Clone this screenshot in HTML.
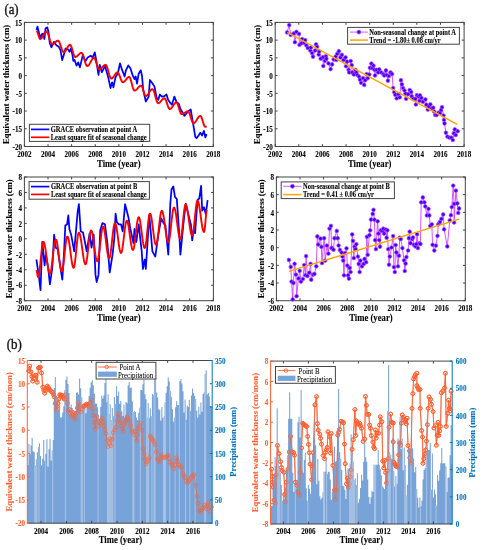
<!DOCTYPE html><html><head><meta charset="utf-8"><style>html,body{margin:0;padding:0;background:#fff;overflow:hidden}svg{display:block;filter:blur(0.3px)}</style></head><body><svg width="483" height="550" viewBox="0 0 483 550"><rect x="0" y="0" width="483" height="550" fill="#fff"/><text transform="translate(4.4 13.9) scale(1 1.08)" font-family="Liberation Serif" font-weight="normal" font-size="12.8" text-anchor="start" fill="#111" stroke="#111" stroke-width="0.3">(a)</text><text transform="translate(6.8 349) scale(1 1.08)" font-family="Liberation Serif" font-weight="normal" font-size="13.0" text-anchor="start" fill="#111" stroke="#111" stroke-width="0.3">(b)</text><line x1="24.4" y1="146.5" x2="24.4" y2="144.1" stroke="#444444" stroke-width="1"/><line x1="24.4" y1="22.4" x2="24.4" y2="24.8" stroke="#444444" stroke-width="1"/><text transform="translate(24.4 156.5) scale(1 1.16)" font-family="Liberation Serif" font-weight="bold" font-size="7.1" text-anchor="middle" fill="#000"  stroke="#000" stroke-width="0.08">2002</text><line x1="48.01" y1="146.5" x2="48.01" y2="144.1" stroke="#444444" stroke-width="1"/><line x1="48.01" y1="22.4" x2="48.01" y2="24.8" stroke="#444444" stroke-width="1"/><text transform="translate(48.01 156.5) scale(1 1.16)" font-family="Liberation Serif" font-weight="bold" font-size="7.1" text-anchor="middle" fill="#000"  stroke="#000" stroke-width="0.08">2004</text><line x1="71.62" y1="146.5" x2="71.62" y2="144.1" stroke="#444444" stroke-width="1"/><line x1="71.62" y1="22.4" x2="71.62" y2="24.8" stroke="#444444" stroke-width="1"/><text transform="translate(71.62 156.5) scale(1 1.16)" font-family="Liberation Serif" font-weight="bold" font-size="7.1" text-anchor="middle" fill="#000"  stroke="#000" stroke-width="0.08">2006</text><line x1="95.24" y1="146.5" x2="95.24" y2="144.1" stroke="#444444" stroke-width="1"/><line x1="95.24" y1="22.4" x2="95.24" y2="24.8" stroke="#444444" stroke-width="1"/><text transform="translate(95.24 156.5) scale(1 1.16)" font-family="Liberation Serif" font-weight="bold" font-size="7.1" text-anchor="middle" fill="#000"  stroke="#000" stroke-width="0.08">2008</text><line x1="118.85" y1="146.5" x2="118.85" y2="144.1" stroke="#444444" stroke-width="1"/><line x1="118.85" y1="22.4" x2="118.85" y2="24.8" stroke="#444444" stroke-width="1"/><text transform="translate(118.85 156.5) scale(1 1.16)" font-family="Liberation Serif" font-weight="bold" font-size="7.1" text-anchor="middle" fill="#000"  stroke="#000" stroke-width="0.08">2010</text><line x1="142.46" y1="146.5" x2="142.46" y2="144.1" stroke="#444444" stroke-width="1"/><line x1="142.46" y1="22.4" x2="142.46" y2="24.8" stroke="#444444" stroke-width="1"/><text transform="translate(142.46 156.5) scale(1 1.16)" font-family="Liberation Serif" font-weight="bold" font-size="7.1" text-anchor="middle" fill="#000"  stroke="#000" stroke-width="0.08">2012</text><line x1="166.07" y1="146.5" x2="166.07" y2="144.1" stroke="#444444" stroke-width="1"/><line x1="166.07" y1="22.4" x2="166.07" y2="24.8" stroke="#444444" stroke-width="1"/><text transform="translate(166.07 156.5) scale(1 1.16)" font-family="Liberation Serif" font-weight="bold" font-size="7.1" text-anchor="middle" fill="#000"  stroke="#000" stroke-width="0.08">2014</text><line x1="189.68" y1="146.5" x2="189.68" y2="144.1" stroke="#444444" stroke-width="1"/><line x1="189.68" y1="22.4" x2="189.68" y2="24.8" stroke="#444444" stroke-width="1"/><text transform="translate(189.68 156.5) scale(1 1.16)" font-family="Liberation Serif" font-weight="bold" font-size="7.1" text-anchor="middle" fill="#000"  stroke="#000" stroke-width="0.08">2016</text><line x1="213.3" y1="146.5" x2="213.3" y2="144.1" stroke="#444444" stroke-width="1"/><line x1="213.3" y1="22.4" x2="213.3" y2="24.8" stroke="#444444" stroke-width="1"/><text transform="translate(213.3 156.5) scale(1 1.16)" font-family="Liberation Serif" font-weight="bold" font-size="7.1" text-anchor="middle" fill="#000"  stroke="#000" stroke-width="0.08">2018</text><line x1="24.4" y1="22.4" x2="26.8" y2="22.4" stroke="#444444" stroke-width="1"/><line x1="213.3" y1="22.4" x2="210.9" y2="22.4" stroke="#444444" stroke-width="1"/><text transform="translate(22 25.6) scale(1 1.16)" font-family="Liberation Serif" font-weight="bold" font-size="7.1" text-anchor="end" fill="#000"  stroke="#000" stroke-width="0.08">15</text><line x1="24.4" y1="40.13" x2="26.8" y2="40.13" stroke="#444444" stroke-width="1"/><line x1="213.3" y1="40.13" x2="210.9" y2="40.13" stroke="#444444" stroke-width="1"/><text transform="translate(22 43.33) scale(1 1.16)" font-family="Liberation Serif" font-weight="bold" font-size="7.1" text-anchor="end" fill="#000"  stroke="#000" stroke-width="0.08">10</text><line x1="24.4" y1="57.86" x2="26.8" y2="57.86" stroke="#444444" stroke-width="1"/><line x1="213.3" y1="57.86" x2="210.9" y2="57.86" stroke="#444444" stroke-width="1"/><text transform="translate(22 61.06) scale(1 1.16)" font-family="Liberation Serif" font-weight="bold" font-size="7.1" text-anchor="end" fill="#000"  stroke="#000" stroke-width="0.08">5</text><line x1="24.4" y1="75.59" x2="26.8" y2="75.59" stroke="#444444" stroke-width="1"/><line x1="213.3" y1="75.59" x2="210.9" y2="75.59" stroke="#444444" stroke-width="1"/><text transform="translate(22 78.79) scale(1 1.16)" font-family="Liberation Serif" font-weight="bold" font-size="7.1" text-anchor="end" fill="#000"  stroke="#000" stroke-width="0.08">0</text><line x1="24.4" y1="93.31" x2="26.8" y2="93.31" stroke="#444444" stroke-width="1"/><line x1="213.3" y1="93.31" x2="210.9" y2="93.31" stroke="#444444" stroke-width="1"/><text transform="translate(22 96.51) scale(1 1.16)" font-family="Liberation Serif" font-weight="bold" font-size="7.1" text-anchor="end" fill="#000"  stroke="#000" stroke-width="0.08">-5</text><line x1="24.4" y1="111.04" x2="26.8" y2="111.04" stroke="#444444" stroke-width="1"/><line x1="213.3" y1="111.04" x2="210.9" y2="111.04" stroke="#444444" stroke-width="1"/><text transform="translate(22 114.24) scale(1 1.16)" font-family="Liberation Serif" font-weight="bold" font-size="7.1" text-anchor="end" fill="#000"  stroke="#000" stroke-width="0.08">-10</text><line x1="24.4" y1="128.77" x2="26.8" y2="128.77" stroke="#444444" stroke-width="1"/><line x1="213.3" y1="128.77" x2="210.9" y2="128.77" stroke="#444444" stroke-width="1"/><text transform="translate(22 131.97) scale(1 1.16)" font-family="Liberation Serif" font-weight="bold" font-size="7.1" text-anchor="end" fill="#000"  stroke="#000" stroke-width="0.08">-15</text><line x1="24.4" y1="146.5" x2="26.8" y2="146.5" stroke="#444444" stroke-width="1"/><line x1="213.3" y1="146.5" x2="210.9" y2="146.5" stroke="#444444" stroke-width="1"/><text transform="translate(22 149.7) scale(1 1.16)" font-family="Liberation Serif" font-weight="bold" font-size="7.1" text-anchor="end" fill="#000"  stroke="#000" stroke-width="0.08">-20</text><rect x="24.4" y="22.4" width="188.9" height="124.1" fill="none" stroke="#444444" stroke-width="1"/><text transform="translate(9.4 84.45) rotate(-90) scale(1.16 1)" font-family="Liberation Serif" font-weight="bold" font-size="7.482758620689656" text-anchor="middle" fill="#000"  stroke="#000" stroke-width="0.08">Equivalent water thickness (cm)</text><polyline points="36.5,30.3 37.5,26.6 38.6,31.1 40.2,38.1 41.9,34 43.1,33.6 44.4,39 45.6,28.2 47.3,27.4 48.5,31.9 49.7,42.7 51.4,47.3 53.9,41.9 56.4,45.2 58.8,46.8 60.5,50.2 62.2,60.1 63.8,55.1 65.5,48.5 68,49.3 69.6,51.8 70.9,48.5 72.5,55.1 73.3,60.9 74.5,59.9 76.6,65.7 78.2,62.4 79.9,67.3 81.1,62.4 82.8,54.9 85.3,61.5 87.7,57.4 90.6,55.7 92.7,57.4 94.8,52.4 96,59 98.5,74.8 99.7,64.8 101.8,72.3 103.9,68.2 105.1,66.5 106.8,72.3 108.4,78.1 110.5,88.1 112.1,82.3 113.4,87.3 115.5,77.4 117.9,73.2 120,63.3 122.1,69.9 124.6,76.5 125.8,70.7 128.3,65.4 130.4,68.3 132.8,75.7 134.5,79 135.7,76.5 137,83.6 138.6,74 140.7,70.3 142,75.7 143.2,89.8 145.8,101.5 148.7,96.6 149.9,80 152.4,83.3 154.5,86.6 156.6,97.4 158.2,99.9 159.9,94.5 161.9,96.6 164.4,96.1 166.5,94.5 168.2,99.9 170.6,103.2 171.9,104.8 174.4,96.6 176.4,101.9 178.9,104 180.3,108.6 182.1,111.8 184.4,115.9 186.6,113.2 188.5,110.9 190.7,109.5 192.1,117.7 193.5,125.9 195.3,136.8 196.6,138.2 198.9,135 200.3,132.7 202.1,135.5 203.9,130.9 205.3,137.3 206.6,134.1" fill="none" stroke="#0000ff" stroke-width="1.75" stroke-linejoin="round"/><polyline points="36.5,31.1 37.07,31.55 37.64,32.8 38.21,34.57 38.78,36.45 39.34,38 39.91,38.88 40.48,38.96 41.05,38.66 41.62,38.07 42.19,37.25 42.76,36.27 43.33,35.2 43.9,34.14 44.46,33.16 45.03,32.36 45.6,31.8 46.17,31.53 46.74,31.61 47.31,32.27 47.88,33.46 48.45,35.07 49.02,36.96 49.58,38.94 50.15,40.83 50.72,42.44 51.29,43.63 51.86,44.29 52.43,44.39 53,44.23 53.57,43.9 54.14,43.45 54.7,42.9 55.27,42.32 55.84,41.76 56.41,41.26 56.98,40.88 57.55,40.66 58.12,40.61 58.69,41 59.26,41.89 59.82,43.21 60.39,44.83 60.96,46.6 61.53,48.35 62.1,49.91 62.67,51.15 63.24,51.93 63.81,52.2 64.38,52.04 64.94,51.59 65.51,50.89 66.08,49.99 66.65,48.96 67.22,47.9 67.79,46.89 68.36,46.01 68.93,45.33 69.5,44.92 70.06,44.8 70.63,45.23 71.2,46.29 71.77,47.87 72.34,49.79 72.91,51.83 73.48,53.78 74.05,55.39 74.62,56.51 75.18,56.99 75.75,56.94 76.32,56.72 76.89,56.35 77.46,55.86 78.03,55.29 78.6,54.69 79.17,54.1 79.74,53.58 80.31,53.17 80.87,52.9 81.44,52.8 82.01,53.05 82.58,53.91 83.15,55.28 83.72,57.05 84.29,59.04 84.86,61.08 85.43,62.96 85.99,64.5 86.56,65.58 87.13,66.07 87.7,66.02 88.27,65.67 88.84,65.04 89.41,64.18 89.98,63.16 90.55,62.06 91.11,60.94 91.68,59.9 92.25,59.01 92.82,58.34 93.39,57.92 93.96,57.8 94.53,58.18 95.1,59.15 95.67,60.6 96.23,62.37 96.8,64.28 97.37,66.12 97.94,67.68 98.51,68.8 99.08,69.35 99.65,69.36 100.22,69.16 100.79,68.78 101.35,68.26 101.92,67.65 102.49,66.99 103.06,66.34 103.63,65.76 104.2,65.28 104.77,64.96 105.34,64.81 105.91,64.97 106.47,65.74 107.04,67.07 107.61,68.84 108.18,70.88 108.75,73 109.32,74.99 109.89,76.68 110.46,77.89 111.03,78.52 111.59,78.57 112.16,78.31 112.73,77.82 113.3,77.14 113.87,76.32 114.44,75.44 115.01,74.56 115.58,73.76 116.15,73.1 116.71,72.64 117.28,72.42 117.85,72.5 118.42,73.09 118.99,74.15 119.56,75.55 120.13,77.14 120.7,78.76 121.27,80.23 121.83,81.38 122.4,82.09 122.97,82.3 123.54,82.16 124.11,81.81 124.68,81.28 125.25,80.6 125.82,79.85 126.39,79.08 126.95,78.34 127.52,77.72 128.09,77.24 128.66,76.97 129.23,76.92 129.8,77.46 130.37,78.68 130.94,80.45 131.51,82.58 132.07,84.84 132.64,86.98 133.21,88.77 133.78,90.01 134.35,90.57 134.92,90.55 135.49,90.33 136.06,89.94 136.63,89.43 137.19,88.81 137.76,88.14 138.33,87.47 138.9,86.85 139.47,86.32 140.04,85.91 140.61,85.67 141.18,85.61 141.75,86.08 142.31,87.24 142.88,88.91 143.45,90.86 144.02,92.81 144.59,94.48 145.16,95.63 145.73,96.09 146.3,96 146.87,95.66 147.43,95.09 148,94.34 148.57,93.47 149.14,92.53 149.71,91.6 150.28,90.74 150.85,90.01 151.42,89.48 151.99,89.17 152.55,89.12 153.12,89.63 153.69,90.76 154.26,92.39 154.83,94.38 155.4,96.53 155.97,98.65 156.54,100.53 157.11,102 157.67,102.92 158.24,103.2 158.81,103.08 159.38,102.77 159.95,102.28 160.52,101.66 161.09,100.97 161.66,100.25 162.23,99.57 162.79,98.98 163.36,98.54 163.93,98.27 164.5,98.21 165.07,98.61 165.64,99.54 166.21,100.92 166.78,102.59 167.35,104.37 167.92,106.07 168.48,107.49 169.05,108.5 169.62,108.97 170.19,108.94 170.76,108.66 171.33,108.16 171.9,107.49 172.47,106.68 173.04,105.8 173.6,104.92 174.17,104.09 174.74,103.38 175.31,102.83 175.88,102.5 176.45,102.4 177.02,102.8 177.59,103.84 178.16,105.39 178.72,107.28 179.29,109.28 179.86,111.16 180.43,112.7 181,113.72 181.57,114.1 182.14,114.05 182.71,113.91 183.28,113.67 183.84,113.36 184.41,113 184.98,112.63 185.55,112.26 186.12,111.94 186.69,111.67 187.26,111.49 187.83,111.4 188.4,111.55 188.96,112.27 189.53,113.52 190.1,115.17 190.67,117.03 191.24,118.93 191.81,120.65 192.38,122.03 192.95,122.91 193.52,123.2 194.08,123.07 194.65,122.69 195.22,122.1 195.79,121.34 196.36,120.45 196.93,119.5 197.5,118.55 198.07,117.68 198.64,116.93 199.2,116.36 199.77,116.01 200.34,115.9 200.91,116.3 201.48,117.33 202.05,118.87 202.62,120.73 203.19,122.66 203.76,124.43 204.32,125.81 204.89,126.62 205.46,126.8 206.03,126.8 206.6,126.8" fill="none" stroke="#ff0000" stroke-width="1.9" stroke-linejoin="round"/><rect x="29.4" y="124.3" width="120.3" height="17.1" fill="#fff" stroke="#444444" stroke-width="1"/><line x1="31" y1="129.4" x2="49.3" y2="129.4" stroke="#0000ff" stroke-width="1.7"/><text transform="translate(50.8 132.1) scale(1 1.16)" font-family="Liberation Serif" font-weight="bold" font-size="6.5" text-anchor="start" fill="#000"  stroke="#000" stroke-width="0.08">GRACE observation at point A</text><line x1="31" y1="137.3" x2="49.3" y2="137.3" stroke="#ff0000" stroke-width="1.7"/><text transform="translate(50.8 140) scale(1 1.16)" font-family="Liberation Serif" font-weight="bold" font-size="6.5" text-anchor="start" fill="#000"  stroke="#000" stroke-width="0.08">Least square fit of seasonal change</text><text transform="translate(118.8 166.8) scale(1 1.16)" font-family="Liberation Serif" font-weight="bold" font-size="8.7" text-anchor="middle" fill="#000"  stroke="#000" stroke-width="0.08">Time (year)</text><line x1="275.2" y1="146.5" x2="275.2" y2="144.1" stroke="#444444" stroke-width="1"/><line x1="275.2" y1="22.4" x2="275.2" y2="24.8" stroke="#444444" stroke-width="1"/><text transform="translate(275.2 156.5) scale(1 1.16)" font-family="Liberation Serif" font-weight="bold" font-size="7.1" text-anchor="middle" fill="#000"  stroke="#000" stroke-width="0.08">2002</text><line x1="298.81" y1="146.5" x2="298.81" y2="144.1" stroke="#444444" stroke-width="1"/><line x1="298.81" y1="22.4" x2="298.81" y2="24.8" stroke="#444444" stroke-width="1"/><text transform="translate(298.81 156.5) scale(1 1.16)" font-family="Liberation Serif" font-weight="bold" font-size="7.1" text-anchor="middle" fill="#000"  stroke="#000" stroke-width="0.08">2004</text><line x1="322.42" y1="146.5" x2="322.42" y2="144.1" stroke="#444444" stroke-width="1"/><line x1="322.42" y1="22.4" x2="322.42" y2="24.8" stroke="#444444" stroke-width="1"/><text transform="translate(322.42 156.5) scale(1 1.16)" font-family="Liberation Serif" font-weight="bold" font-size="7.1" text-anchor="middle" fill="#000"  stroke="#000" stroke-width="0.08">2006</text><line x1="346.04" y1="146.5" x2="346.04" y2="144.1" stroke="#444444" stroke-width="1"/><line x1="346.04" y1="22.4" x2="346.04" y2="24.8" stroke="#444444" stroke-width="1"/><text transform="translate(346.04 156.5) scale(1 1.16)" font-family="Liberation Serif" font-weight="bold" font-size="7.1" text-anchor="middle" fill="#000"  stroke="#000" stroke-width="0.08">2008</text><line x1="369.65" y1="146.5" x2="369.65" y2="144.1" stroke="#444444" stroke-width="1"/><line x1="369.65" y1="22.4" x2="369.65" y2="24.8" stroke="#444444" stroke-width="1"/><text transform="translate(369.65 156.5) scale(1 1.16)" font-family="Liberation Serif" font-weight="bold" font-size="7.1" text-anchor="middle" fill="#000"  stroke="#000" stroke-width="0.08">2010</text><line x1="393.26" y1="146.5" x2="393.26" y2="144.1" stroke="#444444" stroke-width="1"/><line x1="393.26" y1="22.4" x2="393.26" y2="24.8" stroke="#444444" stroke-width="1"/><text transform="translate(393.26 156.5) scale(1 1.16)" font-family="Liberation Serif" font-weight="bold" font-size="7.1" text-anchor="middle" fill="#000"  stroke="#000" stroke-width="0.08">2012</text><line x1="416.87" y1="146.5" x2="416.87" y2="144.1" stroke="#444444" stroke-width="1"/><line x1="416.87" y1="22.4" x2="416.87" y2="24.8" stroke="#444444" stroke-width="1"/><text transform="translate(416.87 156.5) scale(1 1.16)" font-family="Liberation Serif" font-weight="bold" font-size="7.1" text-anchor="middle" fill="#000"  stroke="#000" stroke-width="0.08">2014</text><line x1="440.48" y1="146.5" x2="440.48" y2="144.1" stroke="#444444" stroke-width="1"/><line x1="440.48" y1="22.4" x2="440.48" y2="24.8" stroke="#444444" stroke-width="1"/><text transform="translate(440.48 156.5) scale(1 1.16)" font-family="Liberation Serif" font-weight="bold" font-size="7.1" text-anchor="middle" fill="#000"  stroke="#000" stroke-width="0.08">2016</text><line x1="464.1" y1="146.5" x2="464.1" y2="144.1" stroke="#444444" stroke-width="1"/><line x1="464.1" y1="22.4" x2="464.1" y2="24.8" stroke="#444444" stroke-width="1"/><text transform="translate(464.1 156.5) scale(1 1.16)" font-family="Liberation Serif" font-weight="bold" font-size="7.1" text-anchor="middle" fill="#000"  stroke="#000" stroke-width="0.08">2018</text><line x1="275.2" y1="22.4" x2="277.6" y2="22.4" stroke="#444444" stroke-width="1"/><line x1="464.1" y1="22.4" x2="461.7" y2="22.4" stroke="#444444" stroke-width="1"/><text transform="translate(272.8 25.6) scale(1 1.16)" font-family="Liberation Serif" font-weight="bold" font-size="7.1" text-anchor="end" fill="#000"  stroke="#000" stroke-width="0.08">15</text><line x1="275.2" y1="40.13" x2="277.6" y2="40.13" stroke="#444444" stroke-width="1"/><line x1="464.1" y1="40.13" x2="461.7" y2="40.13" stroke="#444444" stroke-width="1"/><text transform="translate(272.8 43.33) scale(1 1.16)" font-family="Liberation Serif" font-weight="bold" font-size="7.1" text-anchor="end" fill="#000"  stroke="#000" stroke-width="0.08">10</text><line x1="275.2" y1="57.86" x2="277.6" y2="57.86" stroke="#444444" stroke-width="1"/><line x1="464.1" y1="57.86" x2="461.7" y2="57.86" stroke="#444444" stroke-width="1"/><text transform="translate(272.8 61.06) scale(1 1.16)" font-family="Liberation Serif" font-weight="bold" font-size="7.1" text-anchor="end" fill="#000"  stroke="#000" stroke-width="0.08">5</text><line x1="275.2" y1="75.59" x2="277.6" y2="75.59" stroke="#444444" stroke-width="1"/><line x1="464.1" y1="75.59" x2="461.7" y2="75.59" stroke="#444444" stroke-width="1"/><text transform="translate(272.8 78.79) scale(1 1.16)" font-family="Liberation Serif" font-weight="bold" font-size="7.1" text-anchor="end" fill="#000"  stroke="#000" stroke-width="0.08">0</text><line x1="275.2" y1="93.31" x2="277.6" y2="93.31" stroke="#444444" stroke-width="1"/><line x1="464.1" y1="93.31" x2="461.7" y2="93.31" stroke="#444444" stroke-width="1"/><text transform="translate(272.8 96.51) scale(1 1.16)" font-family="Liberation Serif" font-weight="bold" font-size="7.1" text-anchor="end" fill="#000"  stroke="#000" stroke-width="0.08">-5</text><line x1="275.2" y1="111.04" x2="277.6" y2="111.04" stroke="#444444" stroke-width="1"/><line x1="464.1" y1="111.04" x2="461.7" y2="111.04" stroke="#444444" stroke-width="1"/><text transform="translate(272.8 114.24) scale(1 1.16)" font-family="Liberation Serif" font-weight="bold" font-size="7.1" text-anchor="end" fill="#000"  stroke="#000" stroke-width="0.08">-10</text><line x1="275.2" y1="128.77" x2="277.6" y2="128.77" stroke="#444444" stroke-width="1"/><line x1="464.1" y1="128.77" x2="461.7" y2="128.77" stroke="#444444" stroke-width="1"/><text transform="translate(272.8 131.97) scale(1 1.16)" font-family="Liberation Serif" font-weight="bold" font-size="7.1" text-anchor="end" fill="#000"  stroke="#000" stroke-width="0.08">-15</text><line x1="275.2" y1="146.5" x2="277.6" y2="146.5" stroke="#444444" stroke-width="1"/><line x1="464.1" y1="146.5" x2="461.7" y2="146.5" stroke="#444444" stroke-width="1"/><text transform="translate(272.8 149.7) scale(1 1.16)" font-family="Liberation Serif" font-weight="bold" font-size="7.1" text-anchor="end" fill="#000"  stroke="#000" stroke-width="0.08">-20</text><rect x="275.2" y="22.4" width="188.9" height="124.1" fill="none" stroke="#444444" stroke-width="1"/><text transform="translate(259.8 84.45) rotate(-90) scale(1.16 1)" font-family="Liberation Serif" font-weight="bold" font-size="7.482758620689656" text-anchor="middle" fill="#000"  stroke="#000" stroke-width="0.08">Equivalent water thickness (cm)</text><polyline points="287.1,32.4 289.2,25.1 290.7,34.9 293.8,33.4 294.9,42.2 296.4,31.8 299,33.9 299.5,44.8 301.6,43.2 302.1,39.1 304.2,42.7 305.2,40.1 306.3,45.3 307.8,47.9 310.4,50.5 310.9,47.4 312,53.1 313,56.7 315.1,50.5 316.1,44.3 317.1,46.8 318.7,54.6 319.2,51.5 320.7,58.7 322.8,57.2 323.3,66 324.9,60.8 325.9,56.2 326.4,58.7 328.5,63.4 330.6,69.1 332.1,64.4 333.7,59.3 335.7,56.4 336.2,60 337.2,53.8 338.8,51.2 340.4,57.4 341.9,54.8 343.5,60 345.5,57.4 346,66.2 347.1,61.6 348.6,69.8 349.2,72.4 350.7,61 351.7,65.2 352.3,72.4 353.8,74.5 355.4,69.8 356.4,72.4 357.4,75 359,76.6 360,79.7 361.1,82.8 363.1,78.1 364.2,84.9 365.2,80.2 366.7,74 367.8,78.1 369.3,74.5 369.9,67.8 371.4,63.6 372.4,68.3 373.5,65.7 374.5,69.8 375,75.5 376.6,69.8 378.1,72.4 379.2,69.3 381.2,72.4 383.3,74 384.3,75.5 385.9,70.4 386.9,75 387.9,80.7 389,76 390.5,72.4 392.1,74 393.1,88 394.2,92.1 395.2,94.7 396.7,98.3 398.3,94.2 399.8,97.3 400.9,80.2 401.9,84.3 403,88 404.5,90.5 405.5,93.6 406.1,98.8 408.1,94.2 409.7,90 411.2,92.1 411.7,96.2 413.3,98.8 415.4,98.8 415.9,104.5 416.9,95.2 418.5,96.4 419.5,100.8 420,95.4 421.4,97.9 422.9,101.8 425.4,99.4 426.3,104.7 427.8,109.6 428.8,106.7 430.3,104.3 431.7,108.7 433.2,107.7 434.2,111.6 435.2,115 436.6,115 438.6,112.6 440.1,113.1 441,110.1 442,107.2 443.5,115.5 444,119.9 444.5,123.4 445.9,132.7 447.4,136.6 449.4,137.6 451.3,137.6 452.8,140 453.8,133.2 454.8,129.3 455.7,135.1 457.7,131.2" fill="none" stroke="#d040ff" stroke-width="0.9"/><circle cx="287.1" cy="32.4" r="1.85" fill="#3000ff" stroke="#c848ff" stroke-width="0.7"/><circle cx="289.2" cy="25.1" r="1.85" fill="#3000ff" stroke="#c848ff" stroke-width="0.7"/><circle cx="290.7" cy="34.9" r="1.85" fill="#3000ff" stroke="#c848ff" stroke-width="0.7"/><circle cx="293.8" cy="33.4" r="1.85" fill="#3000ff" stroke="#c848ff" stroke-width="0.7"/><circle cx="294.9" cy="42.2" r="1.85" fill="#3000ff" stroke="#c848ff" stroke-width="0.7"/><circle cx="296.4" cy="31.8" r="1.85" fill="#3000ff" stroke="#c848ff" stroke-width="0.7"/><circle cx="299" cy="33.9" r="1.85" fill="#3000ff" stroke="#c848ff" stroke-width="0.7"/><circle cx="299.5" cy="44.8" r="1.85" fill="#3000ff" stroke="#c848ff" stroke-width="0.7"/><circle cx="301.6" cy="43.2" r="1.85" fill="#3000ff" stroke="#c848ff" stroke-width="0.7"/><circle cx="302.1" cy="39.1" r="1.85" fill="#3000ff" stroke="#c848ff" stroke-width="0.7"/><circle cx="304.2" cy="42.7" r="1.85" fill="#3000ff" stroke="#c848ff" stroke-width="0.7"/><circle cx="305.2" cy="40.1" r="1.85" fill="#3000ff" stroke="#c848ff" stroke-width="0.7"/><circle cx="306.3" cy="45.3" r="1.85" fill="#3000ff" stroke="#c848ff" stroke-width="0.7"/><circle cx="307.8" cy="47.9" r="1.85" fill="#3000ff" stroke="#c848ff" stroke-width="0.7"/><circle cx="310.4" cy="50.5" r="1.85" fill="#3000ff" stroke="#c848ff" stroke-width="0.7"/><circle cx="310.9" cy="47.4" r="1.85" fill="#3000ff" stroke="#c848ff" stroke-width="0.7"/><circle cx="312" cy="53.1" r="1.85" fill="#3000ff" stroke="#c848ff" stroke-width="0.7"/><circle cx="313" cy="56.7" r="1.85" fill="#3000ff" stroke="#c848ff" stroke-width="0.7"/><circle cx="315.1" cy="50.5" r="1.85" fill="#3000ff" stroke="#c848ff" stroke-width="0.7"/><circle cx="316.1" cy="44.3" r="1.85" fill="#3000ff" stroke="#c848ff" stroke-width="0.7"/><circle cx="317.1" cy="46.8" r="1.85" fill="#3000ff" stroke="#c848ff" stroke-width="0.7"/><circle cx="318.7" cy="54.6" r="1.85" fill="#3000ff" stroke="#c848ff" stroke-width="0.7"/><circle cx="319.2" cy="51.5" r="1.85" fill="#3000ff" stroke="#c848ff" stroke-width="0.7"/><circle cx="320.7" cy="58.7" r="1.85" fill="#3000ff" stroke="#c848ff" stroke-width="0.7"/><circle cx="322.8" cy="57.2" r="1.85" fill="#3000ff" stroke="#c848ff" stroke-width="0.7"/><circle cx="323.3" cy="66" r="1.85" fill="#3000ff" stroke="#c848ff" stroke-width="0.7"/><circle cx="324.9" cy="60.8" r="1.85" fill="#3000ff" stroke="#c848ff" stroke-width="0.7"/><circle cx="325.9" cy="56.2" r="1.85" fill="#3000ff" stroke="#c848ff" stroke-width="0.7"/><circle cx="326.4" cy="58.7" r="1.85" fill="#3000ff" stroke="#c848ff" stroke-width="0.7"/><circle cx="328.5" cy="63.4" r="1.85" fill="#3000ff" stroke="#c848ff" stroke-width="0.7"/><circle cx="330.6" cy="69.1" r="1.85" fill="#3000ff" stroke="#c848ff" stroke-width="0.7"/><circle cx="332.1" cy="64.4" r="1.85" fill="#3000ff" stroke="#c848ff" stroke-width="0.7"/><circle cx="333.7" cy="59.3" r="1.85" fill="#3000ff" stroke="#c848ff" stroke-width="0.7"/><circle cx="335.7" cy="56.4" r="1.85" fill="#3000ff" stroke="#c848ff" stroke-width="0.7"/><circle cx="336.2" cy="60" r="1.85" fill="#3000ff" stroke="#c848ff" stroke-width="0.7"/><circle cx="337.2" cy="53.8" r="1.85" fill="#3000ff" stroke="#c848ff" stroke-width="0.7"/><circle cx="338.8" cy="51.2" r="1.85" fill="#3000ff" stroke="#c848ff" stroke-width="0.7"/><circle cx="340.4" cy="57.4" r="1.85" fill="#3000ff" stroke="#c848ff" stroke-width="0.7"/><circle cx="341.9" cy="54.8" r="1.85" fill="#3000ff" stroke="#c848ff" stroke-width="0.7"/><circle cx="343.5" cy="60" r="1.85" fill="#3000ff" stroke="#c848ff" stroke-width="0.7"/><circle cx="345.5" cy="57.4" r="1.85" fill="#3000ff" stroke="#c848ff" stroke-width="0.7"/><circle cx="346" cy="66.2" r="1.85" fill="#3000ff" stroke="#c848ff" stroke-width="0.7"/><circle cx="347.1" cy="61.6" r="1.85" fill="#3000ff" stroke="#c848ff" stroke-width="0.7"/><circle cx="348.6" cy="69.8" r="1.85" fill="#3000ff" stroke="#c848ff" stroke-width="0.7"/><circle cx="349.2" cy="72.4" r="1.85" fill="#3000ff" stroke="#c848ff" stroke-width="0.7"/><circle cx="350.7" cy="61" r="1.85" fill="#3000ff" stroke="#c848ff" stroke-width="0.7"/><circle cx="351.7" cy="65.2" r="1.85" fill="#3000ff" stroke="#c848ff" stroke-width="0.7"/><circle cx="352.3" cy="72.4" r="1.85" fill="#3000ff" stroke="#c848ff" stroke-width="0.7"/><circle cx="353.8" cy="74.5" r="1.85" fill="#3000ff" stroke="#c848ff" stroke-width="0.7"/><circle cx="355.4" cy="69.8" r="1.85" fill="#3000ff" stroke="#c848ff" stroke-width="0.7"/><circle cx="356.4" cy="72.4" r="1.85" fill="#3000ff" stroke="#c848ff" stroke-width="0.7"/><circle cx="357.4" cy="75" r="1.85" fill="#3000ff" stroke="#c848ff" stroke-width="0.7"/><circle cx="359" cy="76.6" r="1.85" fill="#3000ff" stroke="#c848ff" stroke-width="0.7"/><circle cx="360" cy="79.7" r="1.85" fill="#3000ff" stroke="#c848ff" stroke-width="0.7"/><circle cx="361.1" cy="82.8" r="1.85" fill="#3000ff" stroke="#c848ff" stroke-width="0.7"/><circle cx="363.1" cy="78.1" r="1.85" fill="#3000ff" stroke="#c848ff" stroke-width="0.7"/><circle cx="364.2" cy="84.9" r="1.85" fill="#3000ff" stroke="#c848ff" stroke-width="0.7"/><circle cx="365.2" cy="80.2" r="1.85" fill="#3000ff" stroke="#c848ff" stroke-width="0.7"/><circle cx="366.7" cy="74" r="1.85" fill="#3000ff" stroke="#c848ff" stroke-width="0.7"/><circle cx="367.8" cy="78.1" r="1.85" fill="#3000ff" stroke="#c848ff" stroke-width="0.7"/><circle cx="369.3" cy="74.5" r="1.85" fill="#3000ff" stroke="#c848ff" stroke-width="0.7"/><circle cx="369.9" cy="67.8" r="1.85" fill="#3000ff" stroke="#c848ff" stroke-width="0.7"/><circle cx="371.4" cy="63.6" r="1.85" fill="#3000ff" stroke="#c848ff" stroke-width="0.7"/><circle cx="372.4" cy="68.3" r="1.85" fill="#3000ff" stroke="#c848ff" stroke-width="0.7"/><circle cx="373.5" cy="65.7" r="1.85" fill="#3000ff" stroke="#c848ff" stroke-width="0.7"/><circle cx="374.5" cy="69.8" r="1.85" fill="#3000ff" stroke="#c848ff" stroke-width="0.7"/><circle cx="375" cy="75.5" r="1.85" fill="#3000ff" stroke="#c848ff" stroke-width="0.7"/><circle cx="376.6" cy="69.8" r="1.85" fill="#3000ff" stroke="#c848ff" stroke-width="0.7"/><circle cx="378.1" cy="72.4" r="1.85" fill="#3000ff" stroke="#c848ff" stroke-width="0.7"/><circle cx="379.2" cy="69.3" r="1.85" fill="#3000ff" stroke="#c848ff" stroke-width="0.7"/><circle cx="381.2" cy="72.4" r="1.85" fill="#3000ff" stroke="#c848ff" stroke-width="0.7"/><circle cx="383.3" cy="74" r="1.85" fill="#3000ff" stroke="#c848ff" stroke-width="0.7"/><circle cx="384.3" cy="75.5" r="1.85" fill="#3000ff" stroke="#c848ff" stroke-width="0.7"/><circle cx="385.9" cy="70.4" r="1.85" fill="#3000ff" stroke="#c848ff" stroke-width="0.7"/><circle cx="386.9" cy="75" r="1.85" fill="#3000ff" stroke="#c848ff" stroke-width="0.7"/><circle cx="387.9" cy="80.7" r="1.85" fill="#3000ff" stroke="#c848ff" stroke-width="0.7"/><circle cx="389" cy="76" r="1.85" fill="#3000ff" stroke="#c848ff" stroke-width="0.7"/><circle cx="390.5" cy="72.4" r="1.85" fill="#3000ff" stroke="#c848ff" stroke-width="0.7"/><circle cx="392.1" cy="74" r="1.85" fill="#3000ff" stroke="#c848ff" stroke-width="0.7"/><circle cx="393.1" cy="88" r="1.85" fill="#3000ff" stroke="#c848ff" stroke-width="0.7"/><circle cx="394.2" cy="92.1" r="1.85" fill="#3000ff" stroke="#c848ff" stroke-width="0.7"/><circle cx="395.2" cy="94.7" r="1.85" fill="#3000ff" stroke="#c848ff" stroke-width="0.7"/><circle cx="396.7" cy="98.3" r="1.85" fill="#3000ff" stroke="#c848ff" stroke-width="0.7"/><circle cx="398.3" cy="94.2" r="1.85" fill="#3000ff" stroke="#c848ff" stroke-width="0.7"/><circle cx="399.8" cy="97.3" r="1.85" fill="#3000ff" stroke="#c848ff" stroke-width="0.7"/><circle cx="400.9" cy="80.2" r="1.85" fill="#3000ff" stroke="#c848ff" stroke-width="0.7"/><circle cx="401.9" cy="84.3" r="1.85" fill="#3000ff" stroke="#c848ff" stroke-width="0.7"/><circle cx="403" cy="88" r="1.85" fill="#3000ff" stroke="#c848ff" stroke-width="0.7"/><circle cx="404.5" cy="90.5" r="1.85" fill="#3000ff" stroke="#c848ff" stroke-width="0.7"/><circle cx="405.5" cy="93.6" r="1.85" fill="#3000ff" stroke="#c848ff" stroke-width="0.7"/><circle cx="406.1" cy="98.8" r="1.85" fill="#3000ff" stroke="#c848ff" stroke-width="0.7"/><circle cx="408.1" cy="94.2" r="1.85" fill="#3000ff" stroke="#c848ff" stroke-width="0.7"/><circle cx="409.7" cy="90" r="1.85" fill="#3000ff" stroke="#c848ff" stroke-width="0.7"/><circle cx="411.2" cy="92.1" r="1.85" fill="#3000ff" stroke="#c848ff" stroke-width="0.7"/><circle cx="411.7" cy="96.2" r="1.85" fill="#3000ff" stroke="#c848ff" stroke-width="0.7"/><circle cx="413.3" cy="98.8" r="1.85" fill="#3000ff" stroke="#c848ff" stroke-width="0.7"/><circle cx="415.4" cy="98.8" r="1.85" fill="#3000ff" stroke="#c848ff" stroke-width="0.7"/><circle cx="415.9" cy="104.5" r="1.85" fill="#3000ff" stroke="#c848ff" stroke-width="0.7"/><circle cx="416.9" cy="95.2" r="1.85" fill="#3000ff" stroke="#c848ff" stroke-width="0.7"/><circle cx="418.5" cy="96.4" r="1.85" fill="#3000ff" stroke="#c848ff" stroke-width="0.7"/><circle cx="419.5" cy="100.8" r="1.85" fill="#3000ff" stroke="#c848ff" stroke-width="0.7"/><circle cx="420" cy="95.4" r="1.85" fill="#3000ff" stroke="#c848ff" stroke-width="0.7"/><circle cx="421.4" cy="97.9" r="1.85" fill="#3000ff" stroke="#c848ff" stroke-width="0.7"/><circle cx="422.9" cy="101.8" r="1.85" fill="#3000ff" stroke="#c848ff" stroke-width="0.7"/><circle cx="425.4" cy="99.4" r="1.85" fill="#3000ff" stroke="#c848ff" stroke-width="0.7"/><circle cx="426.3" cy="104.7" r="1.85" fill="#3000ff" stroke="#c848ff" stroke-width="0.7"/><circle cx="427.8" cy="109.6" r="1.85" fill="#3000ff" stroke="#c848ff" stroke-width="0.7"/><circle cx="428.8" cy="106.7" r="1.85" fill="#3000ff" stroke="#c848ff" stroke-width="0.7"/><circle cx="430.3" cy="104.3" r="1.85" fill="#3000ff" stroke="#c848ff" stroke-width="0.7"/><circle cx="431.7" cy="108.7" r="1.85" fill="#3000ff" stroke="#c848ff" stroke-width="0.7"/><circle cx="433.2" cy="107.7" r="1.85" fill="#3000ff" stroke="#c848ff" stroke-width="0.7"/><circle cx="434.2" cy="111.6" r="1.85" fill="#3000ff" stroke="#c848ff" stroke-width="0.7"/><circle cx="435.2" cy="115" r="1.85" fill="#3000ff" stroke="#c848ff" stroke-width="0.7"/><circle cx="436.6" cy="115" r="1.85" fill="#3000ff" stroke="#c848ff" stroke-width="0.7"/><circle cx="438.6" cy="112.6" r="1.85" fill="#3000ff" stroke="#c848ff" stroke-width="0.7"/><circle cx="440.1" cy="113.1" r="1.85" fill="#3000ff" stroke="#c848ff" stroke-width="0.7"/><circle cx="441" cy="110.1" r="1.85" fill="#3000ff" stroke="#c848ff" stroke-width="0.7"/><circle cx="442" cy="107.2" r="1.85" fill="#3000ff" stroke="#c848ff" stroke-width="0.7"/><circle cx="443.5" cy="115.5" r="1.85" fill="#3000ff" stroke="#c848ff" stroke-width="0.7"/><circle cx="444" cy="119.9" r="1.85" fill="#3000ff" stroke="#c848ff" stroke-width="0.7"/><circle cx="444.5" cy="123.4" r="1.85" fill="#3000ff" stroke="#c848ff" stroke-width="0.7"/><circle cx="445.9" cy="132.7" r="1.85" fill="#3000ff" stroke="#c848ff" stroke-width="0.7"/><circle cx="447.4" cy="136.6" r="1.85" fill="#3000ff" stroke="#c848ff" stroke-width="0.7"/><circle cx="449.4" cy="137.6" r="1.85" fill="#3000ff" stroke="#c848ff" stroke-width="0.7"/><circle cx="451.3" cy="137.6" r="1.85" fill="#3000ff" stroke="#c848ff" stroke-width="0.7"/><circle cx="452.8" cy="140" r="1.85" fill="#3000ff" stroke="#c848ff" stroke-width="0.7"/><circle cx="453.8" cy="133.2" r="1.85" fill="#3000ff" stroke="#c848ff" stroke-width="0.7"/><circle cx="454.8" cy="129.3" r="1.85" fill="#3000ff" stroke="#c848ff" stroke-width="0.7"/><circle cx="455.7" cy="135.1" r="1.85" fill="#3000ff" stroke="#c848ff" stroke-width="0.7"/><circle cx="457.7" cy="131.2" r="1.85" fill="#3000ff" stroke="#c848ff" stroke-width="0.7"/><line x1="287.19" y1="32.4" x2="457.25" y2="124.33" stroke="#ffa500" stroke-width="1.5"/><rect x="347.6" y="27.4" width="111.8" height="16.8" fill="#fff" stroke="#444444" stroke-width="1"/><line x1="349.9" y1="32.1" x2="367.9" y2="32.1" stroke="#cc33ff" stroke-width="0.8"/><circle cx="358.9" cy="32.1" r="2.0" fill="#2a00ff" stroke="#d050ff" stroke-width="0.8"/><text transform="translate(369.3 34.8) scale(1 1.16)" font-family="Liberation Serif" font-weight="bold" font-size="6.5" text-anchor="start" fill="#000"  stroke="#000" stroke-width="0.08">Non-seasonal change at point A</text><line x1="349.9" y1="40.1" x2="367.9" y2="40.1" stroke="#ffa500" stroke-width="1.5"/><text transform="translate(369.3 42.8) scale(1 1.16)" font-family="Liberation Serif" font-weight="bold" font-size="6.5" text-anchor="start" fill="#000"  stroke="#000" stroke-width="0.08">Trend = -1.80± 0.08 cm/yr</text><text transform="translate(369.7 166.8) scale(1 1.16)" font-family="Liberation Serif" font-weight="bold" font-size="8.7" text-anchor="middle" fill="#000"  stroke="#000" stroke-width="0.08">Time (year)</text><line x1="24.4" y1="300.7" x2="24.4" y2="298.3" stroke="#444444" stroke-width="1"/><line x1="24.4" y1="177" x2="24.4" y2="179.4" stroke="#444444" stroke-width="1"/><text transform="translate(24.4 310.7) scale(1 1.16)" font-family="Liberation Serif" font-weight="bold" font-size="7.1" text-anchor="middle" fill="#000"  stroke="#000" stroke-width="0.08">2002</text><line x1="48.01" y1="300.7" x2="48.01" y2="298.3" stroke="#444444" stroke-width="1"/><line x1="48.01" y1="177" x2="48.01" y2="179.4" stroke="#444444" stroke-width="1"/><text transform="translate(48.01 310.7) scale(1 1.16)" font-family="Liberation Serif" font-weight="bold" font-size="7.1" text-anchor="middle" fill="#000"  stroke="#000" stroke-width="0.08">2004</text><line x1="71.62" y1="300.7" x2="71.62" y2="298.3" stroke="#444444" stroke-width="1"/><line x1="71.62" y1="177" x2="71.62" y2="179.4" stroke="#444444" stroke-width="1"/><text transform="translate(71.62 310.7) scale(1 1.16)" font-family="Liberation Serif" font-weight="bold" font-size="7.1" text-anchor="middle" fill="#000"  stroke="#000" stroke-width="0.08">2006</text><line x1="95.24" y1="300.7" x2="95.24" y2="298.3" stroke="#444444" stroke-width="1"/><line x1="95.24" y1="177" x2="95.24" y2="179.4" stroke="#444444" stroke-width="1"/><text transform="translate(95.24 310.7) scale(1 1.16)" font-family="Liberation Serif" font-weight="bold" font-size="7.1" text-anchor="middle" fill="#000"  stroke="#000" stroke-width="0.08">2008</text><line x1="118.85" y1="300.7" x2="118.85" y2="298.3" stroke="#444444" stroke-width="1"/><line x1="118.85" y1="177" x2="118.85" y2="179.4" stroke="#444444" stroke-width="1"/><text transform="translate(118.85 310.7) scale(1 1.16)" font-family="Liberation Serif" font-weight="bold" font-size="7.1" text-anchor="middle" fill="#000"  stroke="#000" stroke-width="0.08">2010</text><line x1="142.46" y1="300.7" x2="142.46" y2="298.3" stroke="#444444" stroke-width="1"/><line x1="142.46" y1="177" x2="142.46" y2="179.4" stroke="#444444" stroke-width="1"/><text transform="translate(142.46 310.7) scale(1 1.16)" font-family="Liberation Serif" font-weight="bold" font-size="7.1" text-anchor="middle" fill="#000"  stroke="#000" stroke-width="0.08">2012</text><line x1="166.07" y1="300.7" x2="166.07" y2="298.3" stroke="#444444" stroke-width="1"/><line x1="166.07" y1="177" x2="166.07" y2="179.4" stroke="#444444" stroke-width="1"/><text transform="translate(166.07 310.7) scale(1 1.16)" font-family="Liberation Serif" font-weight="bold" font-size="7.1" text-anchor="middle" fill="#000"  stroke="#000" stroke-width="0.08">2014</text><line x1="189.68" y1="300.7" x2="189.68" y2="298.3" stroke="#444444" stroke-width="1"/><line x1="189.68" y1="177" x2="189.68" y2="179.4" stroke="#444444" stroke-width="1"/><text transform="translate(189.68 310.7) scale(1 1.16)" font-family="Liberation Serif" font-weight="bold" font-size="7.1" text-anchor="middle" fill="#000"  stroke="#000" stroke-width="0.08">2016</text><line x1="213.3" y1="300.7" x2="213.3" y2="298.3" stroke="#444444" stroke-width="1"/><line x1="213.3" y1="177" x2="213.3" y2="179.4" stroke="#444444" stroke-width="1"/><text transform="translate(213.3 310.7) scale(1 1.16)" font-family="Liberation Serif" font-weight="bold" font-size="7.1" text-anchor="middle" fill="#000"  stroke="#000" stroke-width="0.08">2018</text><line x1="24.4" y1="177" x2="26.8" y2="177" stroke="#444444" stroke-width="1"/><line x1="213.4" y1="177" x2="211" y2="177" stroke="#444444" stroke-width="1"/><text transform="translate(22 180.2) scale(1 1.16)" font-family="Liberation Serif" font-weight="bold" font-size="7.1" text-anchor="end" fill="#000"  stroke="#000" stroke-width="0.08">8</text><line x1="24.4" y1="192.46" x2="26.8" y2="192.46" stroke="#444444" stroke-width="1"/><line x1="213.4" y1="192.46" x2="211" y2="192.46" stroke="#444444" stroke-width="1"/><text transform="translate(22 195.66) scale(1 1.16)" font-family="Liberation Serif" font-weight="bold" font-size="7.1" text-anchor="end" fill="#000"  stroke="#000" stroke-width="0.08">6</text><line x1="24.4" y1="207.92" x2="26.8" y2="207.92" stroke="#444444" stroke-width="1"/><line x1="213.4" y1="207.92" x2="211" y2="207.92" stroke="#444444" stroke-width="1"/><text transform="translate(22 211.12) scale(1 1.16)" font-family="Liberation Serif" font-weight="bold" font-size="7.1" text-anchor="end" fill="#000"  stroke="#000" stroke-width="0.08">4</text><line x1="24.4" y1="223.39" x2="26.8" y2="223.39" stroke="#444444" stroke-width="1"/><line x1="213.4" y1="223.39" x2="211" y2="223.39" stroke="#444444" stroke-width="1"/><text transform="translate(22 226.59) scale(1 1.16)" font-family="Liberation Serif" font-weight="bold" font-size="7.1" text-anchor="end" fill="#000"  stroke="#000" stroke-width="0.08">2</text><line x1="24.4" y1="238.85" x2="26.8" y2="238.85" stroke="#444444" stroke-width="1"/><line x1="213.4" y1="238.85" x2="211" y2="238.85" stroke="#444444" stroke-width="1"/><text transform="translate(22 242.05) scale(1 1.16)" font-family="Liberation Serif" font-weight="bold" font-size="7.1" text-anchor="end" fill="#000"  stroke="#000" stroke-width="0.08">0</text><line x1="24.4" y1="254.31" x2="26.8" y2="254.31" stroke="#444444" stroke-width="1"/><line x1="213.4" y1="254.31" x2="211" y2="254.31" stroke="#444444" stroke-width="1"/><text transform="translate(22 257.51) scale(1 1.16)" font-family="Liberation Serif" font-weight="bold" font-size="7.1" text-anchor="end" fill="#000"  stroke="#000" stroke-width="0.08">-2</text><line x1="24.4" y1="269.77" x2="26.8" y2="269.77" stroke="#444444" stroke-width="1"/><line x1="213.4" y1="269.77" x2="211" y2="269.77" stroke="#444444" stroke-width="1"/><text transform="translate(22 272.97) scale(1 1.16)" font-family="Liberation Serif" font-weight="bold" font-size="7.1" text-anchor="end" fill="#000"  stroke="#000" stroke-width="0.08">-4</text><line x1="24.4" y1="285.23" x2="26.8" y2="285.23" stroke="#444444" stroke-width="1"/><line x1="213.4" y1="285.23" x2="211" y2="285.23" stroke="#444444" stroke-width="1"/><text transform="translate(22 288.43) scale(1 1.16)" font-family="Liberation Serif" font-weight="bold" font-size="7.1" text-anchor="end" fill="#000"  stroke="#000" stroke-width="0.08">-6</text><line x1="24.4" y1="300.7" x2="26.8" y2="300.7" stroke="#444444" stroke-width="1"/><line x1="213.4" y1="300.7" x2="211" y2="300.7" stroke="#444444" stroke-width="1"/><text transform="translate(22 303.9) scale(1 1.16)" font-family="Liberation Serif" font-weight="bold" font-size="7.1" text-anchor="end" fill="#000"  stroke="#000" stroke-width="0.08">-8</text><rect x="24.4" y="177" width="189" height="123.7" fill="none" stroke="#444444" stroke-width="1"/><text transform="translate(12.4 238.85) rotate(-90) scale(1.16 1)" font-family="Liberation Serif" font-weight="bold" font-size="7.482758620689656" text-anchor="middle" fill="#000"  stroke="#000" stroke-width="0.08">Equivalent water thickness (cm)</text><polyline points="36.4,259.5 38.7,274.9 40.5,290.2 42.3,241.8 43.4,252.4 44.6,265.4 45.8,254.8 48.2,267.8 49.9,284.3 52.3,267.8 54.1,234.7 55.8,247.7 57.6,248.9 59.4,260.7 62.3,279.6 64.1,251.4 65.3,225.4 67.1,224.3 68.3,215.4 69.4,229 71.2,234.9 74.2,251.4 77.7,211.3 78.9,204.2 80.7,231.3 83,232.5 84.9,241.8 86.7,251.3 89.6,233.5 91.5,247.7 93.7,234.5 95.5,274.9 96.7,282 98.5,274.9 100.2,230.2 102.5,223.1 105,224.3 107.4,243.1 109.7,272.5 112.7,253.6 114.4,237.1 115.6,213.6 116.8,221.9 118.6,224.3 121,224.3 122.7,231.3 125.1,204.2 126.9,211.3 128.6,218.3 130.4,229 133.4,243 134.5,229 136.3,242 138.7,224.3 141.7,251.3 142.9,269 144.7,259.5 145.8,269 147.6,241.8 149.3,214.8 150,223.1 152.4,251.4 155.3,256.6 158.3,234.9 161.2,218.3 163.6,223.1 165.4,225.4 168.3,254.6 170.3,203.6 171.5,189.5 173.3,186.5 175,197.1 176.8,198.9 179.2,233.2 180.4,254.6 183.3,224.9 185.7,203.6 188.6,215.5 191,224.9 192.2,240.4 194,227.3 195.1,233.3 197.5,200.1 199.3,198.3 201.1,185.9 202.2,210.7 204,207.2 205.8,214.3 207.6,200.1" fill="none" stroke="#0000ff" stroke-width="1.75" stroke-linejoin="round"/><polyline points="36.4,270.2 36.83,271.24 37.26,273.73 37.68,276.21 38.11,277.2 38.54,276.61 38.97,274.92 39.39,272.25 39.82,268.77 40.25,264.69 40.68,260.28 41.1,255.82 41.53,251.6 41.96,247.88 42.39,244.9 42.81,242.86 43.24,241.88 43.67,241.93 44.1,242.69 44.52,244.1 44.95,246.08 45.38,248.56 45.81,251.43 46.23,254.57 46.66,257.84 47.09,261.11 47.52,264.24 47.94,267.09 48.37,269.54 48.8,271.5 49.23,272.86 49.65,273.59 50.08,273.62 50.51,272.8 50.94,271.15 51.36,268.74 51.79,265.7 52.22,262.2 52.65,258.39 53.08,254.5 53.5,250.71 53.93,247.22 54.36,244.21 54.79,241.84 55.21,240.23 55.64,239.46 56.07,239.56 56.5,240.45 56.92,242.08 57.35,244.38 57.78,247.22 58.21,250.47 58.63,253.96 59.06,257.52 59.49,260.98 59.92,264.15 60.34,266.88 60.77,269.04 61.2,270.52 61.63,271.23 62.05,271.12 62.48,270.04 62.91,268.04 63.34,265.22 63.76,261.76 64.19,257.85 64.62,253.71 65.05,249.58 65.47,245.7 65.9,242.29 66.33,239.54 66.76,237.62 67.18,236.63 67.61,236.59 68.04,237.32 68.47,238.73 68.9,240.78 69.32,243.36 69.75,246.35 70.18,249.61 70.61,252.99 71.03,256.33 71.46,259.47 71.89,262.27 72.32,264.6 72.74,266.35 73.17,267.43 73.6,267.8 74.03,267.24 74.45,265.59 74.88,262.95 75.31,259.49 75.74,255.44 76.16,251.05 76.59,246.6 77.02,242.38 77.45,238.65 77.87,235.66 78.3,233.6 78.73,232.59 79.16,232.62 79.58,233.34 80.01,234.68 80.44,236.58 80.87,238.98 81.29,241.76 81.72,244.82 82.15,248.02 82.58,251.24 83.01,254.34 83.43,257.2 83.86,259.7 84.29,261.73 84.72,263.2 85.14,264.07 85.57,264.29 86,263.64 86.43,262.07 86.85,259.65 87.28,256.52 87.71,252.87 88.14,248.91 88.56,244.85 88.99,240.94 89.42,237.4 89.85,234.42 90.27,232.19 90.7,230.82 91.13,230.4 91.56,230.81 91.98,231.92 92.41,233.69 92.84,236.02 93.27,238.81 93.69,241.93 94.12,245.24 94.55,248.57 94.98,251.78 95.4,254.71 95.83,257.22 96.26,259.2 96.69,260.56 97.11,261.23 97.54,261.15 97.97,260.17 98.4,258.32 98.83,255.71 99.25,252.47 99.68,248.77 100.11,244.82 100.54,240.82 100.96,236.98 101.39,233.52 101.82,230.62 102.25,228.42 102.67,227.06 103.1,226.6 103.53,227 103.96,228.17 104.38,230.05 104.81,232.55 105.24,235.54 105.67,238.88 106.09,242.4 106.52,245.92 106.95,249.27 107.38,252.27 107.8,254.79 108.23,256.69 108.66,257.88 109.09,258.3 109.51,257.87 109.94,256.56 110.37,254.43 110.8,251.59 111.22,248.19 111.65,244.4 112.08,240.42 112.51,236.46 112.93,232.71 113.36,229.38 113.79,226.63 114.22,224.61 114.65,223.41 115.07,223.11 115.5,223.61 115.93,224.83 116.36,226.71 116.78,229.16 117.21,232.04 117.64,235.23 118.07,238.56 118.49,241.87 118.92,244.98 119.35,247.75 119.78,250.03 120.2,251.72 120.63,252.72 121.06,252.99 121.49,252.44 121.91,251.06 122.34,248.92 122.77,246.14 123.2,242.86 123.62,239.25 124.05,235.53 124.48,231.87 124.91,228.47 125.33,225.53 125.76,223.19 126.19,221.58 126.62,220.78 127.04,220.82 127.47,221.57 127.9,222.99 128.33,225 128.75,227.52 129.18,230.41 129.61,233.54 130.04,236.76 130.47,239.91 130.89,242.84 131.32,245.41 131.75,247.5 132.18,248.99 132.6,249.83 133.03,249.96 133.46,249.26 133.89,247.72 134.31,245.42 134.74,242.5 135.17,239.1 135.6,235.41 136.02,231.62 136.45,227.94 136.88,224.55 137.31,221.66 137.73,219.39 138.16,217.89 138.59,217.23 139.02,217.41 139.44,218.35 139.87,220.01 140.3,222.29 140.73,225.09 141.15,228.26 141.58,231.65 142.01,235.08 142.44,238.4 142.86,241.42 143.29,244 143.72,246.02 144.15,247.36 144.57,247.97 145,247.72 145.43,246.41 145.86,244.11 146.29,240.95 146.71,237.14 147.14,232.93 147.57,228.58 148,224.38 148.42,220.58 148.85,217.44 149.28,215.15 149.71,213.86 150.13,213.64 150.56,214.27 150.99,215.64 151.42,217.7 151.84,220.32 152.27,223.39 152.7,226.75 153.13,230.23 153.55,233.66 153.98,236.87 154.41,239.69 154.84,241.99 155.26,243.66 155.69,244.6 156.12,244.76 156.55,244.06 156.97,242.48 157.4,240.12 157.83,237.09 158.26,233.57 158.68,229.73 159.11,225.79 159.54,221.96 159.97,218.43 160.39,215.4 160.82,213.03 161.25,211.45 161.68,210.74 162.11,210.87 162.53,211.67 162.96,213.11 163.39,215.1 163.82,217.58 164.24,220.43 164.67,223.54 165.1,226.77 165.53,229.98 165.95,233.04 166.38,235.82 166.81,238.19 167.24,240.07 167.66,241.36 168.09,242.02 168.52,241.97 168.95,241.01 169.37,239.16 169.8,236.51 170.23,233.21 170.66,229.45 171.08,225.43 171.51,221.37 171.94,217.51 172.37,214.05 172.79,211.18 173.22,209.07 173.65,207.82 174.08,207.51 174.5,207.98 174.93,209.13 175.36,210.89 175.79,213.2 176.22,215.95 176.64,219.03 177.07,222.29 177.5,225.6 177.93,228.81 178.35,231.77 178.78,234.36 179.21,236.47 179.64,238 180.06,238.88 180.49,239.07 180.92,238.26 181.35,236.35 181.77,233.48 182.2,229.83 182.63,225.65 183.06,221.21 183.48,216.82 183.91,212.75 184.34,209.28 184.77,206.65 185.19,205.02 185.62,204.5 186.05,204.85 186.48,205.83 186.9,207.4 187.33,209.49 187.76,212.02 188.19,214.87 188.61,217.94 189.04,221.1 189.47,224.22 189.9,227.16 190.32,229.81 190.75,232.05 191.18,233.8 191.61,234.99 192.04,235.55 192.46,235.39 192.89,234.16 193.32,231.91 193.75,228.78 194.17,224.97 194.6,220.72 195.03,216.31 195.46,212.02 195.88,208.12 196.31,204.86 196.74,202.45 197.17,201.04 197.59,200.72 198.02,201.19 198.45,202.32 198.88,204.04 199.3,206.28 199.73,208.95 200.16,211.94 200.59,215.11 201.01,218.34 201.44,221.48 201.87,224.41 202.3,226.99 202.72,229.12 203.15,230.7 203.58,231.68 204.01,232 204.43,230.89 204.86,227.83 205.29,223.44 205.72,218.58 206.14,214.2 206.57,211.18 207,210.1" fill="none" stroke="#ff0000" stroke-width="1.9" stroke-linejoin="round"/><rect x="29.1" y="181.6" width="120.3" height="17.6" fill="#fff" stroke="#444444" stroke-width="1"/><line x1="31" y1="186.6" x2="49.3" y2="186.6" stroke="#0000ff" stroke-width="1.7"/><text transform="translate(50.9 189.3) scale(1 1.16)" font-family="Liberation Serif" font-weight="bold" font-size="6.5" text-anchor="start" fill="#000"  stroke="#000" stroke-width="0.08">GRACE observation at point B</text><line x1="31" y1="194.4" x2="49.3" y2="194.4" stroke="#ff0000" stroke-width="1.7"/><text transform="translate(50.9 197.1) scale(1 1.16)" font-family="Liberation Serif" font-weight="bold" font-size="6.5" text-anchor="start" fill="#000"  stroke="#000" stroke-width="0.08">Least square fit of seasonal change</text><text transform="translate(118.8 321.1) scale(1 1.16)" font-family="Liberation Serif" font-weight="bold" font-size="8.7" text-anchor="middle" fill="#000"  stroke="#000" stroke-width="0.08">Time (year)</text><line x1="276.4" y1="300.7" x2="276.4" y2="298.3" stroke="#444444" stroke-width="1"/><line x1="276.4" y1="177" x2="276.4" y2="179.4" stroke="#444444" stroke-width="1"/><text transform="translate(276.4 310.7) scale(1 1.16)" font-family="Liberation Serif" font-weight="bold" font-size="7.1" text-anchor="middle" fill="#000"  stroke="#000" stroke-width="0.08">2002</text><line x1="300.01" y1="300.7" x2="300.01" y2="298.3" stroke="#444444" stroke-width="1"/><line x1="300.01" y1="177" x2="300.01" y2="179.4" stroke="#444444" stroke-width="1"/><text transform="translate(300.01 310.7) scale(1 1.16)" font-family="Liberation Serif" font-weight="bold" font-size="7.1" text-anchor="middle" fill="#000"  stroke="#000" stroke-width="0.08">2004</text><line x1="323.62" y1="300.7" x2="323.62" y2="298.3" stroke="#444444" stroke-width="1"/><line x1="323.62" y1="177" x2="323.62" y2="179.4" stroke="#444444" stroke-width="1"/><text transform="translate(323.62 310.7) scale(1 1.16)" font-family="Liberation Serif" font-weight="bold" font-size="7.1" text-anchor="middle" fill="#000"  stroke="#000" stroke-width="0.08">2006</text><line x1="347.24" y1="300.7" x2="347.24" y2="298.3" stroke="#444444" stroke-width="1"/><line x1="347.24" y1="177" x2="347.24" y2="179.4" stroke="#444444" stroke-width="1"/><text transform="translate(347.24 310.7) scale(1 1.16)" font-family="Liberation Serif" font-weight="bold" font-size="7.1" text-anchor="middle" fill="#000"  stroke="#000" stroke-width="0.08">2008</text><line x1="370.85" y1="300.7" x2="370.85" y2="298.3" stroke="#444444" stroke-width="1"/><line x1="370.85" y1="177" x2="370.85" y2="179.4" stroke="#444444" stroke-width="1"/><text transform="translate(370.85 310.7) scale(1 1.16)" font-family="Liberation Serif" font-weight="bold" font-size="7.1" text-anchor="middle" fill="#000"  stroke="#000" stroke-width="0.08">2010</text><line x1="394.46" y1="300.7" x2="394.46" y2="298.3" stroke="#444444" stroke-width="1"/><line x1="394.46" y1="177" x2="394.46" y2="179.4" stroke="#444444" stroke-width="1"/><text transform="translate(394.46 310.7) scale(1 1.16)" font-family="Liberation Serif" font-weight="bold" font-size="7.1" text-anchor="middle" fill="#000"  stroke="#000" stroke-width="0.08">2012</text><line x1="418.07" y1="300.7" x2="418.07" y2="298.3" stroke="#444444" stroke-width="1"/><line x1="418.07" y1="177" x2="418.07" y2="179.4" stroke="#444444" stroke-width="1"/><text transform="translate(418.07 310.7) scale(1 1.16)" font-family="Liberation Serif" font-weight="bold" font-size="7.1" text-anchor="middle" fill="#000"  stroke="#000" stroke-width="0.08">2014</text><line x1="441.68" y1="300.7" x2="441.68" y2="298.3" stroke="#444444" stroke-width="1"/><line x1="441.68" y1="177" x2="441.68" y2="179.4" stroke="#444444" stroke-width="1"/><text transform="translate(441.68 310.7) scale(1 1.16)" font-family="Liberation Serif" font-weight="bold" font-size="7.1" text-anchor="middle" fill="#000"  stroke="#000" stroke-width="0.08">2016</text><line x1="465.3" y1="300.7" x2="465.3" y2="298.3" stroke="#444444" stroke-width="1"/><line x1="465.3" y1="177" x2="465.3" y2="179.4" stroke="#444444" stroke-width="1"/><text transform="translate(465.3 310.7) scale(1 1.16)" font-family="Liberation Serif" font-weight="bold" font-size="7.1" text-anchor="middle" fill="#000"  stroke="#000" stroke-width="0.08">2018</text><line x1="276.4" y1="177" x2="278.8" y2="177" stroke="#444444" stroke-width="1"/><line x1="465.3" y1="177" x2="462.9" y2="177" stroke="#444444" stroke-width="1"/><text transform="translate(274 180.2) scale(1 1.16)" font-family="Liberation Serif" font-weight="bold" font-size="7.1" text-anchor="end" fill="#000"  stroke="#000" stroke-width="0.08">8</text><line x1="276.4" y1="194.67" x2="278.8" y2="194.67" stroke="#444444" stroke-width="1"/><line x1="465.3" y1="194.67" x2="462.9" y2="194.67" stroke="#444444" stroke-width="1"/><text transform="translate(274 197.87) scale(1 1.16)" font-family="Liberation Serif" font-weight="bold" font-size="7.1" text-anchor="end" fill="#000"  stroke="#000" stroke-width="0.08">6</text><line x1="276.4" y1="212.34" x2="278.8" y2="212.34" stroke="#444444" stroke-width="1"/><line x1="465.3" y1="212.34" x2="462.9" y2="212.34" stroke="#444444" stroke-width="1"/><text transform="translate(274 215.54) scale(1 1.16)" font-family="Liberation Serif" font-weight="bold" font-size="7.1" text-anchor="end" fill="#000"  stroke="#000" stroke-width="0.08">4</text><line x1="276.4" y1="230.02" x2="278.8" y2="230.02" stroke="#444444" stroke-width="1"/><line x1="465.3" y1="230.02" x2="462.9" y2="230.02" stroke="#444444" stroke-width="1"/><text transform="translate(274 233.22) scale(1 1.16)" font-family="Liberation Serif" font-weight="bold" font-size="7.1" text-anchor="end" fill="#000"  stroke="#000" stroke-width="0.08">2</text><line x1="276.4" y1="247.69" x2="278.8" y2="247.69" stroke="#444444" stroke-width="1"/><line x1="465.3" y1="247.69" x2="462.9" y2="247.69" stroke="#444444" stroke-width="1"/><text transform="translate(274 250.89) scale(1 1.16)" font-family="Liberation Serif" font-weight="bold" font-size="7.1" text-anchor="end" fill="#000"  stroke="#000" stroke-width="0.08">0</text><line x1="276.4" y1="265.36" x2="278.8" y2="265.36" stroke="#444444" stroke-width="1"/><line x1="465.3" y1="265.36" x2="462.9" y2="265.36" stroke="#444444" stroke-width="1"/><text transform="translate(274 268.56) scale(1 1.16)" font-family="Liberation Serif" font-weight="bold" font-size="7.1" text-anchor="end" fill="#000"  stroke="#000" stroke-width="0.08">-2</text><line x1="276.4" y1="283.03" x2="278.8" y2="283.03" stroke="#444444" stroke-width="1"/><line x1="465.3" y1="283.03" x2="462.9" y2="283.03" stroke="#444444" stroke-width="1"/><text transform="translate(274 286.23) scale(1 1.16)" font-family="Liberation Serif" font-weight="bold" font-size="7.1" text-anchor="end" fill="#000"  stroke="#000" stroke-width="0.08">-4</text><line x1="276.4" y1="300.7" x2="278.8" y2="300.7" stroke="#444444" stroke-width="1"/><line x1="465.3" y1="300.7" x2="462.9" y2="300.7" stroke="#444444" stroke-width="1"/><text transform="translate(274 303.9) scale(1 1.16)" font-family="Liberation Serif" font-weight="bold" font-size="7.1" text-anchor="end" fill="#000"  stroke="#000" stroke-width="0.08">-6</text><rect x="276.4" y="177" width="188.9" height="123.7" fill="none" stroke="#444444" stroke-width="1"/><text transform="translate(264.2 238.85) rotate(-90) scale(1.16 1)" font-family="Liberation Serif" font-weight="bold" font-size="7.482758620689656" text-anchor="middle" fill="#000"  stroke="#000" stroke-width="0.08">Equivalent water thickness (cm)</text><polyline points="288.9,259.9 290.8,266.9 291.5,281.6 292.7,299.4 293.4,282.9 294.6,263.8 295.9,274.6 296.6,296.2 298.5,278.4 299.7,270.8 301,281.6 302.9,279 304.2,265 305.5,275.2 306.1,256.1 307.4,275.9 309.3,272.7 310.6,263.8 311.2,279.7 313.1,274.6 314.4,273.9 316.3,266.3 317.3,236.4 318.2,244.5 320.5,238.6 321.4,246.8 322,263.1 324.1,238.2 325.2,260.6 326.8,245.5 328.4,253.6 329.5,228.6 330.9,225.9 331.6,247.8 331.8,248.2 333.5,249.7 334.5,238.2 336.8,230.9 337.7,238.2 338.6,245.5 339.9,249.9 341.5,252.4 342.4,256.5 343.2,260.6 344,275.3 344.8,253.2 346.5,248.3 347.3,265.5 348.1,275.3 348.9,278.6 349.7,267.9 350.6,272 352.2,234.4 353,240.9 353.8,258.1 354.6,246.7 355.5,249.1 356.3,244.2 357.9,256.5 358.7,263.9 359.6,272 360.4,260.6 362,266.3 363.7,263.9 364.5,258.9 366.1,262.2 366.9,236.8 367.7,254.8 369.4,235.2 370.2,230.3 371,219.6 372.7,213.9 373.5,209.8 374.3,219.6 375.1,240.1 375.9,249.1 377.6,221.3 378.4,233.6 379.2,240.1 380,246.7 380.8,230.3 382.5,231.1 383.3,228.7 384.1,233.6 385.8,229.5 386.6,237.7 387.4,230.3 388.2,249.1 389,264.7 389.8,256.5 391.5,247.5 393.1,236 393.9,267.1 394.8,272 395.6,245 396.4,252.4 398,266.3 398.9,255.7 399.7,237.7 400.7,239.1 402.4,248.1 404,260.3 404.8,271 405.6,263.6 406.4,257.1 408.1,250.5 408.9,238.2 409.7,231.7 410.5,243.2 412.2,239.1 413,237.4 413.8,244.8 415.4,246.4 416.3,244 417.1,234.2 417.9,248.1 419.5,243.2 420.4,244 421.2,202.3 422.8,197.4 424.4,202.3 425.3,206.4 426.9,215.4 428.5,208.8 429.3,215.4 430.2,226 431.8,224.3 432.6,244.8 434.3,250.5 435.9,245.6 437.5,235.8 438.3,224.3 439.1,223.4 440,221.9 441.4,218.8 443.2,214.4 444.1,229.3 447.3,246.4 449.8,220.3 450.9,215.2 451.8,207 453.2,185.6 454.1,203.8 454.1,222.5 455.9,190.6 457.3,203.4 458.2,212.9 459.1,208.4" fill="none" stroke="#d040ff" stroke-width="0.9"/><circle cx="288.9" cy="259.9" r="1.85" fill="#3000ff" stroke="#c848ff" stroke-width="0.7"/><circle cx="290.8" cy="266.9" r="1.85" fill="#3000ff" stroke="#c848ff" stroke-width="0.7"/><circle cx="291.5" cy="281.6" r="1.85" fill="#3000ff" stroke="#c848ff" stroke-width="0.7"/><circle cx="292.7" cy="299.4" r="1.85" fill="#3000ff" stroke="#c848ff" stroke-width="0.7"/><circle cx="293.4" cy="282.9" r="1.85" fill="#3000ff" stroke="#c848ff" stroke-width="0.7"/><circle cx="294.6" cy="263.8" r="1.85" fill="#3000ff" stroke="#c848ff" stroke-width="0.7"/><circle cx="295.9" cy="274.6" r="1.85" fill="#3000ff" stroke="#c848ff" stroke-width="0.7"/><circle cx="296.6" cy="296.2" r="1.85" fill="#3000ff" stroke="#c848ff" stroke-width="0.7"/><circle cx="298.5" cy="278.4" r="1.85" fill="#3000ff" stroke="#c848ff" stroke-width="0.7"/><circle cx="299.7" cy="270.8" r="1.85" fill="#3000ff" stroke="#c848ff" stroke-width="0.7"/><circle cx="301" cy="281.6" r="1.85" fill="#3000ff" stroke="#c848ff" stroke-width="0.7"/><circle cx="302.9" cy="279" r="1.85" fill="#3000ff" stroke="#c848ff" stroke-width="0.7"/><circle cx="304.2" cy="265" r="1.85" fill="#3000ff" stroke="#c848ff" stroke-width="0.7"/><circle cx="305.5" cy="275.2" r="1.85" fill="#3000ff" stroke="#c848ff" stroke-width="0.7"/><circle cx="306.1" cy="256.1" r="1.85" fill="#3000ff" stroke="#c848ff" stroke-width="0.7"/><circle cx="307.4" cy="275.9" r="1.85" fill="#3000ff" stroke="#c848ff" stroke-width="0.7"/><circle cx="309.3" cy="272.7" r="1.85" fill="#3000ff" stroke="#c848ff" stroke-width="0.7"/><circle cx="310.6" cy="263.8" r="1.85" fill="#3000ff" stroke="#c848ff" stroke-width="0.7"/><circle cx="311.2" cy="279.7" r="1.85" fill="#3000ff" stroke="#c848ff" stroke-width="0.7"/><circle cx="313.1" cy="274.6" r="1.85" fill="#3000ff" stroke="#c848ff" stroke-width="0.7"/><circle cx="314.4" cy="273.9" r="1.85" fill="#3000ff" stroke="#c848ff" stroke-width="0.7"/><circle cx="316.3" cy="266.3" r="1.85" fill="#3000ff" stroke="#c848ff" stroke-width="0.7"/><circle cx="317.3" cy="236.4" r="1.85" fill="#3000ff" stroke="#c848ff" stroke-width="0.7"/><circle cx="318.2" cy="244.5" r="1.85" fill="#3000ff" stroke="#c848ff" stroke-width="0.7"/><circle cx="320.5" cy="238.6" r="1.85" fill="#3000ff" stroke="#c848ff" stroke-width="0.7"/><circle cx="321.4" cy="246.8" r="1.85" fill="#3000ff" stroke="#c848ff" stroke-width="0.7"/><circle cx="322" cy="263.1" r="1.85" fill="#3000ff" stroke="#c848ff" stroke-width="0.7"/><circle cx="324.1" cy="238.2" r="1.85" fill="#3000ff" stroke="#c848ff" stroke-width="0.7"/><circle cx="325.2" cy="260.6" r="1.85" fill="#3000ff" stroke="#c848ff" stroke-width="0.7"/><circle cx="326.8" cy="245.5" r="1.85" fill="#3000ff" stroke="#c848ff" stroke-width="0.7"/><circle cx="328.4" cy="253.6" r="1.85" fill="#3000ff" stroke="#c848ff" stroke-width="0.7"/><circle cx="329.5" cy="228.6" r="1.85" fill="#3000ff" stroke="#c848ff" stroke-width="0.7"/><circle cx="330.9" cy="225.9" r="1.85" fill="#3000ff" stroke="#c848ff" stroke-width="0.7"/><circle cx="331.6" cy="247.8" r="1.85" fill="#3000ff" stroke="#c848ff" stroke-width="0.7"/><circle cx="331.8" cy="248.2" r="1.85" fill="#3000ff" stroke="#c848ff" stroke-width="0.7"/><circle cx="333.5" cy="249.7" r="1.85" fill="#3000ff" stroke="#c848ff" stroke-width="0.7"/><circle cx="334.5" cy="238.2" r="1.85" fill="#3000ff" stroke="#c848ff" stroke-width="0.7"/><circle cx="336.8" cy="230.9" r="1.85" fill="#3000ff" stroke="#c848ff" stroke-width="0.7"/><circle cx="337.7" cy="238.2" r="1.85" fill="#3000ff" stroke="#c848ff" stroke-width="0.7"/><circle cx="338.6" cy="245.5" r="1.85" fill="#3000ff" stroke="#c848ff" stroke-width="0.7"/><circle cx="339.9" cy="249.9" r="1.85" fill="#3000ff" stroke="#c848ff" stroke-width="0.7"/><circle cx="341.5" cy="252.4" r="1.85" fill="#3000ff" stroke="#c848ff" stroke-width="0.7"/><circle cx="342.4" cy="256.5" r="1.85" fill="#3000ff" stroke="#c848ff" stroke-width="0.7"/><circle cx="343.2" cy="260.6" r="1.85" fill="#3000ff" stroke="#c848ff" stroke-width="0.7"/><circle cx="344" cy="275.3" r="1.85" fill="#3000ff" stroke="#c848ff" stroke-width="0.7"/><circle cx="344.8" cy="253.2" r="1.85" fill="#3000ff" stroke="#c848ff" stroke-width="0.7"/><circle cx="346.5" cy="248.3" r="1.85" fill="#3000ff" stroke="#c848ff" stroke-width="0.7"/><circle cx="347.3" cy="265.5" r="1.85" fill="#3000ff" stroke="#c848ff" stroke-width="0.7"/><circle cx="348.1" cy="275.3" r="1.85" fill="#3000ff" stroke="#c848ff" stroke-width="0.7"/><circle cx="348.9" cy="278.6" r="1.85" fill="#3000ff" stroke="#c848ff" stroke-width="0.7"/><circle cx="349.7" cy="267.9" r="1.85" fill="#3000ff" stroke="#c848ff" stroke-width="0.7"/><circle cx="350.6" cy="272" r="1.85" fill="#3000ff" stroke="#c848ff" stroke-width="0.7"/><circle cx="352.2" cy="234.4" r="1.85" fill="#3000ff" stroke="#c848ff" stroke-width="0.7"/><circle cx="353" cy="240.9" r="1.85" fill="#3000ff" stroke="#c848ff" stroke-width="0.7"/><circle cx="353.8" cy="258.1" r="1.85" fill="#3000ff" stroke="#c848ff" stroke-width="0.7"/><circle cx="354.6" cy="246.7" r="1.85" fill="#3000ff" stroke="#c848ff" stroke-width="0.7"/><circle cx="355.5" cy="249.1" r="1.85" fill="#3000ff" stroke="#c848ff" stroke-width="0.7"/><circle cx="356.3" cy="244.2" r="1.85" fill="#3000ff" stroke="#c848ff" stroke-width="0.7"/><circle cx="357.9" cy="256.5" r="1.85" fill="#3000ff" stroke="#c848ff" stroke-width="0.7"/><circle cx="358.7" cy="263.9" r="1.85" fill="#3000ff" stroke="#c848ff" stroke-width="0.7"/><circle cx="359.6" cy="272" r="1.85" fill="#3000ff" stroke="#c848ff" stroke-width="0.7"/><circle cx="360.4" cy="260.6" r="1.85" fill="#3000ff" stroke="#c848ff" stroke-width="0.7"/><circle cx="362" cy="266.3" r="1.85" fill="#3000ff" stroke="#c848ff" stroke-width="0.7"/><circle cx="363.7" cy="263.9" r="1.85" fill="#3000ff" stroke="#c848ff" stroke-width="0.7"/><circle cx="364.5" cy="258.9" r="1.85" fill="#3000ff" stroke="#c848ff" stroke-width="0.7"/><circle cx="366.1" cy="262.2" r="1.85" fill="#3000ff" stroke="#c848ff" stroke-width="0.7"/><circle cx="366.9" cy="236.8" r="1.85" fill="#3000ff" stroke="#c848ff" stroke-width="0.7"/><circle cx="367.7" cy="254.8" r="1.85" fill="#3000ff" stroke="#c848ff" stroke-width="0.7"/><circle cx="369.4" cy="235.2" r="1.85" fill="#3000ff" stroke="#c848ff" stroke-width="0.7"/><circle cx="370.2" cy="230.3" r="1.85" fill="#3000ff" stroke="#c848ff" stroke-width="0.7"/><circle cx="371" cy="219.6" r="1.85" fill="#3000ff" stroke="#c848ff" stroke-width="0.7"/><circle cx="372.7" cy="213.9" r="1.85" fill="#3000ff" stroke="#c848ff" stroke-width="0.7"/><circle cx="373.5" cy="209.8" r="1.85" fill="#3000ff" stroke="#c848ff" stroke-width="0.7"/><circle cx="374.3" cy="219.6" r="1.85" fill="#3000ff" stroke="#c848ff" stroke-width="0.7"/><circle cx="375.1" cy="240.1" r="1.85" fill="#3000ff" stroke="#c848ff" stroke-width="0.7"/><circle cx="375.9" cy="249.1" r="1.85" fill="#3000ff" stroke="#c848ff" stroke-width="0.7"/><circle cx="377.6" cy="221.3" r="1.85" fill="#3000ff" stroke="#c848ff" stroke-width="0.7"/><circle cx="378.4" cy="233.6" r="1.85" fill="#3000ff" stroke="#c848ff" stroke-width="0.7"/><circle cx="379.2" cy="240.1" r="1.85" fill="#3000ff" stroke="#c848ff" stroke-width="0.7"/><circle cx="380" cy="246.7" r="1.85" fill="#3000ff" stroke="#c848ff" stroke-width="0.7"/><circle cx="380.8" cy="230.3" r="1.85" fill="#3000ff" stroke="#c848ff" stroke-width="0.7"/><circle cx="382.5" cy="231.1" r="1.85" fill="#3000ff" stroke="#c848ff" stroke-width="0.7"/><circle cx="383.3" cy="228.7" r="1.85" fill="#3000ff" stroke="#c848ff" stroke-width="0.7"/><circle cx="384.1" cy="233.6" r="1.85" fill="#3000ff" stroke="#c848ff" stroke-width="0.7"/><circle cx="385.8" cy="229.5" r="1.85" fill="#3000ff" stroke="#c848ff" stroke-width="0.7"/><circle cx="386.6" cy="237.7" r="1.85" fill="#3000ff" stroke="#c848ff" stroke-width="0.7"/><circle cx="387.4" cy="230.3" r="1.85" fill="#3000ff" stroke="#c848ff" stroke-width="0.7"/><circle cx="388.2" cy="249.1" r="1.85" fill="#3000ff" stroke="#c848ff" stroke-width="0.7"/><circle cx="389" cy="264.7" r="1.85" fill="#3000ff" stroke="#c848ff" stroke-width="0.7"/><circle cx="389.8" cy="256.5" r="1.85" fill="#3000ff" stroke="#c848ff" stroke-width="0.7"/><circle cx="391.5" cy="247.5" r="1.85" fill="#3000ff" stroke="#c848ff" stroke-width="0.7"/><circle cx="393.1" cy="236" r="1.85" fill="#3000ff" stroke="#c848ff" stroke-width="0.7"/><circle cx="393.9" cy="267.1" r="1.85" fill="#3000ff" stroke="#c848ff" stroke-width="0.7"/><circle cx="394.8" cy="272" r="1.85" fill="#3000ff" stroke="#c848ff" stroke-width="0.7"/><circle cx="395.6" cy="245" r="1.85" fill="#3000ff" stroke="#c848ff" stroke-width="0.7"/><circle cx="396.4" cy="252.4" r="1.85" fill="#3000ff" stroke="#c848ff" stroke-width="0.7"/><circle cx="398" cy="266.3" r="1.85" fill="#3000ff" stroke="#c848ff" stroke-width="0.7"/><circle cx="398.9" cy="255.7" r="1.85" fill="#3000ff" stroke="#c848ff" stroke-width="0.7"/><circle cx="399.7" cy="237.7" r="1.85" fill="#3000ff" stroke="#c848ff" stroke-width="0.7"/><circle cx="400.7" cy="239.1" r="1.85" fill="#3000ff" stroke="#c848ff" stroke-width="0.7"/><circle cx="402.4" cy="248.1" r="1.85" fill="#3000ff" stroke="#c848ff" stroke-width="0.7"/><circle cx="404" cy="260.3" r="1.85" fill="#3000ff" stroke="#c848ff" stroke-width="0.7"/><circle cx="404.8" cy="271" r="1.85" fill="#3000ff" stroke="#c848ff" stroke-width="0.7"/><circle cx="405.6" cy="263.6" r="1.85" fill="#3000ff" stroke="#c848ff" stroke-width="0.7"/><circle cx="406.4" cy="257.1" r="1.85" fill="#3000ff" stroke="#c848ff" stroke-width="0.7"/><circle cx="408.1" cy="250.5" r="1.85" fill="#3000ff" stroke="#c848ff" stroke-width="0.7"/><circle cx="408.9" cy="238.2" r="1.85" fill="#3000ff" stroke="#c848ff" stroke-width="0.7"/><circle cx="409.7" cy="231.7" r="1.85" fill="#3000ff" stroke="#c848ff" stroke-width="0.7"/><circle cx="410.5" cy="243.2" r="1.85" fill="#3000ff" stroke="#c848ff" stroke-width="0.7"/><circle cx="412.2" cy="239.1" r="1.85" fill="#3000ff" stroke="#c848ff" stroke-width="0.7"/><circle cx="413" cy="237.4" r="1.85" fill="#3000ff" stroke="#c848ff" stroke-width="0.7"/><circle cx="413.8" cy="244.8" r="1.85" fill="#3000ff" stroke="#c848ff" stroke-width="0.7"/><circle cx="415.4" cy="246.4" r="1.85" fill="#3000ff" stroke="#c848ff" stroke-width="0.7"/><circle cx="416.3" cy="244" r="1.85" fill="#3000ff" stroke="#c848ff" stroke-width="0.7"/><circle cx="417.1" cy="234.2" r="1.85" fill="#3000ff" stroke="#c848ff" stroke-width="0.7"/><circle cx="417.9" cy="248.1" r="1.85" fill="#3000ff" stroke="#c848ff" stroke-width="0.7"/><circle cx="419.5" cy="243.2" r="1.85" fill="#3000ff" stroke="#c848ff" stroke-width="0.7"/><circle cx="420.4" cy="244" r="1.85" fill="#3000ff" stroke="#c848ff" stroke-width="0.7"/><circle cx="421.2" cy="202.3" r="1.85" fill="#3000ff" stroke="#c848ff" stroke-width="0.7"/><circle cx="422.8" cy="197.4" r="1.85" fill="#3000ff" stroke="#c848ff" stroke-width="0.7"/><circle cx="424.4" cy="202.3" r="1.85" fill="#3000ff" stroke="#c848ff" stroke-width="0.7"/><circle cx="425.3" cy="206.4" r="1.85" fill="#3000ff" stroke="#c848ff" stroke-width="0.7"/><circle cx="426.9" cy="215.4" r="1.85" fill="#3000ff" stroke="#c848ff" stroke-width="0.7"/><circle cx="428.5" cy="208.8" r="1.85" fill="#3000ff" stroke="#c848ff" stroke-width="0.7"/><circle cx="429.3" cy="215.4" r="1.85" fill="#3000ff" stroke="#c848ff" stroke-width="0.7"/><circle cx="430.2" cy="226" r="1.85" fill="#3000ff" stroke="#c848ff" stroke-width="0.7"/><circle cx="431.8" cy="224.3" r="1.85" fill="#3000ff" stroke="#c848ff" stroke-width="0.7"/><circle cx="432.6" cy="244.8" r="1.85" fill="#3000ff" stroke="#c848ff" stroke-width="0.7"/><circle cx="434.3" cy="250.5" r="1.85" fill="#3000ff" stroke="#c848ff" stroke-width="0.7"/><circle cx="435.9" cy="245.6" r="1.85" fill="#3000ff" stroke="#c848ff" stroke-width="0.7"/><circle cx="437.5" cy="235.8" r="1.85" fill="#3000ff" stroke="#c848ff" stroke-width="0.7"/><circle cx="438.3" cy="224.3" r="1.85" fill="#3000ff" stroke="#c848ff" stroke-width="0.7"/><circle cx="439.1" cy="223.4" r="1.85" fill="#3000ff" stroke="#c848ff" stroke-width="0.7"/><circle cx="440" cy="221.9" r="1.85" fill="#3000ff" stroke="#c848ff" stroke-width="0.7"/><circle cx="441.4" cy="218.8" r="1.85" fill="#3000ff" stroke="#c848ff" stroke-width="0.7"/><circle cx="443.2" cy="214.4" r="1.85" fill="#3000ff" stroke="#c848ff" stroke-width="0.7"/><circle cx="444.1" cy="229.3" r="1.85" fill="#3000ff" stroke="#c848ff" stroke-width="0.7"/><circle cx="447.3" cy="246.4" r="1.85" fill="#3000ff" stroke="#c848ff" stroke-width="0.7"/><circle cx="449.8" cy="220.3" r="1.85" fill="#3000ff" stroke="#c848ff" stroke-width="0.7"/><circle cx="450.9" cy="215.2" r="1.85" fill="#3000ff" stroke="#c848ff" stroke-width="0.7"/><circle cx="451.8" cy="207" r="1.85" fill="#3000ff" stroke="#c848ff" stroke-width="0.7"/><circle cx="453.2" cy="185.6" r="1.85" fill="#3000ff" stroke="#c848ff" stroke-width="0.7"/><circle cx="454.1" cy="203.8" r="1.85" fill="#3000ff" stroke="#c848ff" stroke-width="0.7"/><circle cx="454.1" cy="222.5" r="1.85" fill="#3000ff" stroke="#c848ff" stroke-width="0.7"/><circle cx="455.9" cy="190.6" r="1.85" fill="#3000ff" stroke="#c848ff" stroke-width="0.7"/><circle cx="457.3" cy="203.4" r="1.85" fill="#3000ff" stroke="#c848ff" stroke-width="0.7"/><circle cx="458.2" cy="212.9" r="1.85" fill="#3000ff" stroke="#c848ff" stroke-width="0.7"/><circle cx="459.1" cy="208.4" r="1.85" fill="#3000ff" stroke="#c848ff" stroke-width="0.7"/><line x1="288.91" y1="271.37" x2="459.16" y2="219.13" stroke="#ffa500" stroke-width="1.5"/><rect x="281.2" y="181.9" width="113.2" height="16.7" fill="#fff" stroke="#444444" stroke-width="1"/><line x1="283.1" y1="186.3" x2="301.4" y2="186.3" stroke="#cc33ff" stroke-width="0.8"/><circle cx="292.4" cy="186.3" r="2.0" fill="#2a00ff" stroke="#d050ff" stroke-width="0.8"/><text transform="translate(303 189) scale(1 1.16)" font-family="Liberation Serif" font-weight="bold" font-size="6.5" text-anchor="start" fill="#000"  stroke="#000" stroke-width="0.08">Non-seasonal change at point B</text><line x1="283.1" y1="194.6" x2="301.4" y2="194.6" stroke="#ffa500" stroke-width="1.5"/><text transform="translate(303 197.3) scale(1 1.16)" font-family="Liberation Serif" font-weight="bold" font-size="6.5" text-anchor="start" fill="#000"  stroke="#000" stroke-width="0.08">Trend = 0.41 ± 0.06 cm/yr</text><text transform="translate(370.9 321.1) scale(1 1.16)" font-family="Liberation Serif" font-weight="bold" font-size="8.7" text-anchor="middle" fill="#000"  stroke="#000" stroke-width="0.08">Time (year)</text><polyline points="28.72,370.86 29.79,366.01 30.97,371.91 31.83,376.49 32.68,381.08 33.59,378.4 34.51,375.71 35.79,375.18 37.19,382.26 38.47,368.1 39.39,367.58 40.3,367.06 41.58,372.95 42.87,387.11 43.78,390.13 44.69,393.15 45.59,390.79 46.48,388.43 47.37,386.07 48.27,387.51 49.16,388.95 50.05,390.39 51.34,391.44 52.63,392.49 53.54,394.72 54.45,396.95 55.36,403.44 56.27,409.93 57.13,406.65 57.99,403.37 58.9,399.04 59.81,394.72 60.71,395.07 61.6,395.42 62.49,395.77 63.35,397.41 64.21,399.04 65.6,394.72 66.46,399.04 67.32,403.37 68.18,410.98 69.46,409.66 70.59,413.47 71.72,417.27 72.57,415.11 73.43,412.94 74.34,416.15 75.25,419.37 76.54,412.94 77.45,408.03 78.36,403.11 79.26,405.99 80.15,408.88 81.05,411.76 82.33,409.07 83.62,406.39 84.66,405.64 85.69,404.9 86.73,404.16 87.85,405.27 88.98,406.39 90.11,403.11 91.23,399.83 92.52,408.48 93.41,415.39 94.31,422.29 95.2,429.2 96.49,416.09 97.61,421 98.74,425.92 99.86,423.23 100.99,420.55 102.28,418.32 103.19,422.12 104.1,425.92 104.96,429.72 105.82,433.53 106.94,440.08 108.07,446.64 108.93,442.83 109.78,439.03 111.18,445.59 112.3,439.1 113.43,432.61 114.72,429.85 116,427.1 117.13,420.61 118.26,414.12 119.38,418.45 120.51,422.77 121.4,425.66 122.29,428.54 123.19,431.43 124.47,423.82 125.37,421.51 126.26,419.19 127.16,416.87 128.28,418.78 129.41,420.68 130.69,425.53 131.98,430.38 132.89,432.54 133.8,434.71 135.09,431.43 136.49,440.74 137.34,434.44 138.2,428.15 139.33,425.72 140.45,423.3 141.85,430.38 143.13,448.86 144.06,453.98 144.99,459.09 145.92,464.2 146.96,462.06 147.99,459.92 149.03,457.78 150.32,436.02 151.21,437.46 152.11,438.9 153,440.34 154.12,442.51 155.25,444.67 156.38,451.75 157.5,458.83 158.36,460.47 159.22,462.11 160.13,458.57 161.04,455.03 162.11,456.4 163.19,457.78 164.08,457.56 164.97,457.34 165.87,457.12 166.99,456.08 168.12,455.03 169.03,458.57 169.94,462.11 171.23,464.27 172.52,466.43 173.91,468.53 174.8,464.95 175.7,461.36 176.59,457.78 177.66,461.25 178.74,464.73 179.63,465.65 180.52,466.56 181.42,467.48 182.92,473.51 183.88,475.61 184.85,477.71 186.08,480.4 187.31,483.08 188.49,481.31 189.67,479.54 190.69,478.04 191.71,476.53 192.89,475.61 194.07,474.69 195.57,485.44 197.07,496.19 198.04,503.34 199,510.48 200.4,512.32 201.63,510.22 202.86,508.12 204.36,505.11 205.33,506.94 206.29,508.78 207.26,505.76 208.22,502.75 209.73,511.14 211.12,506.94" fill="none" stroke="#ff5f2e" stroke-width="0.9"/><circle cx="28.72" cy="370.86" r="1.9" fill="none" stroke="#ff5f2e" stroke-width="0.95"/><circle cx="29.79" cy="366.01" r="1.9" fill="none" stroke="#ff5f2e" stroke-width="0.95"/><circle cx="30.97" cy="371.91" r="1.9" fill="none" stroke="#ff5f2e" stroke-width="0.95"/><circle cx="31.83" cy="376.49" r="1.9" fill="none" stroke="#ff5f2e" stroke-width="0.95"/><circle cx="32.68" cy="381.08" r="1.9" fill="none" stroke="#ff5f2e" stroke-width="0.95"/><circle cx="33.59" cy="378.4" r="1.9" fill="none" stroke="#ff5f2e" stroke-width="0.95"/><circle cx="34.51" cy="375.71" r="1.9" fill="none" stroke="#ff5f2e" stroke-width="0.95"/><circle cx="35.79" cy="375.18" r="1.9" fill="none" stroke="#ff5f2e" stroke-width="0.95"/><circle cx="37.19" cy="382.26" r="1.9" fill="none" stroke="#ff5f2e" stroke-width="0.95"/><circle cx="38.47" cy="368.1" r="1.9" fill="none" stroke="#ff5f2e" stroke-width="0.95"/><circle cx="39.39" cy="367.58" r="1.9" fill="none" stroke="#ff5f2e" stroke-width="0.95"/><circle cx="40.3" cy="367.06" r="1.9" fill="none" stroke="#ff5f2e" stroke-width="0.95"/><circle cx="41.58" cy="372.95" r="1.9" fill="none" stroke="#ff5f2e" stroke-width="0.95"/><circle cx="42.87" cy="387.11" r="1.9" fill="none" stroke="#ff5f2e" stroke-width="0.95"/><circle cx="43.78" cy="390.13" r="1.9" fill="none" stroke="#ff5f2e" stroke-width="0.95"/><circle cx="44.69" cy="393.15" r="1.9" fill="none" stroke="#ff5f2e" stroke-width="0.95"/><circle cx="45.59" cy="390.79" r="1.9" fill="none" stroke="#ff5f2e" stroke-width="0.95"/><circle cx="46.48" cy="388.43" r="1.9" fill="none" stroke="#ff5f2e" stroke-width="0.95"/><circle cx="47.37" cy="386.07" r="1.9" fill="none" stroke="#ff5f2e" stroke-width="0.95"/><circle cx="48.27" cy="387.51" r="1.9" fill="none" stroke="#ff5f2e" stroke-width="0.95"/><circle cx="49.16" cy="388.95" r="1.9" fill="none" stroke="#ff5f2e" stroke-width="0.95"/><circle cx="50.05" cy="390.39" r="1.9" fill="none" stroke="#ff5f2e" stroke-width="0.95"/><circle cx="51.34" cy="391.44" r="1.9" fill="none" stroke="#ff5f2e" stroke-width="0.95"/><circle cx="52.63" cy="392.49" r="1.9" fill="none" stroke="#ff5f2e" stroke-width="0.95"/><circle cx="53.54" cy="394.72" r="1.9" fill="none" stroke="#ff5f2e" stroke-width="0.95"/><circle cx="54.45" cy="396.95" r="1.9" fill="none" stroke="#ff5f2e" stroke-width="0.95"/><circle cx="55.36" cy="403.44" r="1.9" fill="none" stroke="#ff5f2e" stroke-width="0.95"/><circle cx="56.27" cy="409.93" r="1.9" fill="none" stroke="#ff5f2e" stroke-width="0.95"/><circle cx="57.13" cy="406.65" r="1.9" fill="none" stroke="#ff5f2e" stroke-width="0.95"/><circle cx="57.99" cy="403.37" r="1.9" fill="none" stroke="#ff5f2e" stroke-width="0.95"/><circle cx="58.9" cy="399.04" r="1.9" fill="none" stroke="#ff5f2e" stroke-width="0.95"/><circle cx="59.81" cy="394.72" r="1.9" fill="none" stroke="#ff5f2e" stroke-width="0.95"/><circle cx="60.71" cy="395.07" r="1.9" fill="none" stroke="#ff5f2e" stroke-width="0.95"/><circle cx="61.6" cy="395.42" r="1.9" fill="none" stroke="#ff5f2e" stroke-width="0.95"/><circle cx="62.49" cy="395.77" r="1.9" fill="none" stroke="#ff5f2e" stroke-width="0.95"/><circle cx="63.35" cy="397.41" r="1.9" fill="none" stroke="#ff5f2e" stroke-width="0.95"/><circle cx="64.21" cy="399.04" r="1.9" fill="none" stroke="#ff5f2e" stroke-width="0.95"/><circle cx="65.6" cy="394.72" r="1.9" fill="none" stroke="#ff5f2e" stroke-width="0.95"/><circle cx="66.46" cy="399.04" r="1.9" fill="none" stroke="#ff5f2e" stroke-width="0.95"/><circle cx="67.32" cy="403.37" r="1.9" fill="none" stroke="#ff5f2e" stroke-width="0.95"/><circle cx="68.18" cy="410.98" r="1.9" fill="none" stroke="#ff5f2e" stroke-width="0.95"/><circle cx="69.46" cy="409.66" r="1.9" fill="none" stroke="#ff5f2e" stroke-width="0.95"/><circle cx="70.59" cy="413.47" r="1.9" fill="none" stroke="#ff5f2e" stroke-width="0.95"/><circle cx="71.72" cy="417.27" r="1.9" fill="none" stroke="#ff5f2e" stroke-width="0.95"/><circle cx="72.57" cy="415.11" r="1.9" fill="none" stroke="#ff5f2e" stroke-width="0.95"/><circle cx="73.43" cy="412.94" r="1.9" fill="none" stroke="#ff5f2e" stroke-width="0.95"/><circle cx="74.34" cy="416.15" r="1.9" fill="none" stroke="#ff5f2e" stroke-width="0.95"/><circle cx="75.25" cy="419.37" r="1.9" fill="none" stroke="#ff5f2e" stroke-width="0.95"/><circle cx="76.54" cy="412.94" r="1.9" fill="none" stroke="#ff5f2e" stroke-width="0.95"/><circle cx="77.45" cy="408.03" r="1.9" fill="none" stroke="#ff5f2e" stroke-width="0.95"/><circle cx="78.36" cy="403.11" r="1.9" fill="none" stroke="#ff5f2e" stroke-width="0.95"/><circle cx="79.26" cy="405.99" r="1.9" fill="none" stroke="#ff5f2e" stroke-width="0.95"/><circle cx="80.15" cy="408.88" r="1.9" fill="none" stroke="#ff5f2e" stroke-width="0.95"/><circle cx="81.05" cy="411.76" r="1.9" fill="none" stroke="#ff5f2e" stroke-width="0.95"/><circle cx="82.33" cy="409.07" r="1.9" fill="none" stroke="#ff5f2e" stroke-width="0.95"/><circle cx="83.62" cy="406.39" r="1.9" fill="none" stroke="#ff5f2e" stroke-width="0.95"/><circle cx="84.66" cy="405.64" r="1.9" fill="none" stroke="#ff5f2e" stroke-width="0.95"/><circle cx="85.69" cy="404.9" r="1.9" fill="none" stroke="#ff5f2e" stroke-width="0.95"/><circle cx="86.73" cy="404.16" r="1.9" fill="none" stroke="#ff5f2e" stroke-width="0.95"/><circle cx="87.85" cy="405.27" r="1.9" fill="none" stroke="#ff5f2e" stroke-width="0.95"/><circle cx="88.98" cy="406.39" r="1.9" fill="none" stroke="#ff5f2e" stroke-width="0.95"/><circle cx="90.11" cy="403.11" r="1.9" fill="none" stroke="#ff5f2e" stroke-width="0.95"/><circle cx="91.23" cy="399.83" r="1.9" fill="none" stroke="#ff5f2e" stroke-width="0.95"/><circle cx="92.52" cy="408.48" r="1.9" fill="none" stroke="#ff5f2e" stroke-width="0.95"/><circle cx="93.41" cy="415.39" r="1.9" fill="none" stroke="#ff5f2e" stroke-width="0.95"/><circle cx="94.31" cy="422.29" r="1.9" fill="none" stroke="#ff5f2e" stroke-width="0.95"/><circle cx="95.2" cy="429.2" r="1.9" fill="none" stroke="#ff5f2e" stroke-width="0.95"/><circle cx="96.49" cy="416.09" r="1.9" fill="none" stroke="#ff5f2e" stroke-width="0.95"/><circle cx="97.61" cy="421" r="1.9" fill="none" stroke="#ff5f2e" stroke-width="0.95"/><circle cx="98.74" cy="425.92" r="1.9" fill="none" stroke="#ff5f2e" stroke-width="0.95"/><circle cx="99.86" cy="423.23" r="1.9" fill="none" stroke="#ff5f2e" stroke-width="0.95"/><circle cx="100.99" cy="420.55" r="1.9" fill="none" stroke="#ff5f2e" stroke-width="0.95"/><circle cx="102.28" cy="418.32" r="1.9" fill="none" stroke="#ff5f2e" stroke-width="0.95"/><circle cx="103.19" cy="422.12" r="1.9" fill="none" stroke="#ff5f2e" stroke-width="0.95"/><circle cx="104.1" cy="425.92" r="1.9" fill="none" stroke="#ff5f2e" stroke-width="0.95"/><circle cx="104.96" cy="429.72" r="1.9" fill="none" stroke="#ff5f2e" stroke-width="0.95"/><circle cx="105.82" cy="433.53" r="1.9" fill="none" stroke="#ff5f2e" stroke-width="0.95"/><circle cx="106.94" cy="440.08" r="1.9" fill="none" stroke="#ff5f2e" stroke-width="0.95"/><circle cx="108.07" cy="446.64" r="1.9" fill="none" stroke="#ff5f2e" stroke-width="0.95"/><circle cx="108.93" cy="442.83" r="1.9" fill="none" stroke="#ff5f2e" stroke-width="0.95"/><circle cx="109.78" cy="439.03" r="1.9" fill="none" stroke="#ff5f2e" stroke-width="0.95"/><circle cx="111.18" cy="445.59" r="1.9" fill="none" stroke="#ff5f2e" stroke-width="0.95"/><circle cx="112.3" cy="439.1" r="1.9" fill="none" stroke="#ff5f2e" stroke-width="0.95"/><circle cx="113.43" cy="432.61" r="1.9" fill="none" stroke="#ff5f2e" stroke-width="0.95"/><circle cx="114.72" cy="429.85" r="1.9" fill="none" stroke="#ff5f2e" stroke-width="0.95"/><circle cx="116" cy="427.1" r="1.9" fill="none" stroke="#ff5f2e" stroke-width="0.95"/><circle cx="117.13" cy="420.61" r="1.9" fill="none" stroke="#ff5f2e" stroke-width="0.95"/><circle cx="118.26" cy="414.12" r="1.9" fill="none" stroke="#ff5f2e" stroke-width="0.95"/><circle cx="119.38" cy="418.45" r="1.9" fill="none" stroke="#ff5f2e" stroke-width="0.95"/><circle cx="120.51" cy="422.77" r="1.9" fill="none" stroke="#ff5f2e" stroke-width="0.95"/><circle cx="121.4" cy="425.66" r="1.9" fill="none" stroke="#ff5f2e" stroke-width="0.95"/><circle cx="122.29" cy="428.54" r="1.9" fill="none" stroke="#ff5f2e" stroke-width="0.95"/><circle cx="123.19" cy="431.43" r="1.9" fill="none" stroke="#ff5f2e" stroke-width="0.95"/><circle cx="124.47" cy="423.82" r="1.9" fill="none" stroke="#ff5f2e" stroke-width="0.95"/><circle cx="125.37" cy="421.51" r="1.9" fill="none" stroke="#ff5f2e" stroke-width="0.95"/><circle cx="126.26" cy="419.19" r="1.9" fill="none" stroke="#ff5f2e" stroke-width="0.95"/><circle cx="127.16" cy="416.87" r="1.9" fill="none" stroke="#ff5f2e" stroke-width="0.95"/><circle cx="128.28" cy="418.78" r="1.9" fill="none" stroke="#ff5f2e" stroke-width="0.95"/><circle cx="129.41" cy="420.68" r="1.9" fill="none" stroke="#ff5f2e" stroke-width="0.95"/><circle cx="130.69" cy="425.53" r="1.9" fill="none" stroke="#ff5f2e" stroke-width="0.95"/><circle cx="131.98" cy="430.38" r="1.9" fill="none" stroke="#ff5f2e" stroke-width="0.95"/><circle cx="132.89" cy="432.54" r="1.9" fill="none" stroke="#ff5f2e" stroke-width="0.95"/><circle cx="133.8" cy="434.71" r="1.9" fill="none" stroke="#ff5f2e" stroke-width="0.95"/><circle cx="135.09" cy="431.43" r="1.9" fill="none" stroke="#ff5f2e" stroke-width="0.95"/><circle cx="136.49" cy="440.74" r="1.9" fill="none" stroke="#ff5f2e" stroke-width="0.95"/><circle cx="137.34" cy="434.44" r="1.9" fill="none" stroke="#ff5f2e" stroke-width="0.95"/><circle cx="138.2" cy="428.15" r="1.9" fill="none" stroke="#ff5f2e" stroke-width="0.95"/><circle cx="139.33" cy="425.72" r="1.9" fill="none" stroke="#ff5f2e" stroke-width="0.95"/><circle cx="140.45" cy="423.3" r="1.9" fill="none" stroke="#ff5f2e" stroke-width="0.95"/><circle cx="141.85" cy="430.38" r="1.9" fill="none" stroke="#ff5f2e" stroke-width="0.95"/><circle cx="143.13" cy="448.86" r="1.9" fill="none" stroke="#ff5f2e" stroke-width="0.95"/><circle cx="144.06" cy="453.98" r="1.9" fill="none" stroke="#ff5f2e" stroke-width="0.95"/><circle cx="144.99" cy="459.09" r="1.9" fill="none" stroke="#ff5f2e" stroke-width="0.95"/><circle cx="145.92" cy="464.2" r="1.9" fill="none" stroke="#ff5f2e" stroke-width="0.95"/><circle cx="146.96" cy="462.06" r="1.9" fill="none" stroke="#ff5f2e" stroke-width="0.95"/><circle cx="147.99" cy="459.92" r="1.9" fill="none" stroke="#ff5f2e" stroke-width="0.95"/><circle cx="149.03" cy="457.78" r="1.9" fill="none" stroke="#ff5f2e" stroke-width="0.95"/><circle cx="150.32" cy="436.02" r="1.9" fill="none" stroke="#ff5f2e" stroke-width="0.95"/><circle cx="151.21" cy="437.46" r="1.9" fill="none" stroke="#ff5f2e" stroke-width="0.95"/><circle cx="152.11" cy="438.9" r="1.9" fill="none" stroke="#ff5f2e" stroke-width="0.95"/><circle cx="153" cy="440.34" r="1.9" fill="none" stroke="#ff5f2e" stroke-width="0.95"/><circle cx="154.12" cy="442.51" r="1.9" fill="none" stroke="#ff5f2e" stroke-width="0.95"/><circle cx="155.25" cy="444.67" r="1.9" fill="none" stroke="#ff5f2e" stroke-width="0.95"/><circle cx="156.38" cy="451.75" r="1.9" fill="none" stroke="#ff5f2e" stroke-width="0.95"/><circle cx="157.5" cy="458.83" r="1.9" fill="none" stroke="#ff5f2e" stroke-width="0.95"/><circle cx="158.36" cy="460.47" r="1.9" fill="none" stroke="#ff5f2e" stroke-width="0.95"/><circle cx="159.22" cy="462.11" r="1.9" fill="none" stroke="#ff5f2e" stroke-width="0.95"/><circle cx="160.13" cy="458.57" r="1.9" fill="none" stroke="#ff5f2e" stroke-width="0.95"/><circle cx="161.04" cy="455.03" r="1.9" fill="none" stroke="#ff5f2e" stroke-width="0.95"/><circle cx="162.11" cy="456.4" r="1.9" fill="none" stroke="#ff5f2e" stroke-width="0.95"/><circle cx="163.19" cy="457.78" r="1.9" fill="none" stroke="#ff5f2e" stroke-width="0.95"/><circle cx="164.08" cy="457.56" r="1.9" fill="none" stroke="#ff5f2e" stroke-width="0.95"/><circle cx="164.97" cy="457.34" r="1.9" fill="none" stroke="#ff5f2e" stroke-width="0.95"/><circle cx="165.87" cy="457.12" r="1.9" fill="none" stroke="#ff5f2e" stroke-width="0.95"/><circle cx="166.99" cy="456.08" r="1.9" fill="none" stroke="#ff5f2e" stroke-width="0.95"/><circle cx="168.12" cy="455.03" r="1.9" fill="none" stroke="#ff5f2e" stroke-width="0.95"/><circle cx="169.03" cy="458.57" r="1.9" fill="none" stroke="#ff5f2e" stroke-width="0.95"/><circle cx="169.94" cy="462.11" r="1.9" fill="none" stroke="#ff5f2e" stroke-width="0.95"/><circle cx="171.23" cy="464.27" r="1.9" fill="none" stroke="#ff5f2e" stroke-width="0.95"/><circle cx="172.52" cy="466.43" r="1.9" fill="none" stroke="#ff5f2e" stroke-width="0.95"/><circle cx="173.91" cy="468.53" r="1.9" fill="none" stroke="#ff5f2e" stroke-width="0.95"/><circle cx="174.8" cy="464.95" r="1.9" fill="none" stroke="#ff5f2e" stroke-width="0.95"/><circle cx="175.7" cy="461.36" r="1.9" fill="none" stroke="#ff5f2e" stroke-width="0.95"/><circle cx="176.59" cy="457.78" r="1.9" fill="none" stroke="#ff5f2e" stroke-width="0.95"/><circle cx="177.66" cy="461.25" r="1.9" fill="none" stroke="#ff5f2e" stroke-width="0.95"/><circle cx="178.74" cy="464.73" r="1.9" fill="none" stroke="#ff5f2e" stroke-width="0.95"/><circle cx="179.63" cy="465.65" r="1.9" fill="none" stroke="#ff5f2e" stroke-width="0.95"/><circle cx="180.52" cy="466.56" r="1.9" fill="none" stroke="#ff5f2e" stroke-width="0.95"/><circle cx="181.42" cy="467.48" r="1.9" fill="none" stroke="#ff5f2e" stroke-width="0.95"/><circle cx="182.92" cy="473.51" r="1.9" fill="none" stroke="#ff5f2e" stroke-width="0.95"/><circle cx="183.88" cy="475.61" r="1.9" fill="none" stroke="#ff5f2e" stroke-width="0.95"/><circle cx="184.85" cy="477.71" r="1.9" fill="none" stroke="#ff5f2e" stroke-width="0.95"/><circle cx="186.08" cy="480.4" r="1.9" fill="none" stroke="#ff5f2e" stroke-width="0.95"/><circle cx="187.31" cy="483.08" r="1.9" fill="none" stroke="#ff5f2e" stroke-width="0.95"/><circle cx="188.49" cy="481.31" r="1.9" fill="none" stroke="#ff5f2e" stroke-width="0.95"/><circle cx="189.67" cy="479.54" r="1.9" fill="none" stroke="#ff5f2e" stroke-width="0.95"/><circle cx="190.69" cy="478.04" r="1.9" fill="none" stroke="#ff5f2e" stroke-width="0.95"/><circle cx="191.71" cy="476.53" r="1.9" fill="none" stroke="#ff5f2e" stroke-width="0.95"/><circle cx="192.89" cy="475.61" r="1.9" fill="none" stroke="#ff5f2e" stroke-width="0.95"/><circle cx="194.07" cy="474.69" r="1.9" fill="none" stroke="#ff5f2e" stroke-width="0.95"/><circle cx="195.57" cy="485.44" r="1.9" fill="none" stroke="#ff5f2e" stroke-width="0.95"/><circle cx="197.07" cy="496.19" r="1.9" fill="none" stroke="#ff5f2e" stroke-width="0.95"/><circle cx="198.04" cy="503.34" r="1.9" fill="none" stroke="#ff5f2e" stroke-width="0.95"/><circle cx="199" cy="510.48" r="1.9" fill="none" stroke="#ff5f2e" stroke-width="0.95"/><circle cx="200.4" cy="512.32" r="1.9" fill="none" stroke="#ff5f2e" stroke-width="0.95"/><circle cx="201.63" cy="510.22" r="1.9" fill="none" stroke="#ff5f2e" stroke-width="0.95"/><circle cx="202.86" cy="508.12" r="1.9" fill="none" stroke="#ff5f2e" stroke-width="0.95"/><circle cx="204.36" cy="505.11" r="1.9" fill="none" stroke="#ff5f2e" stroke-width="0.95"/><circle cx="205.33" cy="506.94" r="1.9" fill="none" stroke="#ff5f2e" stroke-width="0.95"/><circle cx="206.29" cy="508.78" r="1.9" fill="none" stroke="#ff5f2e" stroke-width="0.95"/><circle cx="207.26" cy="505.76" r="1.9" fill="none" stroke="#ff5f2e" stroke-width="0.95"/><circle cx="208.22" cy="502.75" r="1.9" fill="none" stroke="#ff5f2e" stroke-width="0.95"/><circle cx="209.73" cy="511.14" r="1.9" fill="none" stroke="#ff5f2e" stroke-width="0.95"/><circle cx="211.12" cy="506.94" r="1.9" fill="none" stroke="#ff5f2e" stroke-width="0.95"/><path d="M27.39 523.2V465.11H28.44V523.2ZM28.44 523.2V443.85H29.5V523.2ZM29.5 523.2V454.17H30.55V523.2ZM30.55 523.2V445.56H31.61V523.2ZM31.61 523.2V437.87H32.66V523.2ZM32.66 523.2V451.15H33.72V523.2ZM33.72 523.2V452.28H34.77V523.2ZM34.77 523.2V465.24H35.83V523.2ZM35.83 523.2V459.31H36.88V523.2ZM36.88 523.2V452.31H37.94V523.2ZM37.94 523.2V446.89H38.99V523.2ZM38.99 523.2V443.13H40.05V523.2ZM40.05 523.2V455.91H41.1V523.2ZM41.1 523.2V465.42H42.16V523.2ZM42.16 523.2V458.71H43.21V523.2ZM43.21 523.2V439.93H44.27V523.2ZM44.27 523.2V460.97H45.32V523.2ZM45.32 523.2V453.76H46.38V523.2ZM46.38 523.2V439.28H47.43V523.2ZM47.43 523.2V466.66H48.49V523.2ZM48.49 523.2V449.27H49.54V523.2ZM49.54 523.2V438.71H50.6V523.2ZM50.6 523.2V460.46H51.65V523.2ZM51.65 523.2V450.84H52.71V523.2ZM52.71 523.2V439.95H53.76V523.2ZM53.76 523.2V388.02H54.82V523.2ZM54.82 523.2V376.96H55.87V523.2ZM55.87 523.2V395.75H56.93V523.2ZM56.93 523.2V403.07H57.98V523.2ZM57.98 523.2V409.74H59.04V523.2ZM59.04 523.2V405.18H60.09V523.2ZM60.09 523.2V417.59H61.15V523.2ZM61.15 523.2V417.37H62.2V523.2ZM62.2 523.2V412.41H63.26V523.2ZM63.26 523.2V406.2H64.31V523.2ZM64.31 523.2V390.09H65.37V523.2ZM65.37 523.2V379.67H66.42V523.2ZM66.42 523.2V376.5H67.48V523.2ZM67.48 523.2V384.11H68.53V523.2ZM68.53 523.2V393.02H69.59V523.2ZM69.59 523.2V414.48H70.64V523.2ZM70.64 523.2V404.6H71.7V523.2ZM71.7 523.2V408.03H72.75V523.2ZM72.75 523.2V409.96H73.81V523.2ZM73.81 523.2V416.61H74.86V523.2ZM74.86 523.2V414.37H75.92V523.2ZM75.92 523.2V392.68H76.97V523.2ZM76.97 523.2V392.21H78.03V523.2ZM78.03 523.2V394.56H79.08V523.2ZM79.08 523.2V378.53H80.14V523.2ZM80.14 523.2V388.16H81.19V523.2ZM81.19 523.2V397.45H82.25V523.2ZM82.25 523.2V407.92H83.3V523.2ZM83.3 523.2V410.9H84.36V523.2ZM84.36 523.2V406.48H85.41V523.2ZM85.41 523.2V413.25H86.47V523.2ZM86.47 523.2V406.63H87.52V523.2ZM87.52 523.2V405.44H88.58V523.2ZM88.58 523.2V395.91H89.63V523.2ZM89.63 523.2V387.78H90.69V523.2ZM90.69 523.2V382.29H91.74V523.2ZM91.74 523.2V380.26H92.8V523.2ZM92.8 523.2V385.27H93.85V523.2ZM93.85 523.2V393.49H94.91V523.2ZM94.91 523.2V403.44H95.96V523.2ZM95.96 523.2V403.66H97.02V523.2ZM97.02 523.2V407.28H98.07V523.2ZM98.07 523.2V415.39H99.13V523.2ZM99.13 523.2V421.93H100.18V523.2ZM100.18 523.2V406.8H101.24V523.2ZM101.24 523.2V395.51H102.29V523.2ZM102.29 523.2V398.56H103.35V523.2ZM103.35 523.2V395.4H104.4V523.2ZM104.4 523.2V382.97H105.46V523.2ZM105.46 523.2V374.29H106.51V523.2ZM106.51 523.2V402.36H107.57V523.2ZM107.57 523.2V394.15H108.62V523.2ZM108.62 523.2V414.35H109.68V523.2ZM109.68 523.2V404.28H110.73V523.2ZM110.73 523.2V420.05H111.79V523.2ZM111.79 523.2V407.89H112.84V523.2ZM112.84 523.2V416.26H113.9V523.2ZM113.9 523.2V396.7H114.95V523.2ZM114.95 523.2V404.37H116.01V523.2ZM116.01 523.2V386.24H117.06V523.2ZM117.06 523.2V395.97H118.12V523.2ZM118.12 523.2V391.54H119.17V523.2ZM119.17 523.2V403.78H120.23V523.2ZM120.23 523.2V401.01H121.28V523.2ZM121.28 523.2V411.22H122.34V523.2ZM122.34 523.2V415.89H123.39V523.2ZM123.39 523.2V404.41H124.45V523.2ZM124.45 523.2V418.33H125.5V523.2ZM125.5 523.2V401.98H126.56V523.2ZM126.56 523.2V403.16H127.61V523.2ZM127.61 523.2V385.62H128.67V523.2ZM128.67 523.2V381.99H129.72V523.2ZM129.72 523.2V388.04H130.78V523.2ZM130.78 523.2V387.56H131.83V523.2ZM131.83 523.2V401.38H132.89V523.2ZM132.89 523.2V411.89H133.94V523.2ZM133.94 523.2V411.32H135V523.2ZM135 523.2V411.96H136.05V523.2ZM136.05 523.2V417.5H137.11V523.2ZM137.11 523.2V419.93H138.16V523.2ZM138.16 523.2V412.83H139.22V523.2ZM139.22 523.2V407.87H140.27V523.2ZM140.27 523.2V389.99H141.33V523.2ZM141.33 523.2V390.36H142.38V523.2ZM142.38 523.2V384.29H143.44V523.2ZM143.44 523.2V379.46H144.49V523.2ZM144.49 523.2V394.18H145.55V523.2ZM145.55 523.2V399.29H146.6V523.2ZM146.6 523.2V417.75H147.66V523.2ZM147.66 523.2V403.02H148.71V523.2ZM148.71 523.2V418.13H149.77V523.2ZM149.77 523.2V408.14H150.82V523.2ZM150.82 523.2V416.2H151.88V523.2ZM151.88 523.2V394.09H152.93V523.2ZM152.93 523.2V395.37H153.99V523.2ZM153.99 523.2V371.34H155.04V523.2ZM155.04 523.2V374.67H156.1V523.2ZM156.1 523.2V392.57H157.15V523.2ZM157.15 523.2V397.44H158.21V523.2ZM158.21 523.2V409.23H159.26V523.2ZM159.26 523.2V409.91H160.32V523.2ZM160.32 523.2V420.57H161.37V523.2ZM161.37 523.2V407.06H162.43V523.2ZM162.43 523.2V417.9H163.48V523.2ZM163.48 523.2V416.47H164.54V523.2ZM164.54 523.2V402.45H165.59V523.2ZM165.59 523.2V392.86H166.65V523.2ZM166.65 523.2V386.32H167.7V523.2ZM167.7 523.2V377.62H168.76V523.2ZM168.76 523.2V381.25H169.81V523.2ZM169.81 523.2V391.22H170.87V523.2ZM170.87 523.2V396.85H171.92V523.2ZM171.92 523.2V409.19H172.98V523.2ZM172.98 523.2V421.65H174.03V523.2ZM174.03 523.2V417.39H175.09V523.2ZM175.09 523.2V407.32H176.14V523.2ZM176.14 523.2V401.18H177.2V523.2ZM177.2 523.2V404.88H178.25V523.2ZM178.25 523.2V405.27H179.31V523.2ZM179.31 523.2V381.33H180.36V523.2ZM180.36 523.2V379.06H181.42V523.2ZM181.42 523.2V383.47H182.47V523.2ZM182.47 523.2V391.13H183.53V523.2ZM183.53 523.2V412.62H184.58V523.2ZM184.58 523.2V399.4H185.64V523.2ZM185.64 523.2V419.66H186.69V523.2ZM186.69 523.2V405.41H187.75V523.2ZM187.75 523.2V407.04H188.8V523.2ZM188.8 523.2V399.89H189.86V523.2ZM189.86 523.2V411.23H190.91V523.2ZM190.91 523.2V395.38H191.97V523.2ZM191.97 523.2V388.58H193.02V523.2ZM193.02 523.2V393.02H194.08V523.2ZM194.08 523.2V395.85H195.13V523.2ZM195.13 523.2V398.96H196.19V523.2ZM196.19 523.2V410.86H197.24V523.2ZM197.24 523.2V417.52H198.3V523.2ZM198.3 523.2V406.64H199.35V523.2ZM199.35 523.2V414.43H200.41V523.2ZM200.41 523.2V402.46H201.46V523.2ZM201.46 523.2V411.84H202.52V523.2ZM202.52 523.2V393.9H203.57V523.2ZM203.57 523.2V392.49H204.63V523.2ZM204.63 523.2V374.04H205.68V523.2ZM205.68 523.2V370.26H206.74V523.2ZM206.74 523.2V394.56H207.79V523.2ZM207.79 523.2V393.11H208.85V523.2ZM208.85 523.2V396.48H209.9V523.2ZM209.9 523.2V405.81H210.96V523.2ZM210.96 523.2V406.85H212.01V523.2Z" fill="#78a3d8"/><path d="M34.77 523.2V465.24M35.83 523.2V465.24M36.88 523.2V459.31M38.99 523.2V446.89M45.32 523.2V460.97M52.71 523.2V450.84M65.37 523.2V390.09M81.19 523.2V397.45M82.25 523.2V407.92M84.36 523.2V410.9M98.07 523.2V415.39M107.57 523.2V402.36M108.62 523.2V414.35M109.68 523.2V414.35M110.73 523.2V420.05M111.79 523.2V420.05M112.84 523.2V416.26M114.95 523.2V404.37M132.89 523.2V411.89M133.94 523.2V411.89M140.27 523.2V407.87M146.6 523.2V417.75M147.66 523.2V417.75M148.71 523.2V418.13M151.88 523.2V416.2M153.99 523.2V395.37M155.04 523.2V374.67M163.48 523.2V417.9M164.54 523.2V416.47M165.59 523.2V402.45M169.81 523.2V391.22M175.09 523.2V417.39M179.31 523.2V405.27M185.64 523.2V419.66M189.86 523.2V411.23M195.13 523.2V398.96M204.63 523.2V392.49M205.68 523.2V374.04" stroke="#fff" stroke-opacity="0.45" stroke-width="0.8" fill="none"/><line x1="41.06" y1="523.2" x2="41.06" y2="520.8" stroke="#444444" stroke-width="1"/><line x1="41.06" y1="360.5" x2="41.06" y2="362.9" stroke="#444444" stroke-width="1"/><text transform="translate(41.06 533.5) scale(1 1.16)" font-family="Liberation Serif" font-weight="bold" font-size="7.1" text-anchor="middle" fill="#000"  stroke="#000" stroke-width="0.08">2004</text><line x1="66.38" y1="523.2" x2="66.38" y2="520.8" stroke="#444444" stroke-width="1"/><line x1="66.38" y1="360.5" x2="66.38" y2="362.9" stroke="#444444" stroke-width="1"/><text transform="translate(66.38 533.5) scale(1 1.16)" font-family="Liberation Serif" font-weight="bold" font-size="7.1" text-anchor="middle" fill="#000"  stroke="#000" stroke-width="0.08">2006</text><line x1="91.7" y1="523.2" x2="91.7" y2="520.8" stroke="#444444" stroke-width="1"/><line x1="91.7" y1="360.5" x2="91.7" y2="362.9" stroke="#444444" stroke-width="1"/><text transform="translate(91.7 533.5) scale(1 1.16)" font-family="Liberation Serif" font-weight="bold" font-size="7.1" text-anchor="middle" fill="#000"  stroke="#000" stroke-width="0.08">2008</text><line x1="117.02" y1="523.2" x2="117.02" y2="520.8" stroke="#444444" stroke-width="1"/><line x1="117.02" y1="360.5" x2="117.02" y2="362.9" stroke="#444444" stroke-width="1"/><text transform="translate(117.02 533.5) scale(1 1.16)" font-family="Liberation Serif" font-weight="bold" font-size="7.1" text-anchor="middle" fill="#000"  stroke="#000" stroke-width="0.08">2010</text><line x1="142.34" y1="523.2" x2="142.34" y2="520.8" stroke="#444444" stroke-width="1"/><line x1="142.34" y1="360.5" x2="142.34" y2="362.9" stroke="#444444" stroke-width="1"/><text transform="translate(142.34 533.5) scale(1 1.16)" font-family="Liberation Serif" font-weight="bold" font-size="7.1" text-anchor="middle" fill="#000"  stroke="#000" stroke-width="0.08">2012</text><line x1="167.66" y1="523.2" x2="167.66" y2="520.8" stroke="#444444" stroke-width="1"/><line x1="167.66" y1="360.5" x2="167.66" y2="362.9" stroke="#444444" stroke-width="1"/><text transform="translate(167.66 533.5) scale(1 1.16)" font-family="Liberation Serif" font-weight="bold" font-size="7.1" text-anchor="middle" fill="#000"  stroke="#000" stroke-width="0.08">2014</text><line x1="192.98" y1="523.2" x2="192.98" y2="520.8" stroke="#444444" stroke-width="1"/><line x1="192.98" y1="360.5" x2="192.98" y2="362.9" stroke="#444444" stroke-width="1"/><text transform="translate(192.98 533.5) scale(1 1.16)" font-family="Liberation Serif" font-weight="bold" font-size="7.1" text-anchor="middle" fill="#000"  stroke="#000" stroke-width="0.08">2016</text><line x1="27.3" y1="360.5" x2="212.2" y2="360.5" stroke="#444444" stroke-width="1"/><line x1="27.3" y1="523.2" x2="212.2" y2="523.2" stroke="#444444" stroke-width="1"/><line x1="27.3" y1="360" x2="27.3" y2="523.7" stroke="#ff5f2e" stroke-width="1"/><line x1="212.2" y1="360" x2="212.2" y2="523.7" stroke="#0072bd" stroke-width="1"/><line x1="27.3" y1="360.5" x2="29.7" y2="360.5" stroke="#ff5f2e" stroke-width="1"/><text transform="translate(25 363.7) scale(1 1.16)" font-family="Liberation Serif" font-weight="bold" font-size="7.1" text-anchor="end" fill="#ff5f2e"  stroke="#ff5f2e" stroke-width="0.08">15</text><line x1="27.3" y1="383.74" x2="29.7" y2="383.74" stroke="#ff5f2e" stroke-width="1"/><text transform="translate(25 386.94) scale(1 1.16)" font-family="Liberation Serif" font-weight="bold" font-size="7.1" text-anchor="end" fill="#ff5f2e"  stroke="#ff5f2e" stroke-width="0.08">10</text><line x1="27.3" y1="406.99" x2="29.7" y2="406.99" stroke="#ff5f2e" stroke-width="1"/><text transform="translate(25 410.19) scale(1 1.16)" font-family="Liberation Serif" font-weight="bold" font-size="7.1" text-anchor="end" fill="#ff5f2e"  stroke="#ff5f2e" stroke-width="0.08">5</text><line x1="27.3" y1="430.23" x2="29.7" y2="430.23" stroke="#ff5f2e" stroke-width="1"/><text transform="translate(25 433.43) scale(1 1.16)" font-family="Liberation Serif" font-weight="bold" font-size="7.1" text-anchor="end" fill="#ff5f2e"  stroke="#ff5f2e" stroke-width="0.08">0</text><line x1="27.3" y1="453.47" x2="29.7" y2="453.47" stroke="#ff5f2e" stroke-width="1"/><text transform="translate(25 456.67) scale(1 1.16)" font-family="Liberation Serif" font-weight="bold" font-size="7.1" text-anchor="end" fill="#ff5f2e"  stroke="#ff5f2e" stroke-width="0.08">-5</text><line x1="27.3" y1="476.71" x2="29.7" y2="476.71" stroke="#ff5f2e" stroke-width="1"/><text transform="translate(25 479.91) scale(1 1.16)" font-family="Liberation Serif" font-weight="bold" font-size="7.1" text-anchor="end" fill="#ff5f2e"  stroke="#ff5f2e" stroke-width="0.08">-10</text><line x1="27.3" y1="499.96" x2="29.7" y2="499.96" stroke="#ff5f2e" stroke-width="1"/><text transform="translate(25 503.16) scale(1 1.16)" font-family="Liberation Serif" font-weight="bold" font-size="7.1" text-anchor="end" fill="#ff5f2e"  stroke="#ff5f2e" stroke-width="0.08">-15</text><line x1="27.3" y1="523.2" x2="29.7" y2="523.2" stroke="#ff5f2e" stroke-width="1"/><text transform="translate(25 526.4) scale(1 1.16)" font-family="Liberation Serif" font-weight="bold" font-size="7.1" text-anchor="end" fill="#ff5f2e"  stroke="#ff5f2e" stroke-width="0.08">-20</text><line x1="212.2" y1="523.2" x2="209.8" y2="523.2" stroke="#0072bd" stroke-width="1"/><text transform="translate(215 526.4) scale(1 1.16)" font-family="Liberation Serif" font-weight="bold" font-size="7.1" text-anchor="start" fill="#0072bd"  stroke="#0072bd" stroke-width="0.08">0</text><line x1="212.2" y1="499.96" x2="209.8" y2="499.96" stroke="#0072bd" stroke-width="1"/><text transform="translate(215 503.16) scale(1 1.16)" font-family="Liberation Serif" font-weight="bold" font-size="7.1" text-anchor="start" fill="#0072bd"  stroke="#0072bd" stroke-width="0.08">50</text><line x1="212.2" y1="476.71" x2="209.8" y2="476.71" stroke="#0072bd" stroke-width="1"/><text transform="translate(215 479.91) scale(1 1.16)" font-family="Liberation Serif" font-weight="bold" font-size="7.1" text-anchor="start" fill="#0072bd"  stroke="#0072bd" stroke-width="0.08">100</text><line x1="212.2" y1="453.47" x2="209.8" y2="453.47" stroke="#0072bd" stroke-width="1"/><text transform="translate(215 456.67) scale(1 1.16)" font-family="Liberation Serif" font-weight="bold" font-size="7.1" text-anchor="start" fill="#0072bd"  stroke="#0072bd" stroke-width="0.08">150</text><line x1="212.2" y1="430.23" x2="209.8" y2="430.23" stroke="#0072bd" stroke-width="1"/><text transform="translate(215 433.43) scale(1 1.16)" font-family="Liberation Serif" font-weight="bold" font-size="7.1" text-anchor="start" fill="#0072bd"  stroke="#0072bd" stroke-width="0.08">200</text><line x1="212.2" y1="406.99" x2="209.8" y2="406.99" stroke="#0072bd" stroke-width="1"/><text transform="translate(215 410.19) scale(1 1.16)" font-family="Liberation Serif" font-weight="bold" font-size="7.1" text-anchor="start" fill="#0072bd"  stroke="#0072bd" stroke-width="0.08">250</text><line x1="212.2" y1="383.74" x2="209.8" y2="383.74" stroke="#0072bd" stroke-width="1"/><text transform="translate(215 386.94) scale(1 1.16)" font-family="Liberation Serif" font-weight="bold" font-size="7.1" text-anchor="start" fill="#0072bd"  stroke="#0072bd" stroke-width="0.08">300</text><line x1="212.2" y1="360.5" x2="209.8" y2="360.5" stroke="#0072bd" stroke-width="1"/><text transform="translate(215 363.7) scale(1 1.16)" font-family="Liberation Serif" font-weight="bold" font-size="7.1" text-anchor="start" fill="#0072bd"  stroke="#0072bd" stroke-width="0.08">350</text><text transform="translate(11.6 441.85) rotate(-90) scale(1.16 1)" font-family="Liberation Serif" font-weight="bold" font-size="7.568965517241379" text-anchor="middle" fill="#ff5f2e"  stroke="#ff5f2e" stroke-width="0.08">Equivalent water thickness (cm/mon)</text><text transform="translate(236.3 441.85) rotate(-90) scale(1.16 1)" font-family="Liberation Serif" font-weight="bold" font-size="7.413793103448276" text-anchor="middle" fill="#0072bd"  stroke="#0072bd" stroke-width="0.08">Precipitation (mm)</text><g opacity="0.7"><polyline points="28.72,370.86 29.79,366.01 30.97,371.91 31.83,376.49 32.68,381.08 33.59,378.4 34.51,375.71 35.79,375.18 37.19,382.26 38.47,368.1 39.39,367.58 40.3,367.06 41.58,372.95 42.87,387.11 43.78,390.13 44.69,393.15 45.59,390.79 46.48,388.43 47.37,386.07 48.27,387.51 49.16,388.95 50.05,390.39 51.34,391.44 52.63,392.49 53.54,394.72 54.45,396.95 55.36,403.44 56.27,409.93 57.13,406.65 57.99,403.37 58.9,399.04 59.81,394.72 60.71,395.07 61.6,395.42 62.49,395.77 63.35,397.41 64.21,399.04 65.6,394.72 66.46,399.04 67.32,403.37 68.18,410.98 69.46,409.66 70.59,413.47 71.72,417.27 72.57,415.11 73.43,412.94 74.34,416.15 75.25,419.37 76.54,412.94 77.45,408.03 78.36,403.11 79.26,405.99 80.15,408.88 81.05,411.76 82.33,409.07 83.62,406.39 84.66,405.64 85.69,404.9 86.73,404.16 87.85,405.27 88.98,406.39 90.11,403.11 91.23,399.83 92.52,408.48 93.41,415.39 94.31,422.29 95.2,429.2 96.49,416.09 97.61,421 98.74,425.92 99.86,423.23 100.99,420.55 102.28,418.32 103.19,422.12 104.1,425.92 104.96,429.72 105.82,433.53 106.94,440.08 108.07,446.64 108.93,442.83 109.78,439.03 111.18,445.59 112.3,439.1 113.43,432.61 114.72,429.85 116,427.1 117.13,420.61 118.26,414.12 119.38,418.45 120.51,422.77 121.4,425.66 122.29,428.54 123.19,431.43 124.47,423.82 125.37,421.51 126.26,419.19 127.16,416.87 128.28,418.78 129.41,420.68 130.69,425.53 131.98,430.38 132.89,432.54 133.8,434.71 135.09,431.43 136.49,440.74 137.34,434.44 138.2,428.15 139.33,425.72 140.45,423.3 141.85,430.38 143.13,448.86 144.06,453.98 144.99,459.09 145.92,464.2 146.96,462.06 147.99,459.92 149.03,457.78 150.32,436.02 151.21,437.46 152.11,438.9 153,440.34 154.12,442.51 155.25,444.67 156.38,451.75 157.5,458.83 158.36,460.47 159.22,462.11 160.13,458.57 161.04,455.03 162.11,456.4 163.19,457.78 164.08,457.56 164.97,457.34 165.87,457.12 166.99,456.08 168.12,455.03 169.03,458.57 169.94,462.11 171.23,464.27 172.52,466.43 173.91,468.53 174.8,464.95 175.7,461.36 176.59,457.78 177.66,461.25 178.74,464.73 179.63,465.65 180.52,466.56 181.42,467.48 182.92,473.51 183.88,475.61 184.85,477.71 186.08,480.4 187.31,483.08 188.49,481.31 189.67,479.54 190.69,478.04 191.71,476.53 192.89,475.61 194.07,474.69 195.57,485.44 197.07,496.19 198.04,503.34 199,510.48 200.4,512.32 201.63,510.22 202.86,508.12 204.36,505.11 205.33,506.94 206.29,508.78 207.26,505.76 208.22,502.75 209.73,511.14 211.12,506.94" fill="none" stroke="#ff5f2e" stroke-width="0.9"/><circle cx="28.72" cy="370.86" r="1.9" fill="none" stroke="#ff5f2e" stroke-width="0.95"/><circle cx="29.79" cy="366.01" r="1.9" fill="none" stroke="#ff5f2e" stroke-width="0.95"/><circle cx="30.97" cy="371.91" r="1.9" fill="none" stroke="#ff5f2e" stroke-width="0.95"/><circle cx="31.83" cy="376.49" r="1.9" fill="none" stroke="#ff5f2e" stroke-width="0.95"/><circle cx="32.68" cy="381.08" r="1.9" fill="none" stroke="#ff5f2e" stroke-width="0.95"/><circle cx="33.59" cy="378.4" r="1.9" fill="none" stroke="#ff5f2e" stroke-width="0.95"/><circle cx="34.51" cy="375.71" r="1.9" fill="none" stroke="#ff5f2e" stroke-width="0.95"/><circle cx="35.79" cy="375.18" r="1.9" fill="none" stroke="#ff5f2e" stroke-width="0.95"/><circle cx="37.19" cy="382.26" r="1.9" fill="none" stroke="#ff5f2e" stroke-width="0.95"/><circle cx="38.47" cy="368.1" r="1.9" fill="none" stroke="#ff5f2e" stroke-width="0.95"/><circle cx="39.39" cy="367.58" r="1.9" fill="none" stroke="#ff5f2e" stroke-width="0.95"/><circle cx="40.3" cy="367.06" r="1.9" fill="none" stroke="#ff5f2e" stroke-width="0.95"/><circle cx="41.58" cy="372.95" r="1.9" fill="none" stroke="#ff5f2e" stroke-width="0.95"/><circle cx="42.87" cy="387.11" r="1.9" fill="none" stroke="#ff5f2e" stroke-width="0.95"/><circle cx="43.78" cy="390.13" r="1.9" fill="none" stroke="#ff5f2e" stroke-width="0.95"/><circle cx="44.69" cy="393.15" r="1.9" fill="none" stroke="#ff5f2e" stroke-width="0.95"/><circle cx="45.59" cy="390.79" r="1.9" fill="none" stroke="#ff5f2e" stroke-width="0.95"/><circle cx="46.48" cy="388.43" r="1.9" fill="none" stroke="#ff5f2e" stroke-width="0.95"/><circle cx="47.37" cy="386.07" r="1.9" fill="none" stroke="#ff5f2e" stroke-width="0.95"/><circle cx="48.27" cy="387.51" r="1.9" fill="none" stroke="#ff5f2e" stroke-width="0.95"/><circle cx="49.16" cy="388.95" r="1.9" fill="none" stroke="#ff5f2e" stroke-width="0.95"/><circle cx="50.05" cy="390.39" r="1.9" fill="none" stroke="#ff5f2e" stroke-width="0.95"/><circle cx="51.34" cy="391.44" r="1.9" fill="none" stroke="#ff5f2e" stroke-width="0.95"/><circle cx="52.63" cy="392.49" r="1.9" fill="none" stroke="#ff5f2e" stroke-width="0.95"/><circle cx="53.54" cy="394.72" r="1.9" fill="none" stroke="#ff5f2e" stroke-width="0.95"/><circle cx="54.45" cy="396.95" r="1.9" fill="none" stroke="#ff5f2e" stroke-width="0.95"/><circle cx="55.36" cy="403.44" r="1.9" fill="none" stroke="#ff5f2e" stroke-width="0.95"/><circle cx="56.27" cy="409.93" r="1.9" fill="none" stroke="#ff5f2e" stroke-width="0.95"/><circle cx="57.13" cy="406.65" r="1.9" fill="none" stroke="#ff5f2e" stroke-width="0.95"/><circle cx="57.99" cy="403.37" r="1.9" fill="none" stroke="#ff5f2e" stroke-width="0.95"/><circle cx="58.9" cy="399.04" r="1.9" fill="none" stroke="#ff5f2e" stroke-width="0.95"/><circle cx="59.81" cy="394.72" r="1.9" fill="none" stroke="#ff5f2e" stroke-width="0.95"/><circle cx="60.71" cy="395.07" r="1.9" fill="none" stroke="#ff5f2e" stroke-width="0.95"/><circle cx="61.6" cy="395.42" r="1.9" fill="none" stroke="#ff5f2e" stroke-width="0.95"/><circle cx="62.49" cy="395.77" r="1.9" fill="none" stroke="#ff5f2e" stroke-width="0.95"/><circle cx="63.35" cy="397.41" r="1.9" fill="none" stroke="#ff5f2e" stroke-width="0.95"/><circle cx="64.21" cy="399.04" r="1.9" fill="none" stroke="#ff5f2e" stroke-width="0.95"/><circle cx="65.6" cy="394.72" r="1.9" fill="none" stroke="#ff5f2e" stroke-width="0.95"/><circle cx="66.46" cy="399.04" r="1.9" fill="none" stroke="#ff5f2e" stroke-width="0.95"/><circle cx="67.32" cy="403.37" r="1.9" fill="none" stroke="#ff5f2e" stroke-width="0.95"/><circle cx="68.18" cy="410.98" r="1.9" fill="none" stroke="#ff5f2e" stroke-width="0.95"/><circle cx="69.46" cy="409.66" r="1.9" fill="none" stroke="#ff5f2e" stroke-width="0.95"/><circle cx="70.59" cy="413.47" r="1.9" fill="none" stroke="#ff5f2e" stroke-width="0.95"/><circle cx="71.72" cy="417.27" r="1.9" fill="none" stroke="#ff5f2e" stroke-width="0.95"/><circle cx="72.57" cy="415.11" r="1.9" fill="none" stroke="#ff5f2e" stroke-width="0.95"/><circle cx="73.43" cy="412.94" r="1.9" fill="none" stroke="#ff5f2e" stroke-width="0.95"/><circle cx="74.34" cy="416.15" r="1.9" fill="none" stroke="#ff5f2e" stroke-width="0.95"/><circle cx="75.25" cy="419.37" r="1.9" fill="none" stroke="#ff5f2e" stroke-width="0.95"/><circle cx="76.54" cy="412.94" r="1.9" fill="none" stroke="#ff5f2e" stroke-width="0.95"/><circle cx="77.45" cy="408.03" r="1.9" fill="none" stroke="#ff5f2e" stroke-width="0.95"/><circle cx="78.36" cy="403.11" r="1.9" fill="none" stroke="#ff5f2e" stroke-width="0.95"/><circle cx="79.26" cy="405.99" r="1.9" fill="none" stroke="#ff5f2e" stroke-width="0.95"/><circle cx="80.15" cy="408.88" r="1.9" fill="none" stroke="#ff5f2e" stroke-width="0.95"/><circle cx="81.05" cy="411.76" r="1.9" fill="none" stroke="#ff5f2e" stroke-width="0.95"/><circle cx="82.33" cy="409.07" r="1.9" fill="none" stroke="#ff5f2e" stroke-width="0.95"/><circle cx="83.62" cy="406.39" r="1.9" fill="none" stroke="#ff5f2e" stroke-width="0.95"/><circle cx="84.66" cy="405.64" r="1.9" fill="none" stroke="#ff5f2e" stroke-width="0.95"/><circle cx="85.69" cy="404.9" r="1.9" fill="none" stroke="#ff5f2e" stroke-width="0.95"/><circle cx="86.73" cy="404.16" r="1.9" fill="none" stroke="#ff5f2e" stroke-width="0.95"/><circle cx="87.85" cy="405.27" r="1.9" fill="none" stroke="#ff5f2e" stroke-width="0.95"/><circle cx="88.98" cy="406.39" r="1.9" fill="none" stroke="#ff5f2e" stroke-width="0.95"/><circle cx="90.11" cy="403.11" r="1.9" fill="none" stroke="#ff5f2e" stroke-width="0.95"/><circle cx="91.23" cy="399.83" r="1.9" fill="none" stroke="#ff5f2e" stroke-width="0.95"/><circle cx="92.52" cy="408.48" r="1.9" fill="none" stroke="#ff5f2e" stroke-width="0.95"/><circle cx="93.41" cy="415.39" r="1.9" fill="none" stroke="#ff5f2e" stroke-width="0.95"/><circle cx="94.31" cy="422.29" r="1.9" fill="none" stroke="#ff5f2e" stroke-width="0.95"/><circle cx="95.2" cy="429.2" r="1.9" fill="none" stroke="#ff5f2e" stroke-width="0.95"/><circle cx="96.49" cy="416.09" r="1.9" fill="none" stroke="#ff5f2e" stroke-width="0.95"/><circle cx="97.61" cy="421" r="1.9" fill="none" stroke="#ff5f2e" stroke-width="0.95"/><circle cx="98.74" cy="425.92" r="1.9" fill="none" stroke="#ff5f2e" stroke-width="0.95"/><circle cx="99.86" cy="423.23" r="1.9" fill="none" stroke="#ff5f2e" stroke-width="0.95"/><circle cx="100.99" cy="420.55" r="1.9" fill="none" stroke="#ff5f2e" stroke-width="0.95"/><circle cx="102.28" cy="418.32" r="1.9" fill="none" stroke="#ff5f2e" stroke-width="0.95"/><circle cx="103.19" cy="422.12" r="1.9" fill="none" stroke="#ff5f2e" stroke-width="0.95"/><circle cx="104.1" cy="425.92" r="1.9" fill="none" stroke="#ff5f2e" stroke-width="0.95"/><circle cx="104.96" cy="429.72" r="1.9" fill="none" stroke="#ff5f2e" stroke-width="0.95"/><circle cx="105.82" cy="433.53" r="1.9" fill="none" stroke="#ff5f2e" stroke-width="0.95"/><circle cx="106.94" cy="440.08" r="1.9" fill="none" stroke="#ff5f2e" stroke-width="0.95"/><circle cx="108.07" cy="446.64" r="1.9" fill="none" stroke="#ff5f2e" stroke-width="0.95"/><circle cx="108.93" cy="442.83" r="1.9" fill="none" stroke="#ff5f2e" stroke-width="0.95"/><circle cx="109.78" cy="439.03" r="1.9" fill="none" stroke="#ff5f2e" stroke-width="0.95"/><circle cx="111.18" cy="445.59" r="1.9" fill="none" stroke="#ff5f2e" stroke-width="0.95"/><circle cx="112.3" cy="439.1" r="1.9" fill="none" stroke="#ff5f2e" stroke-width="0.95"/><circle cx="113.43" cy="432.61" r="1.9" fill="none" stroke="#ff5f2e" stroke-width="0.95"/><circle cx="114.72" cy="429.85" r="1.9" fill="none" stroke="#ff5f2e" stroke-width="0.95"/><circle cx="116" cy="427.1" r="1.9" fill="none" stroke="#ff5f2e" stroke-width="0.95"/><circle cx="117.13" cy="420.61" r="1.9" fill="none" stroke="#ff5f2e" stroke-width="0.95"/><circle cx="118.26" cy="414.12" r="1.9" fill="none" stroke="#ff5f2e" stroke-width="0.95"/><circle cx="119.38" cy="418.45" r="1.9" fill="none" stroke="#ff5f2e" stroke-width="0.95"/><circle cx="120.51" cy="422.77" r="1.9" fill="none" stroke="#ff5f2e" stroke-width="0.95"/><circle cx="121.4" cy="425.66" r="1.9" fill="none" stroke="#ff5f2e" stroke-width="0.95"/><circle cx="122.29" cy="428.54" r="1.9" fill="none" stroke="#ff5f2e" stroke-width="0.95"/><circle cx="123.19" cy="431.43" r="1.9" fill="none" stroke="#ff5f2e" stroke-width="0.95"/><circle cx="124.47" cy="423.82" r="1.9" fill="none" stroke="#ff5f2e" stroke-width="0.95"/><circle cx="125.37" cy="421.51" r="1.9" fill="none" stroke="#ff5f2e" stroke-width="0.95"/><circle cx="126.26" cy="419.19" r="1.9" fill="none" stroke="#ff5f2e" stroke-width="0.95"/><circle cx="127.16" cy="416.87" r="1.9" fill="none" stroke="#ff5f2e" stroke-width="0.95"/><circle cx="128.28" cy="418.78" r="1.9" fill="none" stroke="#ff5f2e" stroke-width="0.95"/><circle cx="129.41" cy="420.68" r="1.9" fill="none" stroke="#ff5f2e" stroke-width="0.95"/><circle cx="130.69" cy="425.53" r="1.9" fill="none" stroke="#ff5f2e" stroke-width="0.95"/><circle cx="131.98" cy="430.38" r="1.9" fill="none" stroke="#ff5f2e" stroke-width="0.95"/><circle cx="132.89" cy="432.54" r="1.9" fill="none" stroke="#ff5f2e" stroke-width="0.95"/><circle cx="133.8" cy="434.71" r="1.9" fill="none" stroke="#ff5f2e" stroke-width="0.95"/><circle cx="135.09" cy="431.43" r="1.9" fill="none" stroke="#ff5f2e" stroke-width="0.95"/><circle cx="136.49" cy="440.74" r="1.9" fill="none" stroke="#ff5f2e" stroke-width="0.95"/><circle cx="137.34" cy="434.44" r="1.9" fill="none" stroke="#ff5f2e" stroke-width="0.95"/><circle cx="138.2" cy="428.15" r="1.9" fill="none" stroke="#ff5f2e" stroke-width="0.95"/><circle cx="139.33" cy="425.72" r="1.9" fill="none" stroke="#ff5f2e" stroke-width="0.95"/><circle cx="140.45" cy="423.3" r="1.9" fill="none" stroke="#ff5f2e" stroke-width="0.95"/><circle cx="141.85" cy="430.38" r="1.9" fill="none" stroke="#ff5f2e" stroke-width="0.95"/><circle cx="143.13" cy="448.86" r="1.9" fill="none" stroke="#ff5f2e" stroke-width="0.95"/><circle cx="144.06" cy="453.98" r="1.9" fill="none" stroke="#ff5f2e" stroke-width="0.95"/><circle cx="144.99" cy="459.09" r="1.9" fill="none" stroke="#ff5f2e" stroke-width="0.95"/><circle cx="145.92" cy="464.2" r="1.9" fill="none" stroke="#ff5f2e" stroke-width="0.95"/><circle cx="146.96" cy="462.06" r="1.9" fill="none" stroke="#ff5f2e" stroke-width="0.95"/><circle cx="147.99" cy="459.92" r="1.9" fill="none" stroke="#ff5f2e" stroke-width="0.95"/><circle cx="149.03" cy="457.78" r="1.9" fill="none" stroke="#ff5f2e" stroke-width="0.95"/><circle cx="150.32" cy="436.02" r="1.9" fill="none" stroke="#ff5f2e" stroke-width="0.95"/><circle cx="151.21" cy="437.46" r="1.9" fill="none" stroke="#ff5f2e" stroke-width="0.95"/><circle cx="152.11" cy="438.9" r="1.9" fill="none" stroke="#ff5f2e" stroke-width="0.95"/><circle cx="153" cy="440.34" r="1.9" fill="none" stroke="#ff5f2e" stroke-width="0.95"/><circle cx="154.12" cy="442.51" r="1.9" fill="none" stroke="#ff5f2e" stroke-width="0.95"/><circle cx="155.25" cy="444.67" r="1.9" fill="none" stroke="#ff5f2e" stroke-width="0.95"/><circle cx="156.38" cy="451.75" r="1.9" fill="none" stroke="#ff5f2e" stroke-width="0.95"/><circle cx="157.5" cy="458.83" r="1.9" fill="none" stroke="#ff5f2e" stroke-width="0.95"/><circle cx="158.36" cy="460.47" r="1.9" fill="none" stroke="#ff5f2e" stroke-width="0.95"/><circle cx="159.22" cy="462.11" r="1.9" fill="none" stroke="#ff5f2e" stroke-width="0.95"/><circle cx="160.13" cy="458.57" r="1.9" fill="none" stroke="#ff5f2e" stroke-width="0.95"/><circle cx="161.04" cy="455.03" r="1.9" fill="none" stroke="#ff5f2e" stroke-width="0.95"/><circle cx="162.11" cy="456.4" r="1.9" fill="none" stroke="#ff5f2e" stroke-width="0.95"/><circle cx="163.19" cy="457.78" r="1.9" fill="none" stroke="#ff5f2e" stroke-width="0.95"/><circle cx="164.08" cy="457.56" r="1.9" fill="none" stroke="#ff5f2e" stroke-width="0.95"/><circle cx="164.97" cy="457.34" r="1.9" fill="none" stroke="#ff5f2e" stroke-width="0.95"/><circle cx="165.87" cy="457.12" r="1.9" fill="none" stroke="#ff5f2e" stroke-width="0.95"/><circle cx="166.99" cy="456.08" r="1.9" fill="none" stroke="#ff5f2e" stroke-width="0.95"/><circle cx="168.12" cy="455.03" r="1.9" fill="none" stroke="#ff5f2e" stroke-width="0.95"/><circle cx="169.03" cy="458.57" r="1.9" fill="none" stroke="#ff5f2e" stroke-width="0.95"/><circle cx="169.94" cy="462.11" r="1.9" fill="none" stroke="#ff5f2e" stroke-width="0.95"/><circle cx="171.23" cy="464.27" r="1.9" fill="none" stroke="#ff5f2e" stroke-width="0.95"/><circle cx="172.52" cy="466.43" r="1.9" fill="none" stroke="#ff5f2e" stroke-width="0.95"/><circle cx="173.91" cy="468.53" r="1.9" fill="none" stroke="#ff5f2e" stroke-width="0.95"/><circle cx="174.8" cy="464.95" r="1.9" fill="none" stroke="#ff5f2e" stroke-width="0.95"/><circle cx="175.7" cy="461.36" r="1.9" fill="none" stroke="#ff5f2e" stroke-width="0.95"/><circle cx="176.59" cy="457.78" r="1.9" fill="none" stroke="#ff5f2e" stroke-width="0.95"/><circle cx="177.66" cy="461.25" r="1.9" fill="none" stroke="#ff5f2e" stroke-width="0.95"/><circle cx="178.74" cy="464.73" r="1.9" fill="none" stroke="#ff5f2e" stroke-width="0.95"/><circle cx="179.63" cy="465.65" r="1.9" fill="none" stroke="#ff5f2e" stroke-width="0.95"/><circle cx="180.52" cy="466.56" r="1.9" fill="none" stroke="#ff5f2e" stroke-width="0.95"/><circle cx="181.42" cy="467.48" r="1.9" fill="none" stroke="#ff5f2e" stroke-width="0.95"/><circle cx="182.92" cy="473.51" r="1.9" fill="none" stroke="#ff5f2e" stroke-width="0.95"/><circle cx="183.88" cy="475.61" r="1.9" fill="none" stroke="#ff5f2e" stroke-width="0.95"/><circle cx="184.85" cy="477.71" r="1.9" fill="none" stroke="#ff5f2e" stroke-width="0.95"/><circle cx="186.08" cy="480.4" r="1.9" fill="none" stroke="#ff5f2e" stroke-width="0.95"/><circle cx="187.31" cy="483.08" r="1.9" fill="none" stroke="#ff5f2e" stroke-width="0.95"/><circle cx="188.49" cy="481.31" r="1.9" fill="none" stroke="#ff5f2e" stroke-width="0.95"/><circle cx="189.67" cy="479.54" r="1.9" fill="none" stroke="#ff5f2e" stroke-width="0.95"/><circle cx="190.69" cy="478.04" r="1.9" fill="none" stroke="#ff5f2e" stroke-width="0.95"/><circle cx="191.71" cy="476.53" r="1.9" fill="none" stroke="#ff5f2e" stroke-width="0.95"/><circle cx="192.89" cy="475.61" r="1.9" fill="none" stroke="#ff5f2e" stroke-width="0.95"/><circle cx="194.07" cy="474.69" r="1.9" fill="none" stroke="#ff5f2e" stroke-width="0.95"/><circle cx="195.57" cy="485.44" r="1.9" fill="none" stroke="#ff5f2e" stroke-width="0.95"/><circle cx="197.07" cy="496.19" r="1.9" fill="none" stroke="#ff5f2e" stroke-width="0.95"/><circle cx="198.04" cy="503.34" r="1.9" fill="none" stroke="#ff5f2e" stroke-width="0.95"/><circle cx="199" cy="510.48" r="1.9" fill="none" stroke="#ff5f2e" stroke-width="0.95"/><circle cx="200.4" cy="512.32" r="1.9" fill="none" stroke="#ff5f2e" stroke-width="0.95"/><circle cx="201.63" cy="510.22" r="1.9" fill="none" stroke="#ff5f2e" stroke-width="0.95"/><circle cx="202.86" cy="508.12" r="1.9" fill="none" stroke="#ff5f2e" stroke-width="0.95"/><circle cx="204.36" cy="505.11" r="1.9" fill="none" stroke="#ff5f2e" stroke-width="0.95"/><circle cx="205.33" cy="506.94" r="1.9" fill="none" stroke="#ff5f2e" stroke-width="0.95"/><circle cx="206.29" cy="508.78" r="1.9" fill="none" stroke="#ff5f2e" stroke-width="0.95"/><circle cx="207.26" cy="505.76" r="1.9" fill="none" stroke="#ff5f2e" stroke-width="0.95"/><circle cx="208.22" cy="502.75" r="1.9" fill="none" stroke="#ff5f2e" stroke-width="0.95"/><circle cx="209.73" cy="511.14" r="1.9" fill="none" stroke="#ff5f2e" stroke-width="0.95"/><circle cx="211.12" cy="506.94" r="1.9" fill="none" stroke="#ff5f2e" stroke-width="0.95"/></g><rect x="96.1" y="362.3" width="59.8" height="16.7" fill="#fff" stroke="#444444" stroke-width="1"/><line x1="98" y1="367" x2="116.8" y2="367" stroke="#ff5f2e" stroke-width="0.9"/><circle cx="106.7" cy="367" r="1.8" fill="none" stroke="#ff5f2e" stroke-width="0.8"/><text transform="translate(119.5 370) scale(1 1.16)" font-family="Liberation Serif" font-weight="normal" font-size="6.9" text-anchor="start" fill="#000"  stroke="#000" stroke-width="0.05">Point A</text><rect x="98" y="371.6" width="18.8" height="5.2" fill="#78a3d8"/><text transform="translate(117.9 377.7) scale(1 1.16)" font-family="Liberation Serif" font-weight="normal" font-size="6.9" text-anchor="start" fill="#000"  stroke="#000" stroke-width="0.05">Precipitation</text><text transform="translate(120.4 543) scale(1 1.16)" font-family="Liberation Serif" font-weight="bold" font-size="8.7" text-anchor="middle" fill="#000"  stroke="#000" stroke-width="0.08">Time (year)</text><polyline points="271.6,469.1 272.5,476.5 272.5,482.2 273.3,487.1 274.1,500.2 275.3,503 276.3,475 277.4,445.4 279,453.6 280.6,461.7 281.5,467.5 282.3,470.7 283.9,472.4 284.7,494.5 285.5,501.8 286.4,482.2 288,469.1 289.3,452 290.5,436.4 292.1,451.9 293.7,452.7 294.5,455.2 295.4,482.2 297,485.5 297.8,492 298.65,493.65 299.5,495.3 300.3,472.4 301.5,448 302.7,423.3 303.55,424.1 304.4,424.9 305.6,425.7 306.8,426.5 307.6,436.4 308.5,444.5 309.3,452.7 310.1,464.2 311.7,479.7 312.55,466.2 313.4,452.7 314.9,404.8 316.5,396.6 317.4,423.6 318.2,430.2 319.8,434.3 320.6,438.4 321.5,444.1 323.1,455.6 324.7,458.8 325.5,452.3 326.35,449.85 327.2,447.4 328,431.8 329.6,436.7 330.5,453.1 331.3,433.5 332.9,465.4 334.5,490 335.5,499.6 336.5,490 337.8,435.1 338.65,432.25 339.5,429.4 341.1,421.2 342.35,422 343.6,422.8 344.4,444.1 345.2,463.7 346.5,483.8 347.5,478.2 348.4,487.5 349.3,483.8 350.25,476.8 351.2,469.8 352.1,449.3 353.3,439.7 354.9,409.5 355.7,435.6 356.5,420.9 357.35,422.55 358.2,424.2 359.8,423.4 360.65,425.85 361.5,428.3 363.1,441.4 364.7,438.9 365.5,396.4 366.4,405.4 367.2,414.4 368.8,414.4 369.6,425 370.5,428.3 371.3,435.6 372.9,442.2 373.7,447.1 374.5,448.7 375.4,429.9 376.2,438.1 377,433.2 378.6,433.2 379.45,425 380.3,416.8 381.9,421.7 382.7,461 383.8,468 384.7,460.5 385.6,472.6 386.6,482.9 387.5,470.75 388.4,458.6 389.1,427.2 390.7,414.1 391.5,422.3 392.35,422.7 393.2,423.1 393.2,441.9 394,462.4 394.95,464.25 395.9,466.1 396.85,466.55 397.8,467 398.7,454.9 399.6,442.8 400.5,445.2 401.4,423.1 402.2,414.9 403.8,417.4 404.65,419.45 405.5,421.5 406.3,423.9 407.1,418.2 408,445.6 409.5,450.9 409.9,457.7 410.8,463.3 412,408.4 412.8,393.6 413.6,378.9 414.45,376.85 415.3,374.8 416.9,373.2 416.9,385.5 417.75,387.55 418.6,389.6 420,389.5 420.2,408.4 421.6,430.5 422.5,437 422.9,463.3 423.85,458.65 424.8,454 425.7,450.1 426.5,441.1 427.4,424.7 428.2,408.4 429,396.9 430.6,399.4 431.5,404.3 433.1,411.6 433.9,428 435.5,425.6 436.4,445.2 437.2,435.4 438,422.3 438.8,435.4 439.65,430.9 440.5,426.4 441.3,392.8 442.9,391.2 444.5,387.9 445.4,373.2 446.2,426.4 447.8,413.3 448.6,400.2 449.5,408.4 450.3,410.8 451.1,391.2" fill="none" stroke="#ff5f2e" stroke-width="0.9"/><circle cx="271.6" cy="469.1" r="1.9" fill="none" stroke="#ff5f2e" stroke-width="0.95"/><circle cx="272.5" cy="476.5" r="1.9" fill="none" stroke="#ff5f2e" stroke-width="0.95"/><circle cx="272.5" cy="482.2" r="1.9" fill="none" stroke="#ff5f2e" stroke-width="0.95"/><circle cx="273.3" cy="487.1" r="1.9" fill="none" stroke="#ff5f2e" stroke-width="0.95"/><circle cx="274.1" cy="500.2" r="1.9" fill="none" stroke="#ff5f2e" stroke-width="0.95"/><circle cx="275.3" cy="503" r="1.9" fill="none" stroke="#ff5f2e" stroke-width="0.95"/><circle cx="276.3" cy="475" r="1.9" fill="none" stroke="#ff5f2e" stroke-width="0.95"/><circle cx="277.4" cy="445.4" r="1.9" fill="none" stroke="#ff5f2e" stroke-width="0.95"/><circle cx="279" cy="453.6" r="1.9" fill="none" stroke="#ff5f2e" stroke-width="0.95"/><circle cx="280.6" cy="461.7" r="1.9" fill="none" stroke="#ff5f2e" stroke-width="0.95"/><circle cx="281.5" cy="467.5" r="1.9" fill="none" stroke="#ff5f2e" stroke-width="0.95"/><circle cx="282.3" cy="470.7" r="1.9" fill="none" stroke="#ff5f2e" stroke-width="0.95"/><circle cx="283.9" cy="472.4" r="1.9" fill="none" stroke="#ff5f2e" stroke-width="0.95"/><circle cx="284.7" cy="494.5" r="1.9" fill="none" stroke="#ff5f2e" stroke-width="0.95"/><circle cx="285.5" cy="501.8" r="1.9" fill="none" stroke="#ff5f2e" stroke-width="0.95"/><circle cx="286.4" cy="482.2" r="1.9" fill="none" stroke="#ff5f2e" stroke-width="0.95"/><circle cx="288" cy="469.1" r="1.9" fill="none" stroke="#ff5f2e" stroke-width="0.95"/><circle cx="289.3" cy="452" r="1.9" fill="none" stroke="#ff5f2e" stroke-width="0.95"/><circle cx="290.5" cy="436.4" r="1.9" fill="none" stroke="#ff5f2e" stroke-width="0.95"/><circle cx="292.1" cy="451.9" r="1.9" fill="none" stroke="#ff5f2e" stroke-width="0.95"/><circle cx="293.7" cy="452.7" r="1.9" fill="none" stroke="#ff5f2e" stroke-width="0.95"/><circle cx="294.5" cy="455.2" r="1.9" fill="none" stroke="#ff5f2e" stroke-width="0.95"/><circle cx="295.4" cy="482.2" r="1.9" fill="none" stroke="#ff5f2e" stroke-width="0.95"/><circle cx="297" cy="485.5" r="1.9" fill="none" stroke="#ff5f2e" stroke-width="0.95"/><circle cx="297.8" cy="492" r="1.9" fill="none" stroke="#ff5f2e" stroke-width="0.95"/><circle cx="298.65" cy="493.65" r="1.9" fill="none" stroke="#ff5f2e" stroke-width="0.95"/><circle cx="299.5" cy="495.3" r="1.9" fill="none" stroke="#ff5f2e" stroke-width="0.95"/><circle cx="300.3" cy="472.4" r="1.9" fill="none" stroke="#ff5f2e" stroke-width="0.95"/><circle cx="301.5" cy="448" r="1.9" fill="none" stroke="#ff5f2e" stroke-width="0.95"/><circle cx="302.7" cy="423.3" r="1.9" fill="none" stroke="#ff5f2e" stroke-width="0.95"/><circle cx="303.55" cy="424.1" r="1.9" fill="none" stroke="#ff5f2e" stroke-width="0.95"/><circle cx="304.4" cy="424.9" r="1.9" fill="none" stroke="#ff5f2e" stroke-width="0.95"/><circle cx="305.6" cy="425.7" r="1.9" fill="none" stroke="#ff5f2e" stroke-width="0.95"/><circle cx="306.8" cy="426.5" r="1.9" fill="none" stroke="#ff5f2e" stroke-width="0.95"/><circle cx="307.6" cy="436.4" r="1.9" fill="none" stroke="#ff5f2e" stroke-width="0.95"/><circle cx="308.5" cy="444.5" r="1.9" fill="none" stroke="#ff5f2e" stroke-width="0.95"/><circle cx="309.3" cy="452.7" r="1.9" fill="none" stroke="#ff5f2e" stroke-width="0.95"/><circle cx="310.1" cy="464.2" r="1.9" fill="none" stroke="#ff5f2e" stroke-width="0.95"/><circle cx="311.7" cy="479.7" r="1.9" fill="none" stroke="#ff5f2e" stroke-width="0.95"/><circle cx="312.55" cy="466.2" r="1.9" fill="none" stroke="#ff5f2e" stroke-width="0.95"/><circle cx="313.4" cy="452.7" r="1.9" fill="none" stroke="#ff5f2e" stroke-width="0.95"/><circle cx="314.9" cy="404.8" r="1.9" fill="none" stroke="#ff5f2e" stroke-width="0.95"/><circle cx="316.5" cy="396.6" r="1.9" fill="none" stroke="#ff5f2e" stroke-width="0.95"/><circle cx="317.4" cy="423.6" r="1.9" fill="none" stroke="#ff5f2e" stroke-width="0.95"/><circle cx="318.2" cy="430.2" r="1.9" fill="none" stroke="#ff5f2e" stroke-width="0.95"/><circle cx="319.8" cy="434.3" r="1.9" fill="none" stroke="#ff5f2e" stroke-width="0.95"/><circle cx="320.6" cy="438.4" r="1.9" fill="none" stroke="#ff5f2e" stroke-width="0.95"/><circle cx="321.5" cy="444.1" r="1.9" fill="none" stroke="#ff5f2e" stroke-width="0.95"/><circle cx="323.1" cy="455.6" r="1.9" fill="none" stroke="#ff5f2e" stroke-width="0.95"/><circle cx="324.7" cy="458.8" r="1.9" fill="none" stroke="#ff5f2e" stroke-width="0.95"/><circle cx="325.5" cy="452.3" r="1.9" fill="none" stroke="#ff5f2e" stroke-width="0.95"/><circle cx="326.35" cy="449.85" r="1.9" fill="none" stroke="#ff5f2e" stroke-width="0.95"/><circle cx="327.2" cy="447.4" r="1.9" fill="none" stroke="#ff5f2e" stroke-width="0.95"/><circle cx="328" cy="431.8" r="1.9" fill="none" stroke="#ff5f2e" stroke-width="0.95"/><circle cx="329.6" cy="436.7" r="1.9" fill="none" stroke="#ff5f2e" stroke-width="0.95"/><circle cx="330.5" cy="453.1" r="1.9" fill="none" stroke="#ff5f2e" stroke-width="0.95"/><circle cx="331.3" cy="433.5" r="1.9" fill="none" stroke="#ff5f2e" stroke-width="0.95"/><circle cx="332.9" cy="465.4" r="1.9" fill="none" stroke="#ff5f2e" stroke-width="0.95"/><circle cx="334.5" cy="490" r="1.9" fill="none" stroke="#ff5f2e" stroke-width="0.95"/><circle cx="335.5" cy="499.6" r="1.9" fill="none" stroke="#ff5f2e" stroke-width="0.95"/><circle cx="336.5" cy="490" r="1.9" fill="none" stroke="#ff5f2e" stroke-width="0.95"/><circle cx="337.8" cy="435.1" r="1.9" fill="none" stroke="#ff5f2e" stroke-width="0.95"/><circle cx="338.65" cy="432.25" r="1.9" fill="none" stroke="#ff5f2e" stroke-width="0.95"/><circle cx="339.5" cy="429.4" r="1.9" fill="none" stroke="#ff5f2e" stroke-width="0.95"/><circle cx="341.1" cy="421.2" r="1.9" fill="none" stroke="#ff5f2e" stroke-width="0.95"/><circle cx="342.35" cy="422" r="1.9" fill="none" stroke="#ff5f2e" stroke-width="0.95"/><circle cx="343.6" cy="422.8" r="1.9" fill="none" stroke="#ff5f2e" stroke-width="0.95"/><circle cx="344.4" cy="444.1" r="1.9" fill="none" stroke="#ff5f2e" stroke-width="0.95"/><circle cx="345.2" cy="463.7" r="1.9" fill="none" stroke="#ff5f2e" stroke-width="0.95"/><circle cx="346.5" cy="483.8" r="1.9" fill="none" stroke="#ff5f2e" stroke-width="0.95"/><circle cx="347.5" cy="478.2" r="1.9" fill="none" stroke="#ff5f2e" stroke-width="0.95"/><circle cx="348.4" cy="487.5" r="1.9" fill="none" stroke="#ff5f2e" stroke-width="0.95"/><circle cx="349.3" cy="483.8" r="1.9" fill="none" stroke="#ff5f2e" stroke-width="0.95"/><circle cx="350.25" cy="476.8" r="1.9" fill="none" stroke="#ff5f2e" stroke-width="0.95"/><circle cx="351.2" cy="469.8" r="1.9" fill="none" stroke="#ff5f2e" stroke-width="0.95"/><circle cx="352.1" cy="449.3" r="1.9" fill="none" stroke="#ff5f2e" stroke-width="0.95"/><circle cx="353.3" cy="439.7" r="1.9" fill="none" stroke="#ff5f2e" stroke-width="0.95"/><circle cx="354.9" cy="409.5" r="1.9" fill="none" stroke="#ff5f2e" stroke-width="0.95"/><circle cx="355.7" cy="435.6" r="1.9" fill="none" stroke="#ff5f2e" stroke-width="0.95"/><circle cx="356.5" cy="420.9" r="1.9" fill="none" stroke="#ff5f2e" stroke-width="0.95"/><circle cx="357.35" cy="422.55" r="1.9" fill="none" stroke="#ff5f2e" stroke-width="0.95"/><circle cx="358.2" cy="424.2" r="1.9" fill="none" stroke="#ff5f2e" stroke-width="0.95"/><circle cx="359.8" cy="423.4" r="1.9" fill="none" stroke="#ff5f2e" stroke-width="0.95"/><circle cx="360.65" cy="425.85" r="1.9" fill="none" stroke="#ff5f2e" stroke-width="0.95"/><circle cx="361.5" cy="428.3" r="1.9" fill="none" stroke="#ff5f2e" stroke-width="0.95"/><circle cx="363.1" cy="441.4" r="1.9" fill="none" stroke="#ff5f2e" stroke-width="0.95"/><circle cx="364.7" cy="438.9" r="1.9" fill="none" stroke="#ff5f2e" stroke-width="0.95"/><circle cx="365.5" cy="396.4" r="1.9" fill="none" stroke="#ff5f2e" stroke-width="0.95"/><circle cx="366.4" cy="405.4" r="1.9" fill="none" stroke="#ff5f2e" stroke-width="0.95"/><circle cx="367.2" cy="414.4" r="1.9" fill="none" stroke="#ff5f2e" stroke-width="0.95"/><circle cx="368.8" cy="414.4" r="1.9" fill="none" stroke="#ff5f2e" stroke-width="0.95"/><circle cx="369.6" cy="425" r="1.9" fill="none" stroke="#ff5f2e" stroke-width="0.95"/><circle cx="370.5" cy="428.3" r="1.9" fill="none" stroke="#ff5f2e" stroke-width="0.95"/><circle cx="371.3" cy="435.6" r="1.9" fill="none" stroke="#ff5f2e" stroke-width="0.95"/><circle cx="372.9" cy="442.2" r="1.9" fill="none" stroke="#ff5f2e" stroke-width="0.95"/><circle cx="373.7" cy="447.1" r="1.9" fill="none" stroke="#ff5f2e" stroke-width="0.95"/><circle cx="374.5" cy="448.7" r="1.9" fill="none" stroke="#ff5f2e" stroke-width="0.95"/><circle cx="375.4" cy="429.9" r="1.9" fill="none" stroke="#ff5f2e" stroke-width="0.95"/><circle cx="376.2" cy="438.1" r="1.9" fill="none" stroke="#ff5f2e" stroke-width="0.95"/><circle cx="377" cy="433.2" r="1.9" fill="none" stroke="#ff5f2e" stroke-width="0.95"/><circle cx="378.6" cy="433.2" r="1.9" fill="none" stroke="#ff5f2e" stroke-width="0.95"/><circle cx="379.45" cy="425" r="1.9" fill="none" stroke="#ff5f2e" stroke-width="0.95"/><circle cx="380.3" cy="416.8" r="1.9" fill="none" stroke="#ff5f2e" stroke-width="0.95"/><circle cx="381.9" cy="421.7" r="1.9" fill="none" stroke="#ff5f2e" stroke-width="0.95"/><circle cx="382.7" cy="461" r="1.9" fill="none" stroke="#ff5f2e" stroke-width="0.95"/><circle cx="383.8" cy="468" r="1.9" fill="none" stroke="#ff5f2e" stroke-width="0.95"/><circle cx="384.7" cy="460.5" r="1.9" fill="none" stroke="#ff5f2e" stroke-width="0.95"/><circle cx="385.6" cy="472.6" r="1.9" fill="none" stroke="#ff5f2e" stroke-width="0.95"/><circle cx="386.6" cy="482.9" r="1.9" fill="none" stroke="#ff5f2e" stroke-width="0.95"/><circle cx="387.5" cy="470.75" r="1.9" fill="none" stroke="#ff5f2e" stroke-width="0.95"/><circle cx="388.4" cy="458.6" r="1.9" fill="none" stroke="#ff5f2e" stroke-width="0.95"/><circle cx="389.1" cy="427.2" r="1.9" fill="none" stroke="#ff5f2e" stroke-width="0.95"/><circle cx="390.7" cy="414.1" r="1.9" fill="none" stroke="#ff5f2e" stroke-width="0.95"/><circle cx="391.5" cy="422.3" r="1.9" fill="none" stroke="#ff5f2e" stroke-width="0.95"/><circle cx="392.35" cy="422.7" r="1.9" fill="none" stroke="#ff5f2e" stroke-width="0.95"/><circle cx="393.2" cy="423.1" r="1.9" fill="none" stroke="#ff5f2e" stroke-width="0.95"/><circle cx="393.2" cy="441.9" r="1.9" fill="none" stroke="#ff5f2e" stroke-width="0.95"/><circle cx="394" cy="462.4" r="1.9" fill="none" stroke="#ff5f2e" stroke-width="0.95"/><circle cx="394.95" cy="464.25" r="1.9" fill="none" stroke="#ff5f2e" stroke-width="0.95"/><circle cx="395.9" cy="466.1" r="1.9" fill="none" stroke="#ff5f2e" stroke-width="0.95"/><circle cx="396.85" cy="466.55" r="1.9" fill="none" stroke="#ff5f2e" stroke-width="0.95"/><circle cx="397.8" cy="467" r="1.9" fill="none" stroke="#ff5f2e" stroke-width="0.95"/><circle cx="398.7" cy="454.9" r="1.9" fill="none" stroke="#ff5f2e" stroke-width="0.95"/><circle cx="399.6" cy="442.8" r="1.9" fill="none" stroke="#ff5f2e" stroke-width="0.95"/><circle cx="400.5" cy="445.2" r="1.9" fill="none" stroke="#ff5f2e" stroke-width="0.95"/><circle cx="401.4" cy="423.1" r="1.9" fill="none" stroke="#ff5f2e" stroke-width="0.95"/><circle cx="402.2" cy="414.9" r="1.9" fill="none" stroke="#ff5f2e" stroke-width="0.95"/><circle cx="403.8" cy="417.4" r="1.9" fill="none" stroke="#ff5f2e" stroke-width="0.95"/><circle cx="404.65" cy="419.45" r="1.9" fill="none" stroke="#ff5f2e" stroke-width="0.95"/><circle cx="405.5" cy="421.5" r="1.9" fill="none" stroke="#ff5f2e" stroke-width="0.95"/><circle cx="406.3" cy="423.9" r="1.9" fill="none" stroke="#ff5f2e" stroke-width="0.95"/><circle cx="407.1" cy="418.2" r="1.9" fill="none" stroke="#ff5f2e" stroke-width="0.95"/><circle cx="408" cy="445.6" r="1.9" fill="none" stroke="#ff5f2e" stroke-width="0.95"/><circle cx="409.5" cy="450.9" r="1.9" fill="none" stroke="#ff5f2e" stroke-width="0.95"/><circle cx="409.9" cy="457.7" r="1.9" fill="none" stroke="#ff5f2e" stroke-width="0.95"/><circle cx="410.8" cy="463.3" r="1.9" fill="none" stroke="#ff5f2e" stroke-width="0.95"/><circle cx="412" cy="408.4" r="1.9" fill="none" stroke="#ff5f2e" stroke-width="0.95"/><circle cx="412.8" cy="393.6" r="1.9" fill="none" stroke="#ff5f2e" stroke-width="0.95"/><circle cx="413.6" cy="378.9" r="1.9" fill="none" stroke="#ff5f2e" stroke-width="0.95"/><circle cx="414.45" cy="376.85" r="1.9" fill="none" stroke="#ff5f2e" stroke-width="0.95"/><circle cx="415.3" cy="374.8" r="1.9" fill="none" stroke="#ff5f2e" stroke-width="0.95"/><circle cx="416.9" cy="373.2" r="1.9" fill="none" stroke="#ff5f2e" stroke-width="0.95"/><circle cx="416.9" cy="385.5" r="1.9" fill="none" stroke="#ff5f2e" stroke-width="0.95"/><circle cx="417.75" cy="387.55" r="1.9" fill="none" stroke="#ff5f2e" stroke-width="0.95"/><circle cx="418.6" cy="389.6" r="1.9" fill="none" stroke="#ff5f2e" stroke-width="0.95"/><circle cx="420" cy="389.5" r="1.9" fill="none" stroke="#ff5f2e" stroke-width="0.95"/><circle cx="420.2" cy="408.4" r="1.9" fill="none" stroke="#ff5f2e" stroke-width="0.95"/><circle cx="421.6" cy="430.5" r="1.9" fill="none" stroke="#ff5f2e" stroke-width="0.95"/><circle cx="422.5" cy="437" r="1.9" fill="none" stroke="#ff5f2e" stroke-width="0.95"/><circle cx="422.9" cy="463.3" r="1.9" fill="none" stroke="#ff5f2e" stroke-width="0.95"/><circle cx="423.85" cy="458.65" r="1.9" fill="none" stroke="#ff5f2e" stroke-width="0.95"/><circle cx="424.8" cy="454" r="1.9" fill="none" stroke="#ff5f2e" stroke-width="0.95"/><circle cx="425.7" cy="450.1" r="1.9" fill="none" stroke="#ff5f2e" stroke-width="0.95"/><circle cx="426.5" cy="441.1" r="1.9" fill="none" stroke="#ff5f2e" stroke-width="0.95"/><circle cx="427.4" cy="424.7" r="1.9" fill="none" stroke="#ff5f2e" stroke-width="0.95"/><circle cx="428.2" cy="408.4" r="1.9" fill="none" stroke="#ff5f2e" stroke-width="0.95"/><circle cx="429" cy="396.9" r="1.9" fill="none" stroke="#ff5f2e" stroke-width="0.95"/><circle cx="430.6" cy="399.4" r="1.9" fill="none" stroke="#ff5f2e" stroke-width="0.95"/><circle cx="431.5" cy="404.3" r="1.9" fill="none" stroke="#ff5f2e" stroke-width="0.95"/><circle cx="433.1" cy="411.6" r="1.9" fill="none" stroke="#ff5f2e" stroke-width="0.95"/><circle cx="433.9" cy="428" r="1.9" fill="none" stroke="#ff5f2e" stroke-width="0.95"/><circle cx="435.5" cy="425.6" r="1.9" fill="none" stroke="#ff5f2e" stroke-width="0.95"/><circle cx="436.4" cy="445.2" r="1.9" fill="none" stroke="#ff5f2e" stroke-width="0.95"/><circle cx="437.2" cy="435.4" r="1.9" fill="none" stroke="#ff5f2e" stroke-width="0.95"/><circle cx="438" cy="422.3" r="1.9" fill="none" stroke="#ff5f2e" stroke-width="0.95"/><circle cx="438.8" cy="435.4" r="1.9" fill="none" stroke="#ff5f2e" stroke-width="0.95"/><circle cx="439.65" cy="430.9" r="1.9" fill="none" stroke="#ff5f2e" stroke-width="0.95"/><circle cx="440.5" cy="426.4" r="1.9" fill="none" stroke="#ff5f2e" stroke-width="0.95"/><circle cx="441.3" cy="392.8" r="1.9" fill="none" stroke="#ff5f2e" stroke-width="0.95"/><circle cx="442.9" cy="391.2" r="1.9" fill="none" stroke="#ff5f2e" stroke-width="0.95"/><circle cx="444.5" cy="387.9" r="1.9" fill="none" stroke="#ff5f2e" stroke-width="0.95"/><circle cx="445.4" cy="373.2" r="1.9" fill="none" stroke="#ff5f2e" stroke-width="0.95"/><circle cx="446.2" cy="426.4" r="1.9" fill="none" stroke="#ff5f2e" stroke-width="0.95"/><circle cx="447.8" cy="413.3" r="1.9" fill="none" stroke="#ff5f2e" stroke-width="0.95"/><circle cx="448.6" cy="400.2" r="1.9" fill="none" stroke="#ff5f2e" stroke-width="0.95"/><circle cx="449.5" cy="408.4" r="1.9" fill="none" stroke="#ff5f2e" stroke-width="0.95"/><circle cx="450.3" cy="410.8" r="1.9" fill="none" stroke="#ff5f2e" stroke-width="0.95"/><circle cx="451.1" cy="391.2" r="1.9" fill="none" stroke="#ff5f2e" stroke-width="0.95"/><path d="M270.4 524V506.52H271.44V524ZM271.44 524V506.05H272.48V524ZM272.48 524V481.22H273.53V524ZM273.53 524V474.17H274.57V524ZM274.57 524V457.37H275.61V524ZM275.61 524V466.03H276.65V524ZM276.65 524V408.34H277.69V524ZM277.69 524V456.13H278.73V524ZM278.73 524V465.92H279.78V524ZM279.78 524V472.66H280.82V524ZM280.82 524V484.93H281.86V524ZM281.86 524V500.67H282.9V524ZM282.9 524V492.31H283.94V524ZM283.94 524V499.16H284.98V524ZM284.98 524V487.85H286.03V524ZM286.03 524V469.73H287.07V524ZM287.07 524V455.2H288.11V524ZM288.11 524V418.66H289.15V524ZM289.15 524V392.32H290.19V524ZM290.19 524V418.66H291.23V524ZM291.23 524V418.66H292.28V524ZM292.28 524V472.66H293.32V524ZM293.32 524V492.12H294.36V524ZM294.36 524V482.8H295.4V524ZM295.4 524V488.54H296.44V524ZM296.44 524V479.64H297.48V524ZM297.48 524V422.28H298.53V524ZM298.53 524V416.7H299.57V524ZM299.57 524V437.47H300.61V524ZM300.61 524V389.88H301.65V524ZM301.65 524V448.42H302.69V524ZM302.69 524V472.82H303.73V524ZM303.73 524V459.89H304.78V524ZM304.78 524V452.76H305.82V524ZM305.82 524V488.32H306.86V524ZM306.86 524V500.84H307.9V524ZM307.9 524V484.8H308.94V524ZM308.94 524V488.81H309.98V524ZM309.98 524V493.75H311.03V524ZM311.03 524V475.15H312.07V524ZM312.07 524V454.37H313.11V524ZM313.11 524V439.29H314.15V524ZM314.15 524V418.12H315.19V524ZM315.19 524V445.25H316.23V524ZM316.23 524V484.17H317.28V524ZM317.28 524V458.99H318.32V524ZM318.32 524V480.83H319.36V524ZM319.36 524V496.18H320.4V524ZM320.4 524V499.39H321.44V524ZM321.44 524V497.84H322.48V524ZM322.48 524V492.17H323.53V524ZM323.53 524V471.87H324.57V524ZM324.57 524V471.87H325.61V524ZM325.61 524V458.84H326.65V524ZM326.65 524V474.29H327.69V524ZM327.69 524V471.87H328.73V524ZM328.73 524V471.87H329.78V524ZM329.78 524V479.59H330.82V524ZM330.82 524V499.65H331.86V524ZM331.86 524V491.51H332.9V524ZM332.9 524V467.89H333.94V524ZM333.94 524V446.79H334.98V524ZM334.98 524V461.86H336.03V524ZM336.03 524V460.88H337.07V524ZM337.07 524V429.68H338.11V524ZM338.11 524V389.06H339.15V524ZM339.15 524V452.21H340.19V524ZM340.19 524V458.68H341.23V524ZM341.23 524V469.89H342.28V524ZM342.28 524V485.75H343.32V524ZM343.32 524V486.19H344.36V524ZM344.36 524V489.69H345.4V524ZM345.4 524V498.98H346.44V524ZM346.44 524V482.78H347.48V524ZM347.48 524V468.33H348.53V524ZM348.53 524V469.61H349.57V524ZM349.57 524V463.72H350.61V524ZM350.61 524V434.13H351.65V524ZM351.65 524V452.11H352.69V524ZM352.69 524V461.17H353.73V524ZM353.73 524V480.2H354.78V524ZM354.78 524V478.29H355.82V524ZM355.82 524V485H356.86V524ZM356.86 524V473.13H357.9V524ZM357.9 524V502.79H358.94V524ZM358.94 524V498.78H359.98V524ZM359.98 524V488.06H361.03V524ZM361.03 524V474.8H362.07V524ZM362.07 524V480.41H363.11V524ZM363.11 524V461.77H364.15V524ZM364.15 524V435.49H365.19V524ZM365.19 524V457.33H366.23V524ZM366.23 524V461.67H367.28V524ZM367.28 524V479.4H368.32V524ZM368.32 524V496.98H369.36V524ZM369.36 524V503.83H370.4V524ZM370.4 524V497.18H371.44V524ZM371.44 524V490.65H372.48V524ZM372.48 524V492.05H373.53V524ZM373.53 524V464.7H374.57V524ZM374.57 524V464.7H375.61V524ZM375.61 524V464.7H376.65V524ZM376.65 524V464.7H377.69V524ZM377.69 524V449.88H378.73V524ZM378.73 524V464.7H379.78V524ZM379.78 524V469.18H380.82V524ZM380.82 524V475.27H381.86V524ZM381.86 524V485.93H382.9V524ZM382.9 524V487.57H383.94V524ZM383.94 524V488.93H384.98V524ZM384.98 524V476.02H386.03V524ZM386.03 524V472.73H387.07V524ZM387.07 524V411.18H388.11V524ZM388.11 524V364.9H389.15V524ZM389.15 524V452.22H390.19V524ZM390.19 524V454.88H391.23V524ZM391.23 524V458.96H392.28V524ZM392.28 524V438.05H393.32V524ZM393.32 524V470.9H394.36V524ZM394.36 524V486.44H395.4V524ZM395.4 524V475.99H396.44V524ZM396.44 524V483.88H397.48V524ZM397.48 524V438.42H398.53V524ZM398.53 524V440.99H399.57V524ZM399.57 524V417.03H400.61V524ZM400.61 524V448.95H401.65V524ZM401.65 524V438.42H402.69V524ZM402.69 524V470.2H403.73V524ZM403.73 524V447.49H404.78V524ZM404.78 524V465.28H405.82V524ZM405.82 524V495.81H406.86V524ZM406.86 524V484.69H407.9V524ZM407.9 524V448.2H408.94V524ZM408.94 524V459.14H409.98V524ZM409.98 524V448.2H411.03V524ZM411.03 524V429.25H412.07V524ZM412.07 524V448.2H413.11V524ZM413.11 524V458.55H414.15V524ZM414.15 524V472.13H415.19V524ZM415.19 524V467.09H416.23V524ZM416.23 524V489.05H417.28V524ZM417.28 524V497.81H418.32V524ZM418.32 524V507.56H419.36V524ZM419.36 524V497.47H420.4V524ZM420.4 524V506.34H421.44V524ZM421.44 524V500.71H422.48V524ZM422.48 524V479.6H423.53V524ZM423.53 524V470.02H424.57V524ZM424.57 524V468.22H425.61V524ZM425.61 524V451.85H426.65V524ZM426.65 524V418.93H427.69V524ZM427.69 524V449.93H428.73V524ZM428.73 524V449.76H429.78V524ZM429.78 524V442.79H430.82V524ZM430.82 524V489.85H431.86V524ZM431.86 524V453.55H432.9V524ZM432.9 524V497.59H433.94V524ZM433.94 524V489.6H434.98V524ZM434.98 524V494.36H436.03V524ZM436.03 524V505.71H437.07V524ZM437.07 524V475H438.11V524ZM438.11 524V480.65H439.15V524ZM439.15 524V470.16H440.19V524ZM440.19 524V463.18H441.23V524ZM441.23 524V447.98H442.28V524ZM442.28 524V463.18H443.32V524ZM443.32 524V463.18H444.36V524ZM444.36 524V463.18H445.4V524ZM445.4 524V466.48H446.44V524ZM446.44 524V492.09H447.48V524ZM447.48 524V477.9H448.53V524ZM448.53 524V477.22H449.57V524ZM449.57 524V455.25H450.61V524ZM450.61 524V424.9H451.65V524ZM451.65 524V463.79H452.2V524Z" fill="#78a3d8"/><path d="M277.69 524V456.13M278.73 524V465.92M279.78 524V472.66M281.86 524V500.67M288.11 524V455.2M295.4 524V488.54M307.9 524V500.84M323.53 524V492.17M324.57 524V471.87M326.65 524V474.29M340.19 524V458.68M349.57 524V469.61M350.61 524V463.72M351.65 524V452.11M352.69 524V461.17M353.73 524V480.2M354.78 524V480.2M356.86 524V485M374.57 524V464.7M375.61 524V464.7M381.86 524V485.93M388.11 524V411.18M389.15 524V452.22M390.19 524V454.88M393.32 524V470.9M395.4 524V486.44M396.44 524V483.88M404.78 524V465.28M405.82 524V495.81M406.86 524V495.81M411.03 524V448.2M416.23 524V489.05M420.4 524V506.34M426.65 524V451.85M430.82 524V489.85M436.03 524V505.71M445.4 524V466.48M446.44 524V492.09" stroke="#fff" stroke-opacity="0.45" stroke-width="0.8" fill="none"/><line x1="283.4" y1="524" x2="283.4" y2="521.6" stroke="#444444" stroke-width="1"/><line x1="283.4" y1="361.1" x2="283.4" y2="363.5" stroke="#444444" stroke-width="1"/><text transform="translate(283.4 534.3) scale(1 1.16)" font-family="Liberation Serif" font-weight="bold" font-size="7.1" text-anchor="middle" fill="#000"  stroke="#000" stroke-width="0.08">2004</text><line x1="308.4" y1="524" x2="308.4" y2="521.6" stroke="#444444" stroke-width="1"/><line x1="308.4" y1="361.1" x2="308.4" y2="363.5" stroke="#444444" stroke-width="1"/><text transform="translate(308.4 534.3) scale(1 1.16)" font-family="Liberation Serif" font-weight="bold" font-size="7.1" text-anchor="middle" fill="#000"  stroke="#000" stroke-width="0.08">2006</text><line x1="333.4" y1="524" x2="333.4" y2="521.6" stroke="#444444" stroke-width="1"/><line x1="333.4" y1="361.1" x2="333.4" y2="363.5" stroke="#444444" stroke-width="1"/><text transform="translate(333.4 534.3) scale(1 1.16)" font-family="Liberation Serif" font-weight="bold" font-size="7.1" text-anchor="middle" fill="#000"  stroke="#000" stroke-width="0.08">2008</text><line x1="358.4" y1="524" x2="358.4" y2="521.6" stroke="#444444" stroke-width="1"/><line x1="358.4" y1="361.1" x2="358.4" y2="363.5" stroke="#444444" stroke-width="1"/><text transform="translate(358.4 534.3) scale(1 1.16)" font-family="Liberation Serif" font-weight="bold" font-size="7.1" text-anchor="middle" fill="#000"  stroke="#000" stroke-width="0.08">2010</text><line x1="383.4" y1="524" x2="383.4" y2="521.6" stroke="#444444" stroke-width="1"/><line x1="383.4" y1="361.1" x2="383.4" y2="363.5" stroke="#444444" stroke-width="1"/><text transform="translate(383.4 534.3) scale(1 1.16)" font-family="Liberation Serif" font-weight="bold" font-size="7.1" text-anchor="middle" fill="#000"  stroke="#000" stroke-width="0.08">2012</text><line x1="408.4" y1="524" x2="408.4" y2="521.6" stroke="#444444" stroke-width="1"/><line x1="408.4" y1="361.1" x2="408.4" y2="363.5" stroke="#444444" stroke-width="1"/><text transform="translate(408.4 534.3) scale(1 1.16)" font-family="Liberation Serif" font-weight="bold" font-size="7.1" text-anchor="middle" fill="#000"  stroke="#000" stroke-width="0.08">2014</text><line x1="433.4" y1="524" x2="433.4" y2="521.6" stroke="#444444" stroke-width="1"/><line x1="433.4" y1="361.1" x2="433.4" y2="363.5" stroke="#444444" stroke-width="1"/><text transform="translate(433.4 534.3) scale(1 1.16)" font-family="Liberation Serif" font-weight="bold" font-size="7.1" text-anchor="middle" fill="#000"  stroke="#000" stroke-width="0.08">2016</text><line x1="270.6" y1="361.1" x2="452.2" y2="361.1" stroke="#444444" stroke-width="1"/><line x1="270.6" y1="524" x2="452.2" y2="524" stroke="#444444" stroke-width="1"/><line x1="270.6" y1="360.6" x2="270.6" y2="524.5" stroke="#ff5f2e" stroke-width="1"/><line x1="452.2" y1="360.6" x2="452.2" y2="524.5" stroke="#0072bd" stroke-width="1"/><line x1="270.6" y1="361.1" x2="273" y2="361.1" stroke="#ff5f2e" stroke-width="1"/><text transform="translate(268.3 364.3) scale(1 1.16)" font-family="Liberation Serif" font-weight="bold" font-size="7.1" text-anchor="end" fill="#ff5f2e"  stroke="#ff5f2e" stroke-width="0.08">8</text><line x1="270.6" y1="381.46" x2="273" y2="381.46" stroke="#ff5f2e" stroke-width="1"/><text transform="translate(268.3 384.66) scale(1 1.16)" font-family="Liberation Serif" font-weight="bold" font-size="7.1" text-anchor="end" fill="#ff5f2e"  stroke="#ff5f2e" stroke-width="0.08">6</text><line x1="270.6" y1="401.83" x2="273" y2="401.83" stroke="#ff5f2e" stroke-width="1"/><text transform="translate(268.3 405.03) scale(1 1.16)" font-family="Liberation Serif" font-weight="bold" font-size="7.1" text-anchor="end" fill="#ff5f2e"  stroke="#ff5f2e" stroke-width="0.08">4</text><line x1="270.6" y1="422.19" x2="273" y2="422.19" stroke="#ff5f2e" stroke-width="1"/><text transform="translate(268.3 425.39) scale(1 1.16)" font-family="Liberation Serif" font-weight="bold" font-size="7.1" text-anchor="end" fill="#ff5f2e"  stroke="#ff5f2e" stroke-width="0.08">2</text><line x1="270.6" y1="442.55" x2="273" y2="442.55" stroke="#ff5f2e" stroke-width="1"/><text transform="translate(268.3 445.75) scale(1 1.16)" font-family="Liberation Serif" font-weight="bold" font-size="7.1" text-anchor="end" fill="#ff5f2e"  stroke="#ff5f2e" stroke-width="0.08">0</text><line x1="270.6" y1="462.91" x2="273" y2="462.91" stroke="#ff5f2e" stroke-width="1"/><text transform="translate(268.3 466.11) scale(1 1.16)" font-family="Liberation Serif" font-weight="bold" font-size="7.1" text-anchor="end" fill="#ff5f2e"  stroke="#ff5f2e" stroke-width="0.08">-2</text><line x1="270.6" y1="483.27" x2="273" y2="483.27" stroke="#ff5f2e" stroke-width="1"/><text transform="translate(268.3 486.47) scale(1 1.16)" font-family="Liberation Serif" font-weight="bold" font-size="7.1" text-anchor="end" fill="#ff5f2e"  stroke="#ff5f2e" stroke-width="0.08">-4</text><line x1="270.6" y1="503.64" x2="273" y2="503.64" stroke="#ff5f2e" stroke-width="1"/><text transform="translate(268.3 506.84) scale(1 1.16)" font-family="Liberation Serif" font-weight="bold" font-size="7.1" text-anchor="end" fill="#ff5f2e"  stroke="#ff5f2e" stroke-width="0.08">-6</text><line x1="270.6" y1="524" x2="273" y2="524" stroke="#ff5f2e" stroke-width="1"/><text transform="translate(268.3 527.2) scale(1 1.16)" font-family="Liberation Serif" font-weight="bold" font-size="7.1" text-anchor="end" fill="#ff5f2e"  stroke="#ff5f2e" stroke-width="0.08">-8</text><line x1="452.2" y1="524" x2="449.8" y2="524" stroke="#0072bd" stroke-width="1"/><text transform="translate(455.8 527.2) scale(1 1.16)" font-family="Liberation Serif" font-weight="bold" font-size="7.1" text-anchor="start" fill="#0072bd"  stroke="#0072bd" stroke-width="0.08">0</text><line x1="452.2" y1="496.85" x2="449.8" y2="496.85" stroke="#0072bd" stroke-width="1"/><text transform="translate(455.8 500.05) scale(1 1.16)" font-family="Liberation Serif" font-weight="bold" font-size="7.1" text-anchor="start" fill="#0072bd"  stroke="#0072bd" stroke-width="0.08">100</text><line x1="452.2" y1="469.7" x2="449.8" y2="469.7" stroke="#0072bd" stroke-width="1"/><text transform="translate(455.8 472.9) scale(1 1.16)" font-family="Liberation Serif" font-weight="bold" font-size="7.1" text-anchor="start" fill="#0072bd"  stroke="#0072bd" stroke-width="0.08">200</text><line x1="452.2" y1="442.55" x2="449.8" y2="442.55" stroke="#0072bd" stroke-width="1"/><text transform="translate(455.8 445.75) scale(1 1.16)" font-family="Liberation Serif" font-weight="bold" font-size="7.1" text-anchor="start" fill="#0072bd"  stroke="#0072bd" stroke-width="0.08">300</text><line x1="452.2" y1="415.4" x2="449.8" y2="415.4" stroke="#0072bd" stroke-width="1"/><text transform="translate(455.8 418.6) scale(1 1.16)" font-family="Liberation Serif" font-weight="bold" font-size="7.1" text-anchor="start" fill="#0072bd"  stroke="#0072bd" stroke-width="0.08">400</text><line x1="452.2" y1="388.25" x2="449.8" y2="388.25" stroke="#0072bd" stroke-width="1"/><text transform="translate(455.8 391.45) scale(1 1.16)" font-family="Liberation Serif" font-weight="bold" font-size="7.1" text-anchor="start" fill="#0072bd"  stroke="#0072bd" stroke-width="0.08">500</text><line x1="452.2" y1="361.1" x2="449.8" y2="361.1" stroke="#0072bd" stroke-width="1"/><text transform="translate(455.8 364.3) scale(1 1.16)" font-family="Liberation Serif" font-weight="bold" font-size="7.1" text-anchor="start" fill="#0072bd"  stroke="#0072bd" stroke-width="0.08">600</text><text transform="translate(258.1 442.55) rotate(-90) scale(1.16 1)" font-family="Liberation Serif" font-weight="bold" font-size="7.568965517241379" text-anchor="middle" fill="#ff5f2e"  stroke="#ff5f2e" stroke-width="0.08">Equivalent water thickness (cm/mon)</text><text transform="translate(474.9 442.55) rotate(-90) scale(1.16 1)" font-family="Liberation Serif" font-weight="bold" font-size="7.413793103448276" text-anchor="middle" fill="#0072bd"  stroke="#0072bd" stroke-width="0.08">Precipitation (mm)</text><g opacity="0.7"><polyline points="271.6,469.1 272.5,476.5 272.5,482.2 273.3,487.1 274.1,500.2 275.3,503 276.3,475 277.4,445.4 279,453.6 280.6,461.7 281.5,467.5 282.3,470.7 283.9,472.4 284.7,494.5 285.5,501.8 286.4,482.2 288,469.1 289.3,452 290.5,436.4 292.1,451.9 293.7,452.7 294.5,455.2 295.4,482.2 297,485.5 297.8,492 298.65,493.65 299.5,495.3 300.3,472.4 301.5,448 302.7,423.3 303.55,424.1 304.4,424.9 305.6,425.7 306.8,426.5 307.6,436.4 308.5,444.5 309.3,452.7 310.1,464.2 311.7,479.7 312.55,466.2 313.4,452.7 314.9,404.8 316.5,396.6 317.4,423.6 318.2,430.2 319.8,434.3 320.6,438.4 321.5,444.1 323.1,455.6 324.7,458.8 325.5,452.3 326.35,449.85 327.2,447.4 328,431.8 329.6,436.7 330.5,453.1 331.3,433.5 332.9,465.4 334.5,490 335.5,499.6 336.5,490 337.8,435.1 338.65,432.25 339.5,429.4 341.1,421.2 342.35,422 343.6,422.8 344.4,444.1 345.2,463.7 346.5,483.8 347.5,478.2 348.4,487.5 349.3,483.8 350.25,476.8 351.2,469.8 352.1,449.3 353.3,439.7 354.9,409.5 355.7,435.6 356.5,420.9 357.35,422.55 358.2,424.2 359.8,423.4 360.65,425.85 361.5,428.3 363.1,441.4 364.7,438.9 365.5,396.4 366.4,405.4 367.2,414.4 368.8,414.4 369.6,425 370.5,428.3 371.3,435.6 372.9,442.2 373.7,447.1 374.5,448.7 375.4,429.9 376.2,438.1 377,433.2 378.6,433.2 379.45,425 380.3,416.8 381.9,421.7 382.7,461 383.8,468 384.7,460.5 385.6,472.6 386.6,482.9 387.5,470.75 388.4,458.6 389.1,427.2 390.7,414.1 391.5,422.3 392.35,422.7 393.2,423.1 393.2,441.9 394,462.4 394.95,464.25 395.9,466.1 396.85,466.55 397.8,467 398.7,454.9 399.6,442.8 400.5,445.2 401.4,423.1 402.2,414.9 403.8,417.4 404.65,419.45 405.5,421.5 406.3,423.9 407.1,418.2 408,445.6 409.5,450.9 409.9,457.7 410.8,463.3 412,408.4 412.8,393.6 413.6,378.9 414.45,376.85 415.3,374.8 416.9,373.2 416.9,385.5 417.75,387.55 418.6,389.6 420,389.5 420.2,408.4 421.6,430.5 422.5,437 422.9,463.3 423.85,458.65 424.8,454 425.7,450.1 426.5,441.1 427.4,424.7 428.2,408.4 429,396.9 430.6,399.4 431.5,404.3 433.1,411.6 433.9,428 435.5,425.6 436.4,445.2 437.2,435.4 438,422.3 438.8,435.4 439.65,430.9 440.5,426.4 441.3,392.8 442.9,391.2 444.5,387.9 445.4,373.2 446.2,426.4 447.8,413.3 448.6,400.2 449.5,408.4 450.3,410.8 451.1,391.2" fill="none" stroke="#ff5f2e" stroke-width="0.9"/><circle cx="271.6" cy="469.1" r="1.9" fill="none" stroke="#ff5f2e" stroke-width="0.95"/><circle cx="272.5" cy="476.5" r="1.9" fill="none" stroke="#ff5f2e" stroke-width="0.95"/><circle cx="272.5" cy="482.2" r="1.9" fill="none" stroke="#ff5f2e" stroke-width="0.95"/><circle cx="273.3" cy="487.1" r="1.9" fill="none" stroke="#ff5f2e" stroke-width="0.95"/><circle cx="274.1" cy="500.2" r="1.9" fill="none" stroke="#ff5f2e" stroke-width="0.95"/><circle cx="275.3" cy="503" r="1.9" fill="none" stroke="#ff5f2e" stroke-width="0.95"/><circle cx="276.3" cy="475" r="1.9" fill="none" stroke="#ff5f2e" stroke-width="0.95"/><circle cx="277.4" cy="445.4" r="1.9" fill="none" stroke="#ff5f2e" stroke-width="0.95"/><circle cx="279" cy="453.6" r="1.9" fill="none" stroke="#ff5f2e" stroke-width="0.95"/><circle cx="280.6" cy="461.7" r="1.9" fill="none" stroke="#ff5f2e" stroke-width="0.95"/><circle cx="281.5" cy="467.5" r="1.9" fill="none" stroke="#ff5f2e" stroke-width="0.95"/><circle cx="282.3" cy="470.7" r="1.9" fill="none" stroke="#ff5f2e" stroke-width="0.95"/><circle cx="283.9" cy="472.4" r="1.9" fill="none" stroke="#ff5f2e" stroke-width="0.95"/><circle cx="284.7" cy="494.5" r="1.9" fill="none" stroke="#ff5f2e" stroke-width="0.95"/><circle cx="285.5" cy="501.8" r="1.9" fill="none" stroke="#ff5f2e" stroke-width="0.95"/><circle cx="286.4" cy="482.2" r="1.9" fill="none" stroke="#ff5f2e" stroke-width="0.95"/><circle cx="288" cy="469.1" r="1.9" fill="none" stroke="#ff5f2e" stroke-width="0.95"/><circle cx="289.3" cy="452" r="1.9" fill="none" stroke="#ff5f2e" stroke-width="0.95"/><circle cx="290.5" cy="436.4" r="1.9" fill="none" stroke="#ff5f2e" stroke-width="0.95"/><circle cx="292.1" cy="451.9" r="1.9" fill="none" stroke="#ff5f2e" stroke-width="0.95"/><circle cx="293.7" cy="452.7" r="1.9" fill="none" stroke="#ff5f2e" stroke-width="0.95"/><circle cx="294.5" cy="455.2" r="1.9" fill="none" stroke="#ff5f2e" stroke-width="0.95"/><circle cx="295.4" cy="482.2" r="1.9" fill="none" stroke="#ff5f2e" stroke-width="0.95"/><circle cx="297" cy="485.5" r="1.9" fill="none" stroke="#ff5f2e" stroke-width="0.95"/><circle cx="297.8" cy="492" r="1.9" fill="none" stroke="#ff5f2e" stroke-width="0.95"/><circle cx="298.65" cy="493.65" r="1.9" fill="none" stroke="#ff5f2e" stroke-width="0.95"/><circle cx="299.5" cy="495.3" r="1.9" fill="none" stroke="#ff5f2e" stroke-width="0.95"/><circle cx="300.3" cy="472.4" r="1.9" fill="none" stroke="#ff5f2e" stroke-width="0.95"/><circle cx="301.5" cy="448" r="1.9" fill="none" stroke="#ff5f2e" stroke-width="0.95"/><circle cx="302.7" cy="423.3" r="1.9" fill="none" stroke="#ff5f2e" stroke-width="0.95"/><circle cx="303.55" cy="424.1" r="1.9" fill="none" stroke="#ff5f2e" stroke-width="0.95"/><circle cx="304.4" cy="424.9" r="1.9" fill="none" stroke="#ff5f2e" stroke-width="0.95"/><circle cx="305.6" cy="425.7" r="1.9" fill="none" stroke="#ff5f2e" stroke-width="0.95"/><circle cx="306.8" cy="426.5" r="1.9" fill="none" stroke="#ff5f2e" stroke-width="0.95"/><circle cx="307.6" cy="436.4" r="1.9" fill="none" stroke="#ff5f2e" stroke-width="0.95"/><circle cx="308.5" cy="444.5" r="1.9" fill="none" stroke="#ff5f2e" stroke-width="0.95"/><circle cx="309.3" cy="452.7" r="1.9" fill="none" stroke="#ff5f2e" stroke-width="0.95"/><circle cx="310.1" cy="464.2" r="1.9" fill="none" stroke="#ff5f2e" stroke-width="0.95"/><circle cx="311.7" cy="479.7" r="1.9" fill="none" stroke="#ff5f2e" stroke-width="0.95"/><circle cx="312.55" cy="466.2" r="1.9" fill="none" stroke="#ff5f2e" stroke-width="0.95"/><circle cx="313.4" cy="452.7" r="1.9" fill="none" stroke="#ff5f2e" stroke-width="0.95"/><circle cx="314.9" cy="404.8" r="1.9" fill="none" stroke="#ff5f2e" stroke-width="0.95"/><circle cx="316.5" cy="396.6" r="1.9" fill="none" stroke="#ff5f2e" stroke-width="0.95"/><circle cx="317.4" cy="423.6" r="1.9" fill="none" stroke="#ff5f2e" stroke-width="0.95"/><circle cx="318.2" cy="430.2" r="1.9" fill="none" stroke="#ff5f2e" stroke-width="0.95"/><circle cx="319.8" cy="434.3" r="1.9" fill="none" stroke="#ff5f2e" stroke-width="0.95"/><circle cx="320.6" cy="438.4" r="1.9" fill="none" stroke="#ff5f2e" stroke-width="0.95"/><circle cx="321.5" cy="444.1" r="1.9" fill="none" stroke="#ff5f2e" stroke-width="0.95"/><circle cx="323.1" cy="455.6" r="1.9" fill="none" stroke="#ff5f2e" stroke-width="0.95"/><circle cx="324.7" cy="458.8" r="1.9" fill="none" stroke="#ff5f2e" stroke-width="0.95"/><circle cx="325.5" cy="452.3" r="1.9" fill="none" stroke="#ff5f2e" stroke-width="0.95"/><circle cx="326.35" cy="449.85" r="1.9" fill="none" stroke="#ff5f2e" stroke-width="0.95"/><circle cx="327.2" cy="447.4" r="1.9" fill="none" stroke="#ff5f2e" stroke-width="0.95"/><circle cx="328" cy="431.8" r="1.9" fill="none" stroke="#ff5f2e" stroke-width="0.95"/><circle cx="329.6" cy="436.7" r="1.9" fill="none" stroke="#ff5f2e" stroke-width="0.95"/><circle cx="330.5" cy="453.1" r="1.9" fill="none" stroke="#ff5f2e" stroke-width="0.95"/><circle cx="331.3" cy="433.5" r="1.9" fill="none" stroke="#ff5f2e" stroke-width="0.95"/><circle cx="332.9" cy="465.4" r="1.9" fill="none" stroke="#ff5f2e" stroke-width="0.95"/><circle cx="334.5" cy="490" r="1.9" fill="none" stroke="#ff5f2e" stroke-width="0.95"/><circle cx="335.5" cy="499.6" r="1.9" fill="none" stroke="#ff5f2e" stroke-width="0.95"/><circle cx="336.5" cy="490" r="1.9" fill="none" stroke="#ff5f2e" stroke-width="0.95"/><circle cx="337.8" cy="435.1" r="1.9" fill="none" stroke="#ff5f2e" stroke-width="0.95"/><circle cx="338.65" cy="432.25" r="1.9" fill="none" stroke="#ff5f2e" stroke-width="0.95"/><circle cx="339.5" cy="429.4" r="1.9" fill="none" stroke="#ff5f2e" stroke-width="0.95"/><circle cx="341.1" cy="421.2" r="1.9" fill="none" stroke="#ff5f2e" stroke-width="0.95"/><circle cx="342.35" cy="422" r="1.9" fill="none" stroke="#ff5f2e" stroke-width="0.95"/><circle cx="343.6" cy="422.8" r="1.9" fill="none" stroke="#ff5f2e" stroke-width="0.95"/><circle cx="344.4" cy="444.1" r="1.9" fill="none" stroke="#ff5f2e" stroke-width="0.95"/><circle cx="345.2" cy="463.7" r="1.9" fill="none" stroke="#ff5f2e" stroke-width="0.95"/><circle cx="346.5" cy="483.8" r="1.9" fill="none" stroke="#ff5f2e" stroke-width="0.95"/><circle cx="347.5" cy="478.2" r="1.9" fill="none" stroke="#ff5f2e" stroke-width="0.95"/><circle cx="348.4" cy="487.5" r="1.9" fill="none" stroke="#ff5f2e" stroke-width="0.95"/><circle cx="349.3" cy="483.8" r="1.9" fill="none" stroke="#ff5f2e" stroke-width="0.95"/><circle cx="350.25" cy="476.8" r="1.9" fill="none" stroke="#ff5f2e" stroke-width="0.95"/><circle cx="351.2" cy="469.8" r="1.9" fill="none" stroke="#ff5f2e" stroke-width="0.95"/><circle cx="352.1" cy="449.3" r="1.9" fill="none" stroke="#ff5f2e" stroke-width="0.95"/><circle cx="353.3" cy="439.7" r="1.9" fill="none" stroke="#ff5f2e" stroke-width="0.95"/><circle cx="354.9" cy="409.5" r="1.9" fill="none" stroke="#ff5f2e" stroke-width="0.95"/><circle cx="355.7" cy="435.6" r="1.9" fill="none" stroke="#ff5f2e" stroke-width="0.95"/><circle cx="356.5" cy="420.9" r="1.9" fill="none" stroke="#ff5f2e" stroke-width="0.95"/><circle cx="357.35" cy="422.55" r="1.9" fill="none" stroke="#ff5f2e" stroke-width="0.95"/><circle cx="358.2" cy="424.2" r="1.9" fill="none" stroke="#ff5f2e" stroke-width="0.95"/><circle cx="359.8" cy="423.4" r="1.9" fill="none" stroke="#ff5f2e" stroke-width="0.95"/><circle cx="360.65" cy="425.85" r="1.9" fill="none" stroke="#ff5f2e" stroke-width="0.95"/><circle cx="361.5" cy="428.3" r="1.9" fill="none" stroke="#ff5f2e" stroke-width="0.95"/><circle cx="363.1" cy="441.4" r="1.9" fill="none" stroke="#ff5f2e" stroke-width="0.95"/><circle cx="364.7" cy="438.9" r="1.9" fill="none" stroke="#ff5f2e" stroke-width="0.95"/><circle cx="365.5" cy="396.4" r="1.9" fill="none" stroke="#ff5f2e" stroke-width="0.95"/><circle cx="366.4" cy="405.4" r="1.9" fill="none" stroke="#ff5f2e" stroke-width="0.95"/><circle cx="367.2" cy="414.4" r="1.9" fill="none" stroke="#ff5f2e" stroke-width="0.95"/><circle cx="368.8" cy="414.4" r="1.9" fill="none" stroke="#ff5f2e" stroke-width="0.95"/><circle cx="369.6" cy="425" r="1.9" fill="none" stroke="#ff5f2e" stroke-width="0.95"/><circle cx="370.5" cy="428.3" r="1.9" fill="none" stroke="#ff5f2e" stroke-width="0.95"/><circle cx="371.3" cy="435.6" r="1.9" fill="none" stroke="#ff5f2e" stroke-width="0.95"/><circle cx="372.9" cy="442.2" r="1.9" fill="none" stroke="#ff5f2e" stroke-width="0.95"/><circle cx="373.7" cy="447.1" r="1.9" fill="none" stroke="#ff5f2e" stroke-width="0.95"/><circle cx="374.5" cy="448.7" r="1.9" fill="none" stroke="#ff5f2e" stroke-width="0.95"/><circle cx="375.4" cy="429.9" r="1.9" fill="none" stroke="#ff5f2e" stroke-width="0.95"/><circle cx="376.2" cy="438.1" r="1.9" fill="none" stroke="#ff5f2e" stroke-width="0.95"/><circle cx="377" cy="433.2" r="1.9" fill="none" stroke="#ff5f2e" stroke-width="0.95"/><circle cx="378.6" cy="433.2" r="1.9" fill="none" stroke="#ff5f2e" stroke-width="0.95"/><circle cx="379.45" cy="425" r="1.9" fill="none" stroke="#ff5f2e" stroke-width="0.95"/><circle cx="380.3" cy="416.8" r="1.9" fill="none" stroke="#ff5f2e" stroke-width="0.95"/><circle cx="381.9" cy="421.7" r="1.9" fill="none" stroke="#ff5f2e" stroke-width="0.95"/><circle cx="382.7" cy="461" r="1.9" fill="none" stroke="#ff5f2e" stroke-width="0.95"/><circle cx="383.8" cy="468" r="1.9" fill="none" stroke="#ff5f2e" stroke-width="0.95"/><circle cx="384.7" cy="460.5" r="1.9" fill="none" stroke="#ff5f2e" stroke-width="0.95"/><circle cx="385.6" cy="472.6" r="1.9" fill="none" stroke="#ff5f2e" stroke-width="0.95"/><circle cx="386.6" cy="482.9" r="1.9" fill="none" stroke="#ff5f2e" stroke-width="0.95"/><circle cx="387.5" cy="470.75" r="1.9" fill="none" stroke="#ff5f2e" stroke-width="0.95"/><circle cx="388.4" cy="458.6" r="1.9" fill="none" stroke="#ff5f2e" stroke-width="0.95"/><circle cx="389.1" cy="427.2" r="1.9" fill="none" stroke="#ff5f2e" stroke-width="0.95"/><circle cx="390.7" cy="414.1" r="1.9" fill="none" stroke="#ff5f2e" stroke-width="0.95"/><circle cx="391.5" cy="422.3" r="1.9" fill="none" stroke="#ff5f2e" stroke-width="0.95"/><circle cx="392.35" cy="422.7" r="1.9" fill="none" stroke="#ff5f2e" stroke-width="0.95"/><circle cx="393.2" cy="423.1" r="1.9" fill="none" stroke="#ff5f2e" stroke-width="0.95"/><circle cx="393.2" cy="441.9" r="1.9" fill="none" stroke="#ff5f2e" stroke-width="0.95"/><circle cx="394" cy="462.4" r="1.9" fill="none" stroke="#ff5f2e" stroke-width="0.95"/><circle cx="394.95" cy="464.25" r="1.9" fill="none" stroke="#ff5f2e" stroke-width="0.95"/><circle cx="395.9" cy="466.1" r="1.9" fill="none" stroke="#ff5f2e" stroke-width="0.95"/><circle cx="396.85" cy="466.55" r="1.9" fill="none" stroke="#ff5f2e" stroke-width="0.95"/><circle cx="397.8" cy="467" r="1.9" fill="none" stroke="#ff5f2e" stroke-width="0.95"/><circle cx="398.7" cy="454.9" r="1.9" fill="none" stroke="#ff5f2e" stroke-width="0.95"/><circle cx="399.6" cy="442.8" r="1.9" fill="none" stroke="#ff5f2e" stroke-width="0.95"/><circle cx="400.5" cy="445.2" r="1.9" fill="none" stroke="#ff5f2e" stroke-width="0.95"/><circle cx="401.4" cy="423.1" r="1.9" fill="none" stroke="#ff5f2e" stroke-width="0.95"/><circle cx="402.2" cy="414.9" r="1.9" fill="none" stroke="#ff5f2e" stroke-width="0.95"/><circle cx="403.8" cy="417.4" r="1.9" fill="none" stroke="#ff5f2e" stroke-width="0.95"/><circle cx="404.65" cy="419.45" r="1.9" fill="none" stroke="#ff5f2e" stroke-width="0.95"/><circle cx="405.5" cy="421.5" r="1.9" fill="none" stroke="#ff5f2e" stroke-width="0.95"/><circle cx="406.3" cy="423.9" r="1.9" fill="none" stroke="#ff5f2e" stroke-width="0.95"/><circle cx="407.1" cy="418.2" r="1.9" fill="none" stroke="#ff5f2e" stroke-width="0.95"/><circle cx="408" cy="445.6" r="1.9" fill="none" stroke="#ff5f2e" stroke-width="0.95"/><circle cx="409.5" cy="450.9" r="1.9" fill="none" stroke="#ff5f2e" stroke-width="0.95"/><circle cx="409.9" cy="457.7" r="1.9" fill="none" stroke="#ff5f2e" stroke-width="0.95"/><circle cx="410.8" cy="463.3" r="1.9" fill="none" stroke="#ff5f2e" stroke-width="0.95"/><circle cx="412" cy="408.4" r="1.9" fill="none" stroke="#ff5f2e" stroke-width="0.95"/><circle cx="412.8" cy="393.6" r="1.9" fill="none" stroke="#ff5f2e" stroke-width="0.95"/><circle cx="413.6" cy="378.9" r="1.9" fill="none" stroke="#ff5f2e" stroke-width="0.95"/><circle cx="414.45" cy="376.85" r="1.9" fill="none" stroke="#ff5f2e" stroke-width="0.95"/><circle cx="415.3" cy="374.8" r="1.9" fill="none" stroke="#ff5f2e" stroke-width="0.95"/><circle cx="416.9" cy="373.2" r="1.9" fill="none" stroke="#ff5f2e" stroke-width="0.95"/><circle cx="416.9" cy="385.5" r="1.9" fill="none" stroke="#ff5f2e" stroke-width="0.95"/><circle cx="417.75" cy="387.55" r="1.9" fill="none" stroke="#ff5f2e" stroke-width="0.95"/><circle cx="418.6" cy="389.6" r="1.9" fill="none" stroke="#ff5f2e" stroke-width="0.95"/><circle cx="420" cy="389.5" r="1.9" fill="none" stroke="#ff5f2e" stroke-width="0.95"/><circle cx="420.2" cy="408.4" r="1.9" fill="none" stroke="#ff5f2e" stroke-width="0.95"/><circle cx="421.6" cy="430.5" r="1.9" fill="none" stroke="#ff5f2e" stroke-width="0.95"/><circle cx="422.5" cy="437" r="1.9" fill="none" stroke="#ff5f2e" stroke-width="0.95"/><circle cx="422.9" cy="463.3" r="1.9" fill="none" stroke="#ff5f2e" stroke-width="0.95"/><circle cx="423.85" cy="458.65" r="1.9" fill="none" stroke="#ff5f2e" stroke-width="0.95"/><circle cx="424.8" cy="454" r="1.9" fill="none" stroke="#ff5f2e" stroke-width="0.95"/><circle cx="425.7" cy="450.1" r="1.9" fill="none" stroke="#ff5f2e" stroke-width="0.95"/><circle cx="426.5" cy="441.1" r="1.9" fill="none" stroke="#ff5f2e" stroke-width="0.95"/><circle cx="427.4" cy="424.7" r="1.9" fill="none" stroke="#ff5f2e" stroke-width="0.95"/><circle cx="428.2" cy="408.4" r="1.9" fill="none" stroke="#ff5f2e" stroke-width="0.95"/><circle cx="429" cy="396.9" r="1.9" fill="none" stroke="#ff5f2e" stroke-width="0.95"/><circle cx="430.6" cy="399.4" r="1.9" fill="none" stroke="#ff5f2e" stroke-width="0.95"/><circle cx="431.5" cy="404.3" r="1.9" fill="none" stroke="#ff5f2e" stroke-width="0.95"/><circle cx="433.1" cy="411.6" r="1.9" fill="none" stroke="#ff5f2e" stroke-width="0.95"/><circle cx="433.9" cy="428" r="1.9" fill="none" stroke="#ff5f2e" stroke-width="0.95"/><circle cx="435.5" cy="425.6" r="1.9" fill="none" stroke="#ff5f2e" stroke-width="0.95"/><circle cx="436.4" cy="445.2" r="1.9" fill="none" stroke="#ff5f2e" stroke-width="0.95"/><circle cx="437.2" cy="435.4" r="1.9" fill="none" stroke="#ff5f2e" stroke-width="0.95"/><circle cx="438" cy="422.3" r="1.9" fill="none" stroke="#ff5f2e" stroke-width="0.95"/><circle cx="438.8" cy="435.4" r="1.9" fill="none" stroke="#ff5f2e" stroke-width="0.95"/><circle cx="439.65" cy="430.9" r="1.9" fill="none" stroke="#ff5f2e" stroke-width="0.95"/><circle cx="440.5" cy="426.4" r="1.9" fill="none" stroke="#ff5f2e" stroke-width="0.95"/><circle cx="441.3" cy="392.8" r="1.9" fill="none" stroke="#ff5f2e" stroke-width="0.95"/><circle cx="442.9" cy="391.2" r="1.9" fill="none" stroke="#ff5f2e" stroke-width="0.95"/><circle cx="444.5" cy="387.9" r="1.9" fill="none" stroke="#ff5f2e" stroke-width="0.95"/><circle cx="445.4" cy="373.2" r="1.9" fill="none" stroke="#ff5f2e" stroke-width="0.95"/><circle cx="446.2" cy="426.4" r="1.9" fill="none" stroke="#ff5f2e" stroke-width="0.95"/><circle cx="447.8" cy="413.3" r="1.9" fill="none" stroke="#ff5f2e" stroke-width="0.95"/><circle cx="448.6" cy="400.2" r="1.9" fill="none" stroke="#ff5f2e" stroke-width="0.95"/><circle cx="449.5" cy="408.4" r="1.9" fill="none" stroke="#ff5f2e" stroke-width="0.95"/><circle cx="450.3" cy="410.8" r="1.9" fill="none" stroke="#ff5f2e" stroke-width="0.95"/><circle cx="451.1" cy="391.2" r="1.9" fill="none" stroke="#ff5f2e" stroke-width="0.95"/></g><rect x="275.5" y="366.5" width="59.9" height="16.8" fill="#fff" stroke="#444444" stroke-width="1"/><line x1="277.7" y1="370.6" x2="295.4" y2="370.6" stroke="#ff5f2e" stroke-width="0.9"/><circle cx="286" cy="370.6" r="1.8" fill="none" stroke="#ff5f2e" stroke-width="0.8"/><text transform="translate(298.6 373.6) scale(1 1.16)" font-family="Liberation Serif" font-weight="normal" font-size="6.9" text-anchor="start" fill="#000"  stroke="#000" stroke-width="0.05">Point B</text><rect x="277.7" y="375.7" width="17.7" height="5.2" fill="#78a3d8"/><text transform="translate(297 381.8) scale(1 1.16)" font-family="Liberation Serif" font-weight="normal" font-size="6.9" text-anchor="start" fill="#000"  stroke="#000" stroke-width="0.05">Precipitation</text><text transform="translate(361.3 543.3) scale(1 1.16)" font-family="Liberation Serif" font-weight="bold" font-size="8.7" text-anchor="middle" fill="#000"  stroke="#000" stroke-width="0.08">Time (year)</text></svg></body></html>
